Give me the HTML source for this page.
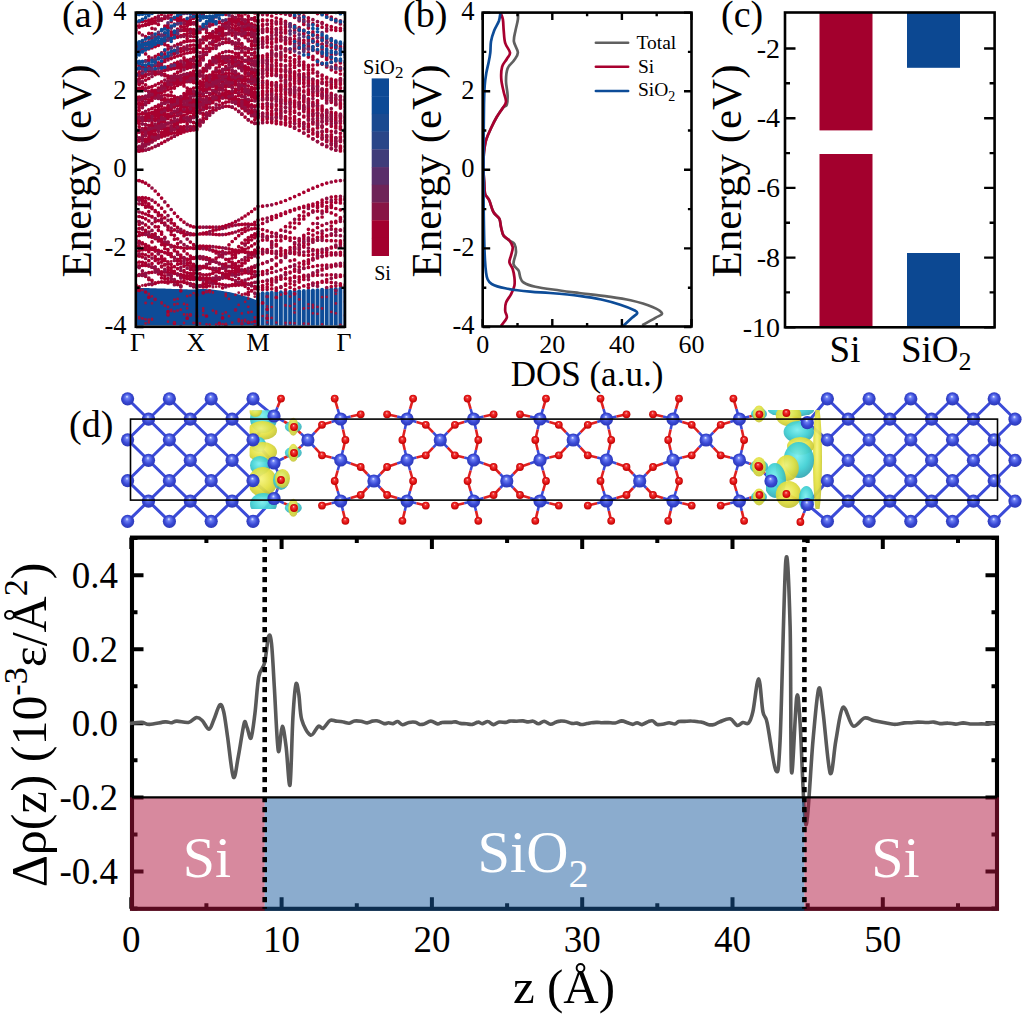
<!DOCTYPE html>
<html><head><meta charset="utf-8"><style>html,body{margin:0;padding:0;background:#fff;overflow:hidden}svg{display:block}text{font-family:"Liberation Serif",serif}</style></head>
<body><svg width="1025" height="1014" viewBox="0 0 1025 1014">
<g id="pa">
<clipPath id="clipa"><rect x="136.0" y="13.9" width="207.7" height="311.6"/></clipPath>
<g clip-path="url(#clipa)">
<polygon points="136.0,330 136.0,287.7 137.0,287.7 138.0,287.8 139.0,287.8 140.0,287.8 141.0,287.9 142.0,287.9 143.0,287.9 144.0,288.0 145.0,288.0 146.0,288.0 147.0,288.1 148.0,288.1 149.0,288.1 150.0,288.2 151.0,288.2 152.0,288.2 153.0,288.2 154.0,288.3 155.0,288.3 156.0,288.3 157.0,288.4 158.0,288.4 159.0,288.4 160.0,288.5 161.0,288.5 162.0,288.5 163.0,288.6 164.0,288.6 165.0,288.6 166.0,288.7 167.0,288.7 168.0,288.7 169.0,288.8 170.0,288.8 171.0,288.8 172.0,288.9 173.0,288.9 174.0,288.9 175.0,289.0 176.0,289.0 177.0,289.0 178.0,289.1 179.0,289.1 180.0,289.1 181.0,289.2 182.0,289.2 183.0,289.2 184.0,289.3 185.0,289.3 186.0,289.3 187.0,289.3 188.0,289.4 189.0,289.4 190.0,289.4 191.0,289.5 192.0,289.5 193.0,289.5 194.0,289.6 195.0,289.6 196.0,289.6 197.0,288.9 198.0,288.9 199.0,288.9 200.0,288.9 201.0,288.9 202.0,289.0 203.0,289.0 204.0,289.0 205.0,289.1 206.0,289.1 207.0,289.2 208.0,289.3 209.0,289.3 210.0,289.4 211.0,289.5 212.0,289.6 213.0,289.7 214.0,289.8 215.0,289.9 216.0,290.0 217.0,290.2 218.0,290.3 219.0,290.4 220.0,290.6 221.0,290.7 222.0,290.9 223.0,291.0 224.0,291.2 225.0,291.4 226.0,291.6 227.0,291.7 228.0,291.9 229.0,292.1 230.0,292.3 231.0,292.6 232.0,292.8 233.0,293.0 234.0,293.2 235.0,293.5 236.0,293.7 237.0,294.0 238.0,294.2 239.0,294.5 240.0,294.8 241.0,295.0 242.0,295.3 243.0,295.6 244.0,295.9 245.0,296.2 246.0,296.5 247.0,296.8 248.0,297.1 249.0,297.5 250.0,297.8 251.0,298.1 252.0,298.5 253.0,298.8 254.0,299.2 255.0,299.5 256.0,299.9 257.0,300.3 258.0,293.6 258.0,330" fill="#0d4c98"/>
<line x1="258.0" y1="293.6" x2="258.0" y2="330" stroke="#0d4c98" stroke-width="3.9" stroke-linecap="round"/>
<line x1="262.6" y1="293.3" x2="262.6" y2="330" stroke="#0d4c98" stroke-width="3.9" stroke-linecap="round"/>
<line x1="267.2" y1="293.1" x2="267.2" y2="330" stroke="#0d4c98" stroke-width="3.9" stroke-linecap="round"/>
<line x1="271.7" y1="292.8" x2="271.7" y2="330" stroke="#0d4c98" stroke-width="3.9" stroke-linecap="round"/>
<line x1="276.3" y1="292.5" x2="276.3" y2="330" stroke="#0d4c98" stroke-width="3.9" stroke-linecap="round"/>
<line x1="280.9" y1="292.3" x2="280.9" y2="330" stroke="#0d4c98" stroke-width="3.9" stroke-linecap="round"/>
<line x1="285.5" y1="292.0" x2="285.5" y2="330" stroke="#0d4c98" stroke-width="3.9" stroke-linecap="round"/>
<line x1="290.1" y1="291.7" x2="290.1" y2="330" stroke="#0d4c98" stroke-width="3.9" stroke-linecap="round"/>
<line x1="294.6" y1="291.4" x2="294.6" y2="330" stroke="#0d4c98" stroke-width="3.9" stroke-linecap="round"/>
<line x1="299.2" y1="291.2" x2="299.2" y2="330" stroke="#0d4c98" stroke-width="3.9" stroke-linecap="round"/>
<line x1="303.8" y1="290.9" x2="303.8" y2="330" stroke="#0d4c98" stroke-width="3.9" stroke-linecap="round"/>
<line x1="308.4" y1="290.6" x2="308.4" y2="330" stroke="#0d4c98" stroke-width="3.9" stroke-linecap="round"/>
<line x1="312.9" y1="290.4" x2="312.9" y2="330" stroke="#0d4c98" stroke-width="3.9" stroke-linecap="round"/>
<line x1="317.5" y1="290.1" x2="317.5" y2="330" stroke="#0d4c98" stroke-width="3.9" stroke-linecap="round"/>
<line x1="322.1" y1="289.8" x2="322.1" y2="330" stroke="#0d4c98" stroke-width="3.9" stroke-linecap="round"/>
<line x1="326.7" y1="289.6" x2="326.7" y2="330" stroke="#0d4c98" stroke-width="3.9" stroke-linecap="round"/>
<line x1="331.3" y1="289.3" x2="331.3" y2="330" stroke="#0d4c98" stroke-width="3.9" stroke-linecap="round"/>
<line x1="335.8" y1="289.0" x2="335.8" y2="330" stroke="#0d4c98" stroke-width="3.9" stroke-linecap="round"/>
<line x1="340.4" y1="288.8" x2="340.4" y2="330" stroke="#0d4c98" stroke-width="3.9" stroke-linecap="round"/>
<line x1="345.0" y1="288.5" x2="345.0" y2="330" stroke="#0d4c98" stroke-width="3.9" stroke-linecap="round"/>
<path d="M136.0 151.3h0M139.2 151.2h0M142.4 150.7h0M145.6 150.0h0M148.8 149.1h0M152.0 147.8h0M158.4 144.9h0M161.6 143.2h0M164.8 141.4h0M168.0 139.6h0M171.2 137.9h0M174.4 136.2h0M177.6 134.6h0M180.8 133.2h0M184.0 132.0h0M187.2 131.0h0M190.4 130.3h0M193.6 129.9h0M196.8 129.7h0M206.5 118.5h0M216.1 110.0h0M219.3 108.1h0M222.6 106.9h0M225.8 106.2h0M229.0 106.3h0M232.2 107.2h0M235.5 109.0h0M245.1 117.1h0M251.6 122.0h0M258.0 123.8h0M267.2 122.3h0M271.7 122.6h0M276.3 123.6h0M280.9 124.0h0M285.5 124.8h0M290.1 126.2h0M299.2 130.4h0M303.8 133.0h0M308.4 135.9h0M312.9 138.8h0M317.5 141.6h0M326.7 146.7h0M331.3 148.6h0M340.4 151.0h0M345.0 151.3h0M136.0 180.4h0M139.2 180.7h0M142.4 181.7h0M145.6 183.2h0M148.8 185.3h0M155.2 191.0h0M158.4 194.4h0M161.6 198.1h0M168.0 205.7h0M174.4 213.2h0M177.6 216.6h0M180.8 219.6h0M184.0 222.2h0M190.4 225.9h0M193.6 226.9h0M196.8 227.2h0M200.0 227.2h0M209.7 227.2h0M212.9 227.2h0M219.3 227.1h0M222.6 226.6h0M225.8 225.7h0M229.0 224.6h0M232.2 223.3h0M235.5 221.7h0M241.9 218.1h0M245.1 216.0h0M248.3 213.8h0M251.6 211.5h0M254.8 209.0h0M262.6 206.2h0M276.3 203.6h0M280.9 202.2h0M285.5 200.5h0M290.1 198.6h0M294.6 196.6h0M299.2 194.5h0M303.8 192.3h0M308.4 190.2h0M312.9 188.2h0M317.5 186.3h0M322.1 184.6h0M326.7 183.1h0M335.8 181.1h0M345.0 180.4h0M136.0 146.6h0M142.4 145.6h0M148.8 143.1h0M152.0 141.4h0M155.2 139.4h0M158.4 137.1h0M161.6 134.7h0M164.8 132.3h0M168.0 129.8h0M171.2 127.3h0M174.4 125.0h0M177.6 122.8h0M180.8 120.9h0M184.0 119.2h0M187.2 117.9h0M190.4 117.0h0M193.6 116.5h0M196.8 116.3h0M200.0 112.9h0M206.5 106.6h0M209.7 103.9h0M212.9 101.6h0M216.1 99.7h0M219.3 98.4h0M222.6 97.5h0M225.8 97.3h0M229.0 97.6h0M232.2 98.8h0M235.5 100.7h0M238.7 103.2h0M251.6 113.0h0M254.8 114.1h0M262.6 113.2h0M267.2 112.8h0M271.7 113.4h0M276.3 114.8h0M280.9 115.5h0M285.5 116.7h0M290.1 118.5h0M294.6 120.8h0M299.2 123.5h0M312.9 133.0h0M317.5 136.2h0M322.1 139.1h0M326.7 141.7h0M335.8 145.4h0M340.4 146.3h0M345.0 146.6h0M139.2 129.8h0M145.6 129.5h0M152.0 129.1h0M155.2 128.9h0M158.4 128.6h0M161.6 128.3h0M164.8 128.1h0M168.0 127.8h0M174.4 127.3h0M180.8 126.9h0M184.0 126.7h0M187.2 126.6h0M193.6 126.6h0M196.8 126.6h0M203.2 113.6h0M206.5 107.5h0M209.7 101.9h0M212.9 96.9h0M216.1 92.6h0M222.6 86.9h0M225.8 85.6h0M232.2 86.5h0M235.5 89.0h0M238.7 92.5h0M245.1 101.4h0M248.3 106.2h0M251.6 110.7h0M254.8 114.6h0M258.0 117.7h0M262.6 115.0h0M267.2 112.7h0M271.7 111.1h0M285.5 107.4h0M294.6 107.1h0M299.2 107.9h0M303.8 109.3h0M308.4 111.1h0M312.9 113.3h0M317.5 115.8h0M326.7 121.1h0M335.8 126.0h0M340.4 128.1h0M345.0 129.9h0M139.2 149.0h0M155.2 140.0h0M158.4 137.9h0M161.6 135.9h0M164.8 134.0h0M168.0 132.2h0M174.4 129.2h0M177.6 128.2h0M180.8 127.4h0M184.0 127.0h0M190.4 127.1h0M193.6 127.6h0M196.8 128.5h0M200.0 124.6h0M203.2 120.7h0M209.7 113.3h0M212.9 110.1h0M219.3 105.0h0M222.6 103.3h0M225.8 102.2h0M229.0 101.7h0M238.7 105.6h0M241.9 108.1h0M245.1 110.7h0M248.3 113.1h0M251.6 115.1h0M254.8 116.4h0M258.0 116.9h0M262.6 116.8h0M267.2 117.3h0M276.3 120.7h0M280.9 122.1h0M285.5 123.8h0M290.1 126.1h0M294.6 128.1h0M299.2 130.4h0M308.4 135.9h0M312.9 138.8h0M317.5 141.6h0M322.1 144.3h0M326.7 146.7h0M331.3 148.6h0M335.8 150.1h0M340.4 150.7h0M345.0 150.2h0M142.4 145.5h0M145.6 142.8h0M148.8 140.0h0M155.2 134.2h0M161.6 128.7h0M168.0 124.1h0M174.4 121.0h0M177.6 120.1h0M180.8 119.7h0M184.0 119.7h0M190.4 121.3h0M193.6 122.7h0M196.8 124.5h0M200.0 122.4h0M203.2 120.4h0M206.5 118.5h0M216.1 110.0h0M225.8 106.2h0M229.0 106.3h0M235.5 109.0h0M238.7 111.4h0M241.9 114.2h0M245.1 117.1h0M248.3 119.8h0M251.6 122.0h0M254.8 123.3h0M258.0 122.6h0M262.6 120.3h0M267.2 118.5h0M285.5 117.0h0M290.1 117.8h0M294.6 119.2h0M299.2 121.3h0M308.4 127.0h0M312.9 130.3h0M317.5 133.8h0M326.7 140.6h0M331.3 143.7h0M340.4 148.5h0M345.0 150.2h0M139.2 147.4h0M145.6 140.8h0M148.8 137.2h0M152.0 133.5h0M155.2 129.7h0M161.6 122.6h0M168.0 116.7h0M171.2 114.4h0M174.4 112.6h0M177.6 111.3h0M180.8 110.7h0M184.0 110.7h0M187.2 111.3h0M190.4 112.5h0M193.6 114.2h0M196.8 116.5h0M200.0 110.3h0M203.2 104.5h0M206.5 99.1h0M209.7 94.3h0M216.1 87.3h0M219.3 85.1h0M225.8 84.0h0M232.2 87.3h0M235.5 90.8h0M238.7 95.3h0M241.9 100.4h0M245.1 105.7h0M248.3 111.0h0M254.8 119.7h0M258.0 122.6h0M262.6 119.1h0M271.7 114.3h0M276.3 113.3h0M280.9 111.9h0M290.1 111.4h0M294.6 112.4h0M303.8 117.0h0M312.9 123.9h0M317.5 128.0h0M322.1 132.1h0M326.7 136.3h0M331.3 140.4h0M335.8 144.1h0M340.4 147.4h0M345.0 150.2h0M136.0 150.2h0M139.2 148.5h0M142.4 146.3h0M145.6 143.6h0M148.8 140.5h0M152.0 137.0h0M155.2 133.4h0M158.4 129.6h0M164.8 122.0h0M168.0 118.4h0M171.2 115.1h0M174.4 112.1h0M177.6 109.6h0M180.8 107.6h0M184.0 106.2h0M187.2 105.4h0M193.6 105.7h0M196.8 106.7h0M200.0 103.0h0M203.2 99.7h0M206.5 96.7h0M209.7 94.2h0M212.9 92.2h0M216.1 90.8h0M219.3 90.1h0M222.6 90.0h0M225.8 90.6h0M229.0 91.8h0M232.2 93.9h0M235.5 96.8h0M238.7 100.3h0M245.1 107.6h0M248.3 110.8h0M251.6 113.4h0M258.0 115.4h0M262.6 116.9h0M267.2 118.9h0M271.7 121.7h0M276.3 123.6h0M280.9 124.0h0M285.5 124.8h0M290.1 126.2h0M299.2 130.4h0M303.8 133.0h0M308.4 135.9h0M317.5 141.6h0M322.1 144.3h0M326.7 146.7h0M335.8 150.1h0M340.4 151.0h0M345.0 150.2h0M136.0 141.2h0M139.2 141.2h0M145.6 140.7h0M148.8 140.2h0M152.0 139.6h0M161.6 136.9h0M164.8 135.9h0M168.0 134.9h0M171.2 133.8h0M174.4 132.8h0M177.6 131.9h0M180.8 131.0h0M184.0 130.2h0M187.2 129.6h0M190.4 129.1h0M193.6 128.7h0M196.8 128.5h0M203.2 114.9h0M206.5 108.3h0M219.3 87.9h0M222.6 84.9h0M235.5 84.9h0M241.9 92.1h0M248.3 101.3h0M251.6 105.8h0M258.0 113.2h0M262.6 107.9h0M267.2 103.3h0M271.7 99.8h0M280.9 94.6h0M285.5 92.8h0M290.1 92.2h0M299.2 94.4h0M303.8 97.1h0M308.4 100.7h0M317.5 109.9h0M322.1 115.2h0M331.3 126.3h0M340.4 136.7h0M345.0 141.2h0M139.2 149.1h0M142.4 147.4h0M145.6 144.8h0M148.8 141.7h0M152.0 137.9h0M155.2 133.7h0M168.0 114.7h0M171.2 110.0h0M174.4 105.6h0M177.6 101.6h0M180.8 98.2h0M184.0 95.4h0M187.2 93.2h0M190.4 91.9h0M196.8 91.5h0M200.0 83.9h0M206.5 70.8h0M209.7 65.6h0M216.1 58.9h0M219.3 57.5h0M222.6 57.5h0M225.8 58.8h0M232.2 65.8h0M238.7 78.0h0M245.1 93.0h0M248.3 100.5h0M254.8 113.2h0M258.0 117.9h0M262.6 113.2h0M267.2 109.3h0M271.7 106.5h0M276.3 104.7h0M280.9 102.7h0M285.5 101.6h0M290.1 101.6h0M294.6 102.7h0M299.2 104.8h0M303.8 107.8h0M308.4 111.6h0M312.9 116.1h0M317.5 121.0h0M326.7 131.5h0M331.3 136.7h0M340.4 146.2h0M345.0 150.2h0M139.2 118.3h0M145.6 119.7h0M148.8 120.1h0M152.0 120.3h0M155.2 120.3h0M158.4 120.0h0M168.0 117.9h0M171.2 116.8h0M174.4 115.6h0M180.8 112.9h0M184.0 111.5h0M187.2 110.1h0M193.6 107.5h0M196.8 106.4h0M200.0 100.2h0M206.5 88.4h0M209.7 83.2h0M212.9 78.6h0M216.1 74.8h0M219.3 71.8h0M222.6 69.8h0M229.0 68.8h0M238.7 76.2h0M241.9 80.5h0M245.1 85.1h0M248.3 89.7h0M251.6 94.0h0M254.8 97.7h0M258.0 100.5h0M262.6 99.9h0M267.2 99.7h0M271.7 100.2h0M280.9 101.4h0M285.5 101.8h0M294.6 103.9h0M299.2 105.4h0M308.4 109.1h0M312.9 111.0h0M317.5 112.8h0M322.1 114.4h0M326.7 115.8h0M331.3 116.8h0M335.8 117.4h0M340.4 117.6h0M136.0 123.0h0M139.2 123.5h0M148.8 125.3h0M152.0 125.9h0M155.2 126.5h0M158.4 127.1h0M164.8 128.2h0M168.0 128.7h0M171.2 129.1h0M177.6 129.5h0M180.8 129.6h0M184.0 129.6h0M190.4 129.3h0M196.8 128.5h0M200.0 123.5h0M203.2 118.2h0M212.9 102.6h0M225.8 87.1h0M229.0 85.0h0M232.2 83.9h0M235.5 84.0h0M241.9 86.7h0M245.1 88.9h0M248.3 91.2h0M251.6 93.4h0M254.8 95.2h0M258.0 96.5h0M262.6 93.8h0M267.2 91.8h0M271.7 90.7h0M276.3 90.4h0M280.9 89.6h0M290.1 90.0h0M294.6 91.3h0M299.2 93.3h0M308.4 98.8h0M312.9 102.2h0M322.1 109.3h0M326.7 112.7h0M335.8 118.8h0M136.0 123.0h0M139.2 126.4h0M142.4 129.5h0M148.8 134.1h0M152.0 135.6h0M155.2 136.5h0M158.4 136.7h0M161.6 136.2h0M164.8 135.2h0M168.0 133.5h0M171.2 131.2h0M174.4 128.4h0M177.6 125.3h0M180.8 121.7h0M184.0 118.0h0M187.2 114.0h0M190.4 110.1h0M193.6 106.2h0M196.8 102.5h0M200.0 96.8h0M203.2 91.1h0M212.9 75.0h0M216.1 70.6h0M219.3 66.8h0M222.6 63.8h0M225.8 61.6h0M229.0 60.4h0M232.2 60.3h0M235.5 61.4h0M238.7 63.6h0M241.9 66.4h0M245.1 69.7h0M248.3 73.1h0M258.0 81.1h0M262.6 80.8h0M267.2 81.2h0M271.7 82.7h0M280.9 86.6h0M285.5 88.7h0M290.1 91.5h0M294.6 94.7h0M299.2 98.3h0M303.8 102.1h0M312.9 109.8h0M322.1 116.6h0M331.3 121.3h0M340.4 123.2h0M345.0 123.0h0M142.4 150.0h0M152.0 147.8h0M161.6 143.2h0M164.8 141.4h0M171.2 137.9h0M177.6 134.6h0M180.8 133.2h0M184.0 128.7h0M187.2 123.9h0M193.6 114.5h0M209.7 100.4h0M219.3 96.5h0M222.6 96.1h0M225.8 96.1h0M232.2 98.0h0M235.5 100.0h0M238.7 102.4h0M241.9 105.0h0M248.3 109.6h0M251.6 111.0h0M254.8 111.5h0M258.0 110.9h0M262.6 108.1h0M267.2 105.9h0M276.3 104.5h0M290.1 104.6h0M294.6 106.2h0M299.2 108.6h0M303.8 111.6h0M317.5 123.0h0M322.1 127.1h0M326.7 131.0h0M331.3 134.7h0M335.8 138.0h0M340.4 140.8h0M345.0 142.9h0M136.0 140.6h0M139.2 139.3h0M148.8 133.1h0M152.0 130.4h0M158.4 124.7h0M161.6 121.8h0M164.8 118.9h0M168.0 116.2h0M171.2 113.7h0M180.8 108.2h0M184.0 107.2h0M187.2 106.6h0M190.4 106.5h0M193.6 106.9h0M200.0 103.8h0M206.5 96.5h0M212.9 90.6h0M216.1 88.5h0M219.3 87.0h0M225.8 85.8h0M229.0 86.3h0M235.5 89.9h0M241.9 96.1h0M245.1 99.4h0M248.3 102.4h0M251.6 104.8h0M254.8 106.5h0M262.6 106.6h0M267.2 106.7h0M271.7 107.8h0M276.3 109.5h0M280.9 110.6h0M285.5 112.1h0M290.1 114.2h0M294.6 116.7h0M299.2 119.6h0M303.8 122.7h0M308.4 126.0h0M312.9 129.2h0M322.1 135.0h0M326.7 137.3h0M331.3 139.1h0M335.8 140.3h0M345.0 140.6h0M139.2 129.8h0M142.4 129.7h0M145.6 129.4h0M148.8 129.0h0M155.2 127.5h0M158.4 126.6h0M168.0 123.4h0M171.2 122.2h0M180.8 119.0h0M190.4 116.7h0M193.6 116.3h0M196.8 116.0h0M203.2 109.4h0M206.5 106.2h0M209.7 103.1h0M212.9 100.2h0M216.1 97.6h0M219.3 95.4h0M222.6 93.7h0M225.8 92.4h0M229.0 91.6h0M232.2 91.7h0M235.5 92.5h0M238.7 93.9h0M241.9 95.7h0M251.6 100.5h0M258.0 100.7h0M262.6 99.4h0M285.5 100.6h0M290.1 101.9h0M294.6 103.8h0M303.8 109.0h0M308.4 112.0h0M312.9 115.1h0M322.1 121.2h0M326.7 123.8h0M331.3 126.1h0M335.8 127.9h0M340.4 129.1h0M345.0 129.7h0M136.0 133.4h0M142.4 130.0h0M145.6 127.9h0M148.8 125.5h0M152.0 123.0h0M155.2 120.5h0M158.4 117.9h0M161.6 115.3h0M164.8 112.9h0M168.0 110.7h0M171.2 108.8h0M174.4 107.1h0M177.6 105.8h0M180.8 104.9h0M187.2 104.4h0M190.4 104.7h0M196.8 106.7h0M203.2 102.2h0M209.7 98.4h0M212.9 96.9h0M216.1 95.7h0M219.3 94.9h0M222.6 94.4h0M225.8 94.4h0M229.0 94.8h0M235.5 97.4h0M238.7 99.4h0M245.1 103.5h0M248.3 105.1h0M251.6 106.0h0M254.8 105.9h0M258.0 104.9h0M262.6 104.1h0M276.3 105.7h0M280.9 106.3h0M290.1 108.9h0M294.6 110.9h0M299.2 113.3h0M303.8 116.0h0M308.4 118.9h0M317.5 124.6h0M322.1 127.2h0M326.7 129.5h0M331.3 131.3h0M340.4 133.3h0M345.0 133.4h0M136.0 140.9h0M139.2 139.0h0M148.8 131.6h0M152.0 128.8h0M155.2 125.9h0M158.4 123.1h0M161.6 120.4h0M164.8 117.8h0M168.0 115.5h0M174.4 111.8h0M177.6 110.6h0M180.8 109.8h0M187.2 109.6h0M190.4 110.2h0M193.6 111.3h0M196.8 112.8h0M200.0 109.9h0M203.2 107.1h0M206.5 104.6h0M209.7 102.4h0M212.9 100.6h0M216.1 99.2h0M219.3 98.2h0M222.6 97.8h0M225.8 97.8h0M229.0 98.4h0M232.2 99.7h0M238.7 104.2h0M241.9 106.9h0M245.1 109.6h0M248.3 111.8h0M251.6 113.3h0M258.0 113.6h0M267.2 114.0h0M271.7 115.2h0M276.3 117.1h0M285.5 119.6h0M290.1 121.4h0M299.2 126.1h0M303.8 128.7h0M308.4 131.4h0M312.9 133.9h0M317.5 136.3h0M322.1 138.3h0M331.3 141.1h0M335.8 141.6h0M340.4 141.6h0M139.2 138.0h0M142.4 138.7h0M145.6 139.0h0M148.8 138.8h0M152.0 138.1h0M155.2 137.0h0M161.6 133.6h0M164.8 131.4h0M168.0 129.0h0M174.4 123.6h0M177.6 120.8h0M180.8 118.1h0M184.0 115.4h0M187.2 113.0h0M190.4 110.8h0M193.6 108.8h0M200.0 103.9h0M206.5 97.2h0M209.7 94.0h0M212.9 91.0h0M216.1 88.3h0M219.3 86.1h0M222.6 84.3h0M225.8 83.0h0M229.0 82.3h0M232.2 82.4h0M235.5 83.2h0M241.9 86.6h0M251.6 91.6h0M254.8 92.3h0M258.0 92.1h0M262.6 95.3h0M276.3 109.1h0M285.5 118.0h0M290.1 122.6h0M294.6 127.1h0M299.2 130.4h0M308.4 135.9h0M312.9 138.8h0M322.1 144.3h0M331.3 145.0h0M340.4 140.6h0M345.0 136.9h0M139.2 102.7h0M142.4 100.8h0M145.6 98.7h0M148.8 96.5h0M152.0 94.2h0M155.2 91.9h0M158.4 89.7h0M161.6 87.5h0M164.8 85.6h0M168.0 83.8h0M171.2 82.3h0M174.4 81.2h0M177.6 80.4h0M184.0 79.8h0M187.2 80.2h0M190.4 80.8h0M193.6 81.9h0M196.8 83.2h0M200.0 82.8h0M203.2 82.3h0M206.5 81.8h0M209.7 81.3h0M212.9 80.8h0M216.1 80.3h0M219.3 79.9h0M225.8 79.1h0M229.0 78.9h0M232.2 79.0h0M235.5 79.3h0M238.7 79.9h0M241.9 80.3h0M245.1 80.5h0M248.3 80.1h0M251.6 78.9h0M254.8 76.9h0M267.2 72.9h0M271.7 73.7h0M276.3 75.1h0M280.9 75.9h0M285.5 77.0h0M294.6 81.0h0M299.2 83.6h0M303.8 86.4h0M308.4 89.5h0M312.9 92.5h0M317.5 95.4h0M322.1 98.1h0M326.7 100.4h0M331.3 102.3h0M340.4 104.3h0M345.0 104.3h0M136.0 130.6h0M139.2 131.6h0M142.4 132.2h0M145.6 132.4h0M148.8 132.2h0M152.0 131.6h0M155.2 130.5h0M158.4 129.1h0M161.6 127.4h0M164.8 125.4h0M171.2 120.7h0M177.6 115.7h0M184.0 110.7h0M187.2 108.5h0M190.4 106.5h0M196.8 103.4h0M203.2 95.8h0M209.7 89.0h0M212.9 86.1h0M219.3 81.7h0M222.6 80.3h0M225.8 79.5h0M229.0 79.4h0M232.2 80.2h0M235.5 81.8h0M241.9 86.8h0M245.1 89.5h0M248.3 92.0h0M251.6 94.0h0M254.8 95.3h0M262.6 91.0h0M267.2 87.2h0M271.7 84.4h0M276.3 82.7h0M280.9 80.8h0M285.5 79.9h0M290.1 80.0h0M294.6 81.3h0M299.2 83.6h0M303.8 86.8h0M308.4 90.9h0M312.9 95.6h0M317.5 100.7h0M322.1 106.1h0M331.3 116.9h0M335.8 122.0h0M340.4 126.6h0M345.0 130.6h0M136.0 150.2h0M139.2 148.7h0M142.4 146.8h0M145.6 144.8h0M148.8 142.5h0M152.0 140.0h0M158.4 134.9h0M161.6 132.4h0M164.8 130.0h0M168.0 127.8h0M171.2 125.9h0M174.4 124.2h0M177.6 122.9h0M180.8 122.0h0M184.0 121.4h0M187.2 121.3h0M193.6 122.4h0M196.8 123.5h0M200.0 120.9h0M203.2 117.9h0M206.5 114.7h0M209.7 111.3h0M212.9 107.8h0M219.3 101.1h0M225.8 95.1h0M229.0 92.7h0M235.5 89.9h0M238.7 89.5h0M241.9 89.5h0M245.1 89.6h0M248.3 89.7h0M251.6 89.6h0M254.8 88.9h0M262.6 85.5h0M267.2 84.3h0M271.7 84.5h0M276.3 85.9h0M280.9 87.3h0M285.5 89.5h0M294.6 96.9h0M299.2 101.8h0M303.8 107.3h0M308.4 113.2h0M326.7 136.6h0M331.3 141.3h0M335.8 145.2h0M340.4 148.2h0M345.0 150.2h0M136.0 120.6h0M139.2 120.0h0M145.6 118.1h0M148.8 116.8h0M152.0 115.4h0M155.2 113.9h0M158.4 112.3h0M161.6 110.6h0M164.8 109.0h0M168.0 107.4h0M171.2 105.9h0M177.6 103.4h0M180.8 102.4h0M190.4 101.0h0M193.6 101.1h0M196.8 101.4h0M200.0 98.0h0M203.2 94.7h0M206.5 91.5h0M209.7 88.6h0M212.9 86.1h0M216.1 84.0h0M219.3 82.3h0M222.6 81.2h0M229.0 80.7h0M232.2 81.6h0M235.5 83.2h0M238.7 85.5h0M241.9 88.0h0M251.6 94.6h0M254.8 95.6h0M258.0 95.6h0M262.6 94.8h0M267.2 94.6h0M276.3 96.3h0M280.9 96.8h0M285.5 97.6h0M290.1 99.0h0M294.6 100.8h0M299.2 102.9h0M303.8 105.4h0M308.4 107.9h0M312.9 110.6h0M331.3 119.0h0M335.8 120.1h0M340.4 120.7h0M136.0 132.0h0M139.2 132.1h0M142.4 131.6h0M145.6 130.6h0M152.0 126.8h0M164.8 114.2h0M168.0 110.5h0M171.2 106.8h0M174.4 103.2h0M184.0 93.7h0M187.2 91.3h0M190.4 89.4h0M193.6 88.1h0M196.8 87.3h0M200.0 86.4h0M203.2 85.7h0M206.5 85.5h0M209.7 85.5h0M216.1 86.7h0M219.3 87.8h0M222.6 89.2h0M225.8 90.8h0M229.0 92.7h0M232.2 95.1h0M235.5 97.7h0M238.7 100.5h0M241.9 103.0h0M245.1 105.2h0M248.3 106.5h0M251.6 106.9h0M254.8 106.0h0M258.0 103.9h0M271.7 92.0h0M276.3 89.9h0M280.9 87.6h0M285.5 86.1h0M290.1 85.7h0M294.6 86.5h0M299.2 88.2h0M303.8 90.9h0M308.4 94.4h0M317.5 103.2h0M322.1 108.2h0M331.3 118.5h0M335.8 123.4h0M340.4 127.9h0M142.4 134.9h0M145.6 131.6h0M152.0 124.3h0M155.2 120.5h0M158.4 116.7h0M161.6 113.0h0M164.8 109.5h0M168.0 106.4h0M171.2 103.6h0M174.4 101.4h0M180.8 98.5h0M184.0 98.0h0M187.2 98.1h0M190.4 98.9h0M193.6 100.2h0M196.8 102.2h0M200.0 98.1h0M203.2 93.8h0M206.5 89.4h0M212.9 80.6h0M216.1 76.5h0M219.3 72.7h0M225.8 66.7h0M232.2 63.3h0M235.5 63.1h0M238.7 63.6h0M245.1 66.2h0M248.3 67.7h0M258.0 70.1h0M262.6 69.2h0M271.7 71.1h0M276.3 74.0h0M280.9 76.7h0M285.5 80.2h0M290.1 84.6h0M294.6 89.8h0M299.2 95.6h0M303.8 101.7h0M308.4 108.0h0M317.5 120.3h0M322.1 125.9h0M326.7 130.7h0M331.3 134.7h0M335.8 137.7h0M340.4 139.6h0M345.0 140.3h0M136.0 119.5h0M139.2 120.1h0M145.6 120.6h0M148.8 120.4h0M155.2 119.4h0M158.4 118.5h0M164.8 116.1h0M168.0 114.7h0M171.2 113.2h0M174.4 111.7h0M180.8 108.5h0M184.0 107.0h0M187.2 105.7h0M190.4 104.4h0M193.6 103.4h0M196.8 102.5h0M203.2 94.4h0M206.5 90.5h0M209.7 87.0h0M212.9 83.8h0M219.3 78.9h0M222.6 77.4h0M229.0 76.3h0M235.5 78.7h0M241.9 83.8h0M248.3 89.4h0M251.6 91.7h0M254.8 93.2h0M262.6 92.1h0M267.2 90.9h0M271.7 90.6h0M276.3 90.9h0M280.9 90.7h0M285.5 91.0h0M290.1 91.9h0M294.6 93.4h0M299.2 95.4h0M308.4 100.7h0M312.9 103.7h0M317.5 106.7h0M322.1 109.7h0M335.8 117.0h0M340.4 118.5h0M345.0 119.5h0M136.0 116.8h0M145.6 117.3h0M148.8 116.8h0M152.0 116.1h0M155.2 115.0h0M158.4 113.8h0M161.6 112.3h0M168.0 108.9h0M174.4 105.1h0M177.6 103.3h0M180.8 101.5h0M184.0 99.8h0M187.2 98.4h0M190.4 97.1h0M196.8 95.3h0M203.2 89.2h0M209.7 84.2h0M219.3 79.9h0M225.8 79.5h0M229.0 80.1h0M232.2 81.6h0M235.5 83.7h0M238.7 86.3h0M241.9 89.2h0M245.1 92.0h0M248.3 94.4h0M251.6 96.1h0M254.8 96.9h0M258.0 96.7h0M262.6 95.3h0M267.2 94.3h0M276.3 94.4h0M280.9 94.2h0M285.5 94.3h0M290.1 94.9h0M294.6 96.1h0M299.2 97.8h0M303.8 99.8h0M317.5 107.0h0M322.1 109.4h0M331.3 113.5h0M335.8 115.1h0M345.0 116.8h0M136.0 115.2h0M139.2 114.1h0M142.4 112.8h0M148.8 109.8h0M152.0 108.3h0M155.2 106.7h0M158.4 105.2h0M161.6 103.8h0M164.8 102.6h0M168.0 101.4h0M171.2 100.5h0M174.4 99.8h0M177.6 99.3h0M180.8 99.1h0M184.0 99.1h0M187.2 99.4h0M193.6 100.7h0M196.8 101.7h0M200.0 98.1h0M203.2 94.6h0M206.5 91.1h0M209.7 87.8h0M212.9 84.8h0M216.1 82.2h0M225.8 77.0h0M229.0 76.5h0M232.2 76.7h0M238.7 79.5h0M241.9 81.6h0M245.1 83.8h0M248.3 85.8h0M251.6 87.4h0M254.8 88.2h0M258.0 88.3h0M262.6 87.8h0M267.2 87.9h0M271.7 88.8h0M276.3 90.3h0M280.9 91.1h0M285.5 92.2h0M290.1 93.8h0M294.6 95.9h0M299.2 98.2h0M303.8 100.8h0M308.4 103.5h0M312.9 106.2h0M317.5 108.7h0M322.1 111.0h0M331.3 114.3h0M335.8 115.2h0M345.0 115.2h0M136.0 121.1h0M139.2 121.3h0M142.4 121.0h0M145.6 120.4h0M148.8 119.3h0M152.0 118.0h0M155.2 116.3h0M158.4 114.4h0M164.8 109.9h0M168.0 107.5h0M174.4 102.8h0M177.6 100.5h0M180.8 98.4h0M184.0 96.5h0M187.2 95.0h0M190.4 93.7h0M193.6 92.8h0M196.8 92.2h0M200.0 88.8h0M203.2 85.5h0M206.5 82.7h0M209.7 80.2h0M212.9 78.3h0M216.1 76.9h0M222.6 75.9h0M225.8 76.3h0M229.0 77.3h0M232.2 79.2h0M235.5 81.9h0M238.7 85.1h0M241.9 88.5h0M248.3 94.8h0M251.6 97.1h0M254.8 98.4h0M258.0 98.7h0M262.6 97.8h0M267.2 97.4h0M271.7 97.7h0M276.3 98.7h0M280.9 99.0h0M285.5 99.6h0M290.1 100.7h0M294.6 102.3h0M303.8 106.4h0M308.4 108.8h0M312.9 111.3h0M317.5 113.7h0M322.1 115.9h0M326.7 117.8h0M335.8 120.5h0M340.4 121.1h0M345.0 121.1h0M136.0 87.8h0M139.2 88.4h0M142.4 89.3h0M145.6 90.3h0M148.8 91.5h0M152.0 92.8h0M155.2 94.2h0M164.8 98.6h0M168.0 99.9h0M171.2 101.1h0M174.4 102.2h0M180.8 103.9h0M184.0 104.4h0M190.4 104.7h0M193.6 104.5h0M196.8 104.1h0M200.0 100.2h0M203.2 96.0h0M206.5 91.7h0M209.7 87.4h0M216.1 79.1h0M219.3 75.4h0M225.8 69.4h0M232.2 66.1h0M235.5 65.8h0M238.7 66.3h0M241.9 67.3h0M245.1 68.6h0M248.3 70.0h0M251.6 71.1h0M254.8 71.8h0M258.0 72.0h0M262.6 71.0h0M267.2 70.5h0M271.7 70.6h0M276.3 71.3h0M280.9 71.2h0M285.5 71.3h0M290.1 71.9h0M294.6 73.0h0M303.8 76.0h0M312.9 79.8h0M317.5 81.7h0M326.7 85.1h0M331.3 86.3h0M335.8 87.2h0M340.4 87.7h0M345.0 87.8h0M136.0 135.5h0M139.2 132.1h0M142.4 128.5h0M145.6 124.6h0M155.2 112.9h0M158.4 109.4h0M161.6 106.2h0M168.0 101.1h0M171.2 99.4h0M174.4 98.2h0M177.6 97.8h0M180.8 97.9h0M184.0 98.8h0M187.2 100.2h0M190.4 102.2h0M196.8 107.8h0M200.0 105.3h0M209.7 94.7h0M212.9 90.6h0M216.1 86.2h0M225.8 73.5h0M229.0 69.7h0M232.2 66.7h0M241.9 61.5h0M245.1 60.6h0M251.6 58.8h0M254.8 57.7h0M258.0 56.2h0M262.6 58.1h0M267.2 61.3h0M276.3 71.4h0M280.9 76.7h0M290.1 88.9h0M294.6 95.7h0M308.4 116.3h0M312.9 122.3h0M317.5 127.7h0M322.1 132.1h0M331.3 137.5h0M340.4 137.6h0M136.0 112.6h0M139.2 110.3h0M148.8 101.5h0M152.0 98.3h0M155.2 95.0h0M158.4 91.8h0M164.8 86.0h0M168.0 83.6h0M171.2 81.5h0M177.6 78.7h0M180.8 78.0h0M184.0 77.9h0M187.2 78.4h0M190.4 79.3h0M193.6 80.8h0M196.8 82.7h0M200.0 76.1h0M203.2 70.2h0M209.7 61.1h0M216.1 56.5h0M219.3 56.0h0M225.8 58.7h0M229.0 61.9h0M235.5 72.2h0M238.7 78.9h0M241.9 86.0h0M245.1 93.3h0M248.3 100.2h0M251.6 106.4h0M254.8 111.5h0M267.2 117.9h0M271.7 119.7h0M276.3 121.5h0M280.9 122.2h0M285.5 122.6h0M290.1 123.1h0M294.6 123.4h0M299.2 123.7h0M303.8 123.9h0M308.4 123.8h0M312.9 123.5h0M335.8 117.4h0M340.4 115.1h0M345.0 112.6h0M136.0 114.2h0M139.2 114.2h0M142.4 114.0h0M145.6 113.6h0M148.8 113.1h0M152.0 112.3h0M155.2 111.4h0M158.4 110.4h0M161.6 109.3h0M164.8 108.1h0M168.0 106.9h0M171.2 105.7h0M174.4 104.5h0M177.6 103.4h0M180.8 102.4h0M184.0 101.5h0M187.2 100.8h0M190.4 100.2h0M193.6 99.8h0M196.8 99.6h0M200.0 94.1h0M203.2 88.7h0M209.7 78.5h0M212.9 74.0h0M219.3 66.8h0M222.6 64.2h0M225.8 62.5h0M232.2 62.2h0M235.5 63.7h0M238.7 66.1h0M241.9 69.2h0M245.1 72.7h0M248.3 76.1h0M258.0 83.8h0M262.6 83.1h0M267.2 82.9h0M271.7 83.6h0M276.3 84.9h0M280.9 85.7h0M285.5 86.8h0M290.1 88.5h0M299.2 93.3h0M303.8 96.2h0M308.4 99.2h0M312.9 102.3h0M317.5 105.2h0M322.1 107.9h0M326.7 110.2h0M331.3 112.1h0M335.8 113.4h0M345.0 114.2h0M139.2 105.6h0M142.4 103.8h0M148.8 99.5h0M152.0 97.2h0M155.2 94.8h0M158.4 92.5h0M164.8 88.0h0M168.0 86.1h0M174.4 83.1h0M177.6 82.0h0M180.8 81.4h0M184.0 81.1h0M190.4 81.7h0M193.6 82.6h0M196.8 83.8h0M200.0 81.4h0M203.2 79.1h0M206.5 77.0h0M209.7 75.0h0M212.9 73.3h0M216.1 71.9h0M219.3 70.9h0M225.8 69.9h0M229.0 70.0h0M235.5 72.3h0M238.7 74.1h0M241.9 76.1h0M245.1 78.0h0M248.3 79.5h0M251.6 80.3h0M254.8 80.3h0M258.0 79.3h0M262.6 77.3h0M267.2 75.8h0M271.7 75.2h0M276.3 75.4h0M280.9 75.1h0M285.5 75.3h0M290.1 76.3h0M294.6 77.9h0M299.2 80.0h0M303.8 82.7h0M308.4 85.7h0M317.5 92.3h0M331.3 101.6h0M340.4 105.9h0M136.0 100.1h0M139.2 99.1h0M142.4 97.8h0M152.0 92.5h0M155.2 90.3h0M158.4 88.1h0M164.8 83.7h0M171.2 79.6h0M174.4 77.9h0M177.6 76.4h0M184.0 74.4h0M190.4 73.8h0M193.6 74.1h0M196.8 74.7h0M200.0 71.9h0M203.2 69.3h0M206.5 67.0h0M209.7 64.9h0M212.9 63.2h0M216.1 61.9h0M219.3 61.0h0M222.6 60.6h0M229.0 61.1h0M232.2 62.4h0M235.5 64.3h0M238.7 66.7h0M245.1 71.7h0M251.6 75.0h0M254.8 75.5h0M258.0 74.9h0M262.6 73.9h0M267.2 73.5h0M271.7 73.8h0M276.3 74.8h0M280.9 75.1h0M285.5 75.8h0M290.1 77.1h0M294.6 78.8h0M303.8 83.4h0M317.5 91.4h0M322.1 93.8h0M326.7 96.0h0M335.8 99.1h0M340.4 99.9h0M142.4 82.8h0M145.6 84.9h0M148.8 87.4h0M152.0 90.1h0M155.2 93.1h0M158.4 96.2h0M161.6 99.4h0M164.8 102.6h0M168.0 105.6h0M171.2 108.5h0M177.6 113.3h0M180.8 115.1h0M184.0 116.5h0M190.4 117.7h0M200.0 112.4h0M203.2 107.8h0M206.5 103.0h0M209.7 98.3h0M212.9 93.7h0M216.1 89.4h0M222.6 82.1h0M225.8 79.3h0M229.0 77.3h0M235.5 76.1h0M238.7 76.9h0M241.9 78.3h0M245.1 80.0h0M254.8 84.8h0M258.0 85.5h0M262.6 85.2h0M267.2 85.0h0M271.7 85.2h0M280.9 84.9h0M285.5 84.2h0M290.1 83.7h0M294.6 83.3h0M299.2 83.1h0M303.8 83.0h0M308.4 83.0h0M312.9 83.0h0M317.5 82.9h0M322.1 82.8h0M326.7 82.6h0M331.3 82.2h0M335.8 81.7h0M345.0 80.0h0M136.0 110.5h0M139.2 107.9h0M142.4 105.4h0M145.6 103.0h0M148.8 100.9h0M152.0 99.0h0M155.2 97.4h0M158.4 96.2h0M161.6 95.4h0M164.8 95.0h0M168.0 95.0h0M171.2 95.5h0M174.4 96.4h0M177.6 97.7h0M180.8 99.3h0M184.0 101.3h0M187.2 103.5h0M190.4 105.9h0M193.6 108.5h0M196.8 111.1h0M200.0 100.5h0M203.2 89.5h0M206.5 78.6h0M212.9 57.6h0M219.3 40.0h0M222.6 33.1h0M229.0 23.8h0M232.2 22.0h0M235.5 22.3h0M238.7 24.4h0M241.9 28.2h0M248.3 39.2h0M251.6 45.7h0M254.8 52.4h0M262.6 56.0h0M267.2 54.1h0M271.7 53.4h0M276.3 53.8h0M285.5 55.3h0M290.1 57.5h0M294.6 60.6h0M299.2 64.5h0M303.8 69.1h0M308.4 74.3h0M312.9 79.7h0M317.5 85.3h0M322.1 90.7h0M326.7 95.9h0M335.8 104.7h0M340.4 108.1h0M136.0 117.5h0M142.4 117.6h0M145.6 116.6h0M148.8 115.1h0M152.0 112.9h0M155.2 110.3h0M158.4 107.1h0M164.8 99.9h0M168.0 96.0h0M171.2 92.0h0M174.4 88.1h0M177.6 84.3h0M180.8 80.8h0M184.0 77.7h0M187.2 75.0h0M190.4 72.8h0M193.6 71.1h0M196.8 70.1h0M200.0 65.2h0M206.5 54.4h0M209.7 48.8h0M212.9 43.2h0M216.1 37.9h0M219.3 32.9h0M222.6 28.4h0M225.8 24.5h0M229.0 21.4h0M232.2 19.4h0M235.5 18.4h0M238.7 18.5h0M248.3 22.2h0M251.6 23.8h0M254.8 25.1h0M258.0 26.1h0M262.6 24.6h0M267.2 24.6h0M271.7 26.3h0M276.3 29.5h0M280.9 32.8h0M290.1 42.9h0M294.6 49.5h0M299.2 56.8h0M303.8 64.7h0M308.4 72.9h0M312.9 81.1h0M317.5 89.0h0M322.1 96.4h0M335.8 112.9h0M340.4 115.9h0M345.0 117.5h0M136.0 100.7h0M145.6 97.8h0M155.2 93.0h0M158.4 91.1h0M161.6 89.2h0M164.8 87.3h0M168.0 85.5h0M171.2 83.8h0M174.4 82.3h0M177.6 81.0h0M184.0 79.0h0M187.2 78.5h0M190.4 78.3h0M193.6 78.4h0M196.8 78.8h0M203.2 71.8h0M209.7 65.7h0M212.9 63.1h0M216.1 60.9h0M219.3 59.2h0M225.8 57.5h0M229.0 57.5h0M232.2 58.4h0M235.5 60.1h0M238.7 62.4h0M245.1 67.6h0M248.3 69.9h0M251.6 71.8h0M254.8 72.8h0M258.0 72.9h0M262.6 71.0h0M267.2 69.6h0M271.7 69.2h0M276.3 69.5h0M280.9 69.3h0M285.5 69.6h0M290.1 70.5h0M294.6 72.2h0M299.2 74.4h0M308.4 80.0h0M312.9 83.2h0M317.5 86.5h0M322.1 89.8h0M326.7 92.8h0M345.0 100.7h0M136.0 97.6h0M139.2 97.4h0M142.4 96.9h0M152.0 94.1h0M155.2 92.8h0M158.4 91.3h0M161.6 89.7h0M168.0 86.5h0M171.2 84.9h0M174.4 83.4h0M177.6 82.1h0M180.8 80.8h0M184.0 79.8h0M187.2 79.0h0M200.0 74.9h0M203.2 71.8h0M206.5 69.0h0M209.7 66.5h0M212.9 64.4h0M219.3 61.7h0M222.6 61.2h0M225.8 61.1h0M229.0 61.7h0M232.2 63.1h0M235.5 65.2h0M245.1 73.5h0M248.3 75.9h0M251.6 77.7h0M254.8 78.7h0M258.0 78.6h0M267.2 75.7h0M271.7 75.3h0M280.9 75.0h0M285.5 74.9h0M290.1 75.4h0M294.6 76.4h0M299.2 78.0h0M303.8 79.9h0M308.4 82.1h0M312.9 84.6h0M326.7 91.8h0M331.3 93.9h0M340.4 96.8h0M345.0 97.6h0M136.0 100.5h0M139.2 99.7h0M142.4 98.5h0M148.8 95.3h0M152.0 93.3h0M155.2 91.2h0M158.4 89.0h0M161.6 86.7h0M164.8 84.5h0M168.0 82.3h0M174.4 78.4h0M187.2 73.8h0M190.4 73.5h0M193.6 73.6h0M203.2 68.4h0M206.5 65.8h0M209.7 63.4h0M212.9 61.3h0M216.1 59.6h0M219.3 58.3h0M222.6 57.5h0M232.2 58.2h0M238.7 61.8h0M241.9 64.2h0M245.1 66.4h0M248.3 68.3h0M251.6 69.6h0M254.8 70.1h0M258.0 69.6h0M262.6 68.5h0M267.2 68.0h0M271.7 68.3h0M276.3 69.4h0M280.9 70.0h0M285.5 70.9h0M290.1 72.5h0M294.6 74.6h0M299.2 77.2h0M303.8 80.1h0M308.4 83.2h0M317.5 89.6h0M322.1 92.5h0M331.3 97.4h0M335.8 99.0h0M340.4 100.1h0M345.0 100.5h0M139.2 84.4h0M142.4 87.0h0M155.2 96.5h0M161.6 100.0h0M164.8 101.2h0M171.2 102.5h0M174.4 102.5h0M180.8 101.3h0M184.0 100.1h0M187.2 98.5h0M193.6 94.5h0M196.8 92.2h0M200.0 89.4h0M203.2 86.7h0M206.5 84.1h0M209.7 81.6h0M212.9 79.4h0M216.1 77.4h0M219.3 75.8h0M222.6 74.5h0M225.8 73.7h0M229.0 73.3h0M232.2 73.6h0M235.5 74.7h0M241.9 77.9h0M245.1 79.6h0M248.3 81.1h0M251.6 81.9h0M254.8 82.1h0M258.0 81.3h0M267.2 83.9h0M271.7 85.6h0M276.3 87.5h0M280.9 88.2h0M285.5 88.8h0M299.2 90.5h0M303.8 90.9h0M308.4 91.2h0M322.1 90.3h0M326.7 89.4h0M331.3 88.0h0M335.8 86.3h0M340.4 84.3h0M345.0 82.0h0M136.0 96.8h0M139.2 97.0h0M142.4 97.0h0M148.8 96.4h0M152.0 95.7h0M155.2 94.8h0M158.4 93.7h0M161.6 92.5h0M164.8 91.2h0M168.0 89.7h0M171.2 88.3h0M174.4 86.8h0M177.6 85.4h0M180.8 84.1h0M184.0 82.8h0M187.2 81.7h0M193.6 80.1h0M200.0 75.9h0M203.2 72.2h0M206.5 68.8h0M209.7 65.6h0M212.9 62.7h0M219.3 58.4h0M222.6 57.1h0M225.8 56.3h0M229.0 56.2h0M232.2 57.0h0M235.5 58.6h0M238.7 60.8h0M241.9 63.4h0M245.1 66.1h0M248.3 68.5h0M251.6 70.4h0M254.8 71.6h0M258.0 71.9h0M267.2 69.7h0M271.7 69.7h0M276.3 70.4h0M280.9 70.5h0M294.6 73.6h0M303.8 78.0h0M308.4 80.7h0M312.9 83.5h0M317.5 86.3h0M322.1 88.9h0M326.7 91.4h0M331.3 93.4h0M345.0 96.8h0M136.0 100.0h0M139.2 99.4h0M145.6 97.2h0M152.0 94.1h0M155.2 92.2h0M161.6 88.3h0M164.8 86.3h0M171.2 82.5h0M174.4 80.8h0M177.6 79.3h0M184.0 77.1h0M187.2 76.4h0M190.4 76.0h0M193.6 76.0h0M196.8 76.3h0M203.2 68.8h0M206.5 65.2h0M209.7 61.8h0M212.9 58.8h0M216.1 56.2h0M219.3 54.1h0M222.6 52.6h0M229.0 51.3h0M232.2 51.9h0M235.5 53.4h0M238.7 55.4h0M241.9 57.9h0M248.3 62.9h0M258.0 66.3h0M262.6 65.8h0M271.7 67.0h0M276.3 68.8h0M280.9 70.0h0M285.5 71.5h0M290.1 73.6h0M294.6 76.1h0M299.2 79.0h0M303.8 82.2h0M308.4 85.4h0M312.9 88.6h0M317.5 91.7h0M326.7 96.7h0M331.3 98.5h0M335.8 99.7h0M345.0 100.0h0M136.0 103.5h0M139.2 104.2h0M142.4 104.3h0M148.8 102.4h0M152.0 100.5h0M158.4 95.1h0M161.6 91.8h0M164.8 88.1h0M168.0 84.2h0M171.2 80.1h0M177.6 72.1h0M180.8 68.4h0M187.2 62.0h0M190.4 59.4h0M193.6 57.4h0M196.8 56.1h0M203.2 49.1h0M206.5 46.1h0M209.7 43.6h0M216.1 39.9h0M219.3 39.0h0M225.8 38.9h0M232.2 41.7h0M238.7 47.4h0M245.1 54.2h0M248.3 57.1h0M251.6 59.5h0M258.0 61.2h0M267.2 60.3h0M271.7 61.3h0M276.3 63.1h0M280.9 64.4h0M290.1 68.8h0M294.6 71.9h0M299.2 75.4h0M303.8 79.2h0M308.4 83.3h0M317.5 91.1h0M322.1 94.7h0M326.7 97.8h0M331.3 100.3h0M340.4 103.2h0M345.0 103.5h0M139.2 66.2h0M142.4 67.4h0M145.6 68.7h0M148.8 70.0h0M152.0 71.3h0M155.2 72.5h0M158.4 73.7h0M164.8 75.7h0M168.0 76.5h0M174.4 77.4h0M177.6 77.6h0M180.8 77.6h0M184.0 77.3h0M187.2 76.9h0M190.4 76.2h0M193.6 75.4h0M196.8 74.4h0M200.0 75.0h0M206.5 75.9h0M212.9 76.6h0M216.1 76.8h0M219.3 76.9h0M225.8 76.8h0M229.0 76.7h0M232.2 76.7h0M235.5 76.9h0M238.7 77.1h0M245.1 76.5h0M248.3 75.4h0M251.6 73.3h0M254.8 70.4h0M258.0 66.4h0M262.6 63.2h0M267.2 60.2h0M271.7 57.8h0M276.3 55.8h0M285.5 50.9h0M290.1 49.3h0M294.6 48.3h0M299.2 47.9h0M303.8 48.2h0M308.4 49.0h0M312.9 50.3h0M317.5 52.0h0M322.1 54.0h0M326.7 56.2h0M335.8 60.8h0M340.4 63.0h0M345.0 65.1h0M139.2 75.5h0M142.4 75.1h0M145.6 74.7h0M148.8 74.1h0M152.0 73.5h0M155.2 72.8h0M158.4 72.0h0M161.6 71.3h0M164.8 70.5h0M168.0 69.8h0M171.2 69.1h0M174.4 68.4h0M177.6 67.9h0M180.8 67.4h0M184.0 67.1h0M187.2 66.8h0M190.4 66.7h0M200.0 60.8h0M212.9 37.4h0M216.1 32.5h0M219.3 28.3h0M222.6 24.9h0M225.8 22.4h0M229.0 20.9h0M232.2 20.7h0M235.5 21.6h0M238.7 23.7h0M245.1 29.9h0M248.3 33.4h0M251.6 36.8h0M254.8 39.8h0M258.0 42.1h0M267.2 47.0h0M271.7 50.5h0M280.9 57.5h0M285.5 60.7h0M290.1 64.0h0M294.6 67.4h0M299.2 70.7h0M303.8 73.9h0M308.4 76.7h0M317.5 80.8h0M322.1 81.9h0M326.7 82.3h0M335.8 80.6h0M340.4 78.6h0M345.0 75.7h0M136.0 89.3h0M139.2 89.3h0M142.4 89.1h0M145.6 88.5h0M148.8 87.6h0M152.0 86.5h0M155.2 85.2h0M158.4 83.6h0M161.6 81.9h0M168.0 78.2h0M171.2 76.3h0M174.4 74.4h0M177.6 72.7h0M180.8 71.1h0M187.2 68.5h0M190.4 67.5h0M193.6 66.9h0M196.8 66.5h0M200.0 62.3h0M203.2 58.3h0M206.5 54.5h0M209.7 51.1h0M212.9 48.1h0M216.1 45.7h0M222.6 42.7h0M225.8 42.3h0M229.0 42.5h0M235.5 45.9h0M241.9 51.9h0M245.1 55.2h0M248.3 58.2h0M262.6 61.5h0M271.7 59.8h0M276.3 60.1h0M285.5 60.1h0M290.1 61.0h0M294.6 62.5h0M299.2 64.5h0M303.8 67.0h0M308.4 69.9h0M312.9 72.9h0M317.5 76.0h0M322.1 79.0h0M326.7 81.9h0M331.3 84.4h0M335.8 86.6h0M340.4 88.2h0M345.0 89.3h0M139.2 82.7h0M145.6 80.1h0M148.8 78.4h0M155.2 74.6h0M158.4 72.5h0M164.8 68.5h0M168.0 66.6h0M171.2 64.9h0M174.4 63.4h0M177.6 62.1h0M184.0 60.4h0M187.2 60.0h0M196.8 60.9h0M203.2 51.8h0M206.5 47.6h0M209.7 43.8h0M212.9 40.5h0M216.1 37.7h0M219.3 35.7h0M222.6 34.3h0M225.8 33.7h0M232.2 35.2h0M241.9 43.7h0M245.1 47.3h0M248.3 50.7h0M251.6 53.7h0M254.8 55.8h0M258.0 57.1h0M262.6 55.8h0M267.2 55.0h0M280.9 56.0h0M285.5 56.6h0M290.1 57.8h0M294.6 59.5h0M303.8 64.3h0M308.4 67.1h0M312.9 70.0h0M322.1 75.7h0M326.7 78.2h0M331.3 80.3h0M335.8 82.0h0M340.4 83.1h0M345.0 83.7h0M136.0 69.0h0M139.2 68.9h0M142.4 68.6h0M145.6 68.1h0M148.8 67.4h0M152.0 66.4h0M155.2 65.3h0M161.6 62.8h0M164.8 61.4h0M171.2 58.6h0M174.4 57.2h0M177.6 55.9h0M180.8 54.8h0M184.0 53.8h0M187.2 53.0h0M190.4 52.4h0M193.6 52.0h0M196.8 51.8h0M200.0 44.3h0M203.2 37.0h0M209.7 23.7h0M212.9 18.1h0M216.1 13.4h0M219.3 9.7h0M222.6 7.1h0M225.8 5.8h0M229.0 5.7h0M232.2 7.1h0M238.7 14.0h0M245.1 24.4h0M248.3 30.0h0M258.0 44.3h0M267.2 39.9h0M271.7 38.9h0M276.3 38.6h0M285.5 37.6h0M294.6 39.3h0M303.8 43.5h0M308.4 46.4h0M312.9 49.5h0M317.5 52.8h0M326.7 59.4h0M331.3 62.4h0M335.8 65.1h0M340.4 67.3h0M345.0 69.0h0M136.0 73.9h0M139.2 72.7h0M142.4 71.7h0M145.6 71.1h0M148.8 70.8h0M155.2 71.2h0M161.6 73.0h0M164.8 74.3h0M168.0 75.9h0M171.2 77.7h0M174.4 79.7h0M177.6 81.7h0M180.8 83.8h0M184.0 85.9h0M187.2 88.0h0M190.4 89.9h0M200.0 89.1h0M203.2 84.8h0M206.5 80.5h0M209.7 76.2h0M212.9 72.0h0M216.1 68.1h0M219.3 64.6h0M222.6 61.6h0M225.8 59.1h0M229.0 57.3h0M232.2 56.5h0M235.5 56.5h0M238.7 57.3h0M241.9 58.7h0M245.1 60.4h0M248.3 62.1h0M251.6 63.5h0M254.8 64.5h0M258.0 64.9h0M262.6 60.1h0M267.2 55.8h0M280.9 46.4h0M285.5 43.8h0M290.1 42.1h0M294.6 41.4h0M299.2 41.7h0M303.8 42.8h0M317.5 50.5h0M322.1 54.1h0M326.7 58.1h0M335.8 66.3h0M340.4 70.2h0M345.0 73.9h0M142.4 74.9h0M145.6 74.5h0M155.2 72.6h0M158.4 71.8h0M161.6 71.0h0M164.8 70.1h0M171.2 68.3h0M174.4 67.5h0M177.6 66.7h0M180.8 66.0h0M184.0 65.4h0M187.2 65.0h0M190.4 64.6h0M193.6 64.4h0M196.8 64.4h0M200.0 60.5h0M203.2 56.4h0M206.5 52.4h0M209.7 48.5h0M212.9 44.8h0M216.1 41.4h0M219.3 38.4h0M222.6 35.9h0M225.8 33.9h0M229.0 32.6h0M232.2 32.2h0M241.9 35.6h0M245.1 37.6h0M248.3 39.4h0M251.6 41.0h0M258.0 42.2h0M262.6 40.4h0M267.2 39.2h0M271.7 38.9h0M276.3 39.5h0M285.5 40.3h0M290.1 41.6h0M299.2 46.3h0M303.8 49.4h0M308.4 52.8h0M312.9 56.4h0M326.7 66.9h0M331.3 69.8h0M335.8 72.2h0M340.4 74.0h0M345.0 75.2h0M168.0 66.6h0M177.6 64.4h0M180.8 63.7h0M187.2 62.2h0M190.4 61.6h0M193.6 61.0h0M196.8 60.5h0M200.0 58.0h0M203.2 55.5h0M206.5 53.0h0M209.7 50.6h0M212.9 48.4h0M219.3 44.7h0M225.8 42.5h0M229.0 42.0h0M238.7 44.2h0M245.1 47.3h0M251.6 49.1h0M258.0 48.0h0M267.2 46.8h0M271.7 47.1h0M276.3 48.0h0M280.9 48.2h0M285.5 48.7h0M290.1 49.7h0M308.4 57.1h0M312.9 59.4h0M326.7 65.4h0M142.4 66.8h0M161.6 56.1h0M164.8 54.3h0M174.4 50.3h0M180.8 48.8h0M187.2 48.6h0M190.4 48.9h0M193.6 49.5h0M196.8 50.5h0M200.0 46.6h0M203.2 42.7h0M206.5 39.0h0M209.7 35.4h0M212.9 32.3h0M216.1 29.5h0M219.3 27.2h0M225.8 24.4h0M232.2 24.3h0M235.5 25.6h0M238.7 27.6h0M248.3 34.9h0M251.6 36.8h0M262.6 37.8h0M267.2 37.6h0M276.3 39.8h0M280.9 40.7h0M285.5 41.9h0M290.1 43.7h0M299.2 48.5h0M312.9 57.6h0M317.5 60.5h0M322.1 63.2h0M340.4 69.3h0M345.0 69.3h0M136.0 79.7h0M139.2 78.9h0M142.4 77.7h0M145.6 76.1h0M152.0 71.7h0M155.2 69.2h0M158.4 66.4h0M161.6 63.6h0M164.8 60.7h0M168.0 57.8h0M171.2 55.1h0M174.4 52.6h0M177.6 50.4h0M180.8 48.5h0M184.0 47.0h0M190.4 45.3h0M193.6 45.1h0M196.8 45.4h0M206.5 36.3h0M209.7 33.7h0M216.1 29.6h0M219.3 28.3h0M222.6 27.4h0M225.8 27.1h0M232.2 28.3h0M235.5 30.0h0M238.7 32.3h0M245.1 37.3h0M251.6 41.1h0M254.8 41.9h0M258.0 41.7h0M262.6 41.6h0M267.2 42.2h0M271.7 43.7h0M280.9 47.7h0M290.1 52.3h0M294.6 55.3h0M299.2 58.6h0M303.8 62.1h0M308.4 65.6h0M312.9 69.0h0M317.5 72.2h0M322.1 75.0h0M326.7 77.3h0M331.3 79.0h0M335.8 80.0h0M340.4 80.2h0M345.0 79.7h0M136.0 63.1h0M139.2 62.6h0M142.4 61.8h0M145.6 60.8h0M148.8 59.5h0M155.2 56.4h0M158.4 54.7h0M164.8 51.0h0M168.0 49.1h0M171.2 47.4h0M177.6 44.3h0M180.8 43.0h0M184.0 42.0h0M187.2 41.3h0M190.4 40.9h0M193.6 40.7h0M196.8 40.9h0M206.5 38.6h0M209.7 37.8h0M212.9 36.9h0M216.1 36.0h0M219.3 35.2h0M222.6 34.4h0M232.2 33.0h0M238.7 33.6h0M245.1 34.0h0M248.3 33.7h0M251.6 32.6h0M254.8 30.7h0M258.0 27.9h0M262.6 25.6h0M271.7 23.6h0M276.3 24.0h0M280.9 23.9h0M299.2 30.7h0M303.8 34.0h0M308.4 37.6h0M312.9 41.5h0M322.1 49.4h0M326.7 53.1h0M331.3 56.4h0M335.8 59.3h0M345.0 63.1h0M148.8 60.8h0M155.2 59.7h0M174.4 53.7h0M180.8 51.6h0M184.0 50.6h0M190.4 49.1h0M193.6 48.6h0M196.8 48.2h0M200.0 45.5h0M203.2 42.7h0M206.5 40.0h0M209.7 37.4h0M212.9 35.0h0M216.1 32.8h0M219.3 30.9h0M222.6 29.4h0M225.8 28.3h0M232.2 27.7h0M235.5 28.4h0M238.7 29.7h0M241.9 31.2h0M245.1 32.7h0M248.3 34.0h0M251.6 34.7h0M267.2 31.6h0M271.7 31.6h0M285.5 32.9h0M294.6 35.8h0M303.8 40.6h0M139.2 74.2h0M168.0 45.5h0M180.8 30.2h0M184.0 27.4h0M187.2 25.1h0M190.4 23.5h0M193.6 22.6h0M196.8 22.4h0M225.8 23.4h0M229.0 26.6h0M238.7 39.8h0M241.9 44.5h0M248.3 52.3h0M254.8 55.9h0M262.6 59.6h0M267.2 64.0h0M271.7 68.9h0M276.3 73.9h0M290.1 84.5h0M303.8 91.9h0M308.4 93.2h0M312.9 93.8h0M317.5 93.5h0M322.1 92.4h0M326.7 90.5h0M331.3 87.7h0M335.8 84.1h0M345.0 74.7h0M136.0 44.8h0M139.2 47.8h0M142.4 50.9h0M145.6 53.9h0M148.8 56.8h0M155.2 62.0h0M168.0 68.1h0M171.2 68.4h0M174.4 68.3h0M177.6 67.6h0M180.8 66.5h0M184.0 64.9h0M187.2 62.9h0M190.4 60.5h0M193.6 57.9h0M196.8 55.1h0M200.0 47.3h0M203.2 39.7h0M206.5 32.4h0M216.1 14.2h0M219.3 9.9h0M232.2 5.2h0M238.7 11.2h0M241.9 15.9h0M248.3 26.6h0M251.6 32.0h0M254.8 36.9h0M258.0 41.1h0M262.6 38.9h0M267.2 36.9h0M276.3 34.7h0M280.9 33.0h0M285.5 31.7h0M294.6 30.5h0M299.2 30.7h0M303.8 31.4h0M312.9 33.8h0M317.5 35.4h0M331.3 40.7h0M335.8 42.3h0M345.0 44.8h0M148.8 65.4h0M158.4 62.8h0M164.8 58.8h0M168.0 56.3h0M171.2 53.6h0M184.0 41.5h0M187.2 38.7h0M193.6 33.7h0M200.0 28.3h0M206.5 23.4h0M219.3 22.4h0M222.6 24.1h0M225.8 26.5h0M232.2 33.5h0M235.5 38.0h0M241.9 48.1h0M245.1 52.9h0M248.3 57.0h0M251.6 60.1h0M254.8 62.0h0M262.6 59.9h0M267.2 57.4h0M276.3 54.2h0M285.5 50.1h0M294.6 48.0h0M317.5 51.6h0M158.4 33.6h0M164.8 26.1h0M193.6 15.1h0M196.8 16.9h0M209.7 19.0h0M219.3 27.2h0M222.6 30.9h0M225.8 34.9h0M238.7 53.3h0M245.1 61.2h0M248.3 63.6h0M251.6 64.7h0M254.8 64.2h0M271.7 64.5h0M276.3 65.7h0M280.9 65.7h0M285.5 65.6h0M290.1 65.6h0M294.6 65.5h0M303.8 65.5h0M308.4 65.4h0M312.9 65.1h0M317.5 64.7h0M322.1 64.1h0M171.2 34.3h0M177.6 31.4h0M180.8 30.4h0M184.0 29.7h0M187.2 29.3h0M190.4 29.3h0M193.6 29.6h0M200.0 27.2h0M225.8 14.5h0M232.2 16.4h0M235.5 18.4h0M238.7 20.9h0M241.9 23.7h0M248.3 28.6h0M251.6 30.2h0M254.8 31.0h0M258.0 30.7h0M267.2 28.7h0M271.7 28.8h0M280.9 29.6h0M285.5 30.0h0M308.4 39.1h0M317.5 44.3h0M174.4 37.7h0M177.6 36.6h0M180.8 35.6h0M184.0 34.7h0M187.2 33.8h0M190.4 33.1h0M193.6 32.5h0M196.8 32.1h0M232.2 4.8h0M235.5 5.0h0M238.7 5.8h0M245.1 8.2h0M248.3 9.3h0M251.6 10.0h0M254.8 10.1h0M258.0 9.5h0M271.7 8.1h0M276.3 9.2h0M280.9 9.9h0M285.5 11.0h0M290.1 12.8h0M164.8 34.4h0M171.2 31.9h0M177.6 30.6h0M180.8 30.3h0M184.0 30.4h0M187.2 30.9h0M193.6 32.6h0M196.8 33.8h0M200.0 30.1h0M219.3 14.8h0M225.8 14.0h0M235.5 18.2h0M238.7 21.0h0M241.9 24.2h0M245.1 27.3h0M248.3 30.1h0M258.0 34.1h0M267.2 30.1h0M271.7 29.1h0M276.3 28.7h0M280.9 27.7h0M285.5 27.1h0M136.0 47.8h0M139.2 45.4h0M145.6 38.1h0M148.8 33.4h0M152.0 28.3h0M155.2 22.9h0M161.6 11.6h0M164.8 6.0h0M232.2 10.8h0M241.9 30.6h0M245.1 36.3h0M248.3 40.9h0M251.6 44.1h0M254.8 45.6h0M258.0 45.3h0M262.6 43.9h0M267.2 42.8h0M271.7 42.2h0M276.3 42.0h0M280.9 41.0h0M290.1 39.6h0M294.6 39.5h0M299.2 39.7h0M303.8 40.3h0M312.9 42.1h0M317.5 43.2h0M326.7 45.4h0M331.3 46.3h0M335.8 47.1h0M340.4 47.6h0M345.0 47.8h0M136.0 52.0h0M142.4 50.4h0M145.6 49.3h0M148.8 48.1h0M152.0 46.8h0M155.2 45.5h0M158.4 44.1h0M164.8 41.4h0M168.0 40.1h0M171.2 39.0h0M174.4 38.0h0M177.6 37.2h0M187.2 36.1h0M193.6 36.5h0M196.8 37.0h0M200.0 32.5h0M203.2 28.2h0M212.9 17.1h0M222.6 10.6h0M225.8 9.8h0M229.0 9.8h0M232.2 10.8h0M235.5 12.7h0M238.7 15.4h0M241.9 18.5h0M251.6 27.5h0M254.8 29.4h0M262.6 30.8h0M267.2 31.6h0M271.7 33.1h0M280.9 36.3h0M285.5 37.7h0M290.1 39.3h0M294.6 41.2h0M299.2 43.3h0M303.8 45.4h0M308.4 47.5h0M312.9 49.5h0M322.1 52.6h0M331.3 54.0h0M345.0 52.0h0M180.8 21.6h0M184.0 19.8h0M248.3 4.0h0M251.6 5.3h0M254.8 5.9h0M258.0 5.6h0M262.6 3.9h0M271.7 3.2h0M276.3 4.1h0M280.9 4.7h0M285.5 5.9h0M294.6 10.3h0M308.4 20.8h0M168.0 27.4h0M187.2 22.8h0M190.4 23.0h0M196.8 24.2h0M238.7 1.2h0M241.9 3.8h0M245.1 6.6h0M248.3 9.3h0M251.6 11.5h0M254.8 13.0h0M271.7 11.9h0M280.9 13.2h0M285.5 13.9h0M290.1 15.3h0M294.6 17.3h0M303.8 22.4h0M136.0 46.5h0M139.2 47.4h0M142.4 48.0h0M145.6 48.2h0M148.8 48.1h0M152.0 47.5h0M155.2 46.6h0M158.4 45.3h0M161.6 43.7h0M164.8 41.8h0M168.0 39.7h0M171.2 37.5h0M174.4 35.1h0M177.6 32.8h0M184.0 28.2h0M187.2 26.1h0M190.4 24.2h0M193.6 22.6h0M196.8 21.3h0M200.0 17.0h0M203.2 13.0h0M206.5 9.3h0M235.5 2.9h0M238.7 5.9h0M241.9 9.4h0M245.1 13.0h0M248.3 16.2h0M251.6 18.9h0M254.8 20.8h0M258.0 21.7h0M262.6 20.7h0M267.2 20.3h0M271.7 20.6h0M276.3 21.6h0M280.9 21.9h0M290.1 23.8h0M294.6 25.5h0M299.2 27.6h0M303.8 30.0h0M308.4 32.6h0M312.9 35.2h0M317.5 37.8h0M322.1 40.3h0M326.7 42.4h0M331.3 44.2h0M335.8 45.5h0M340.4 46.3h0M345.0 46.5h0M136.0 48.5h0M145.6 49.4h0M148.8 48.8h0M152.0 47.8h0M155.2 46.3h0M158.4 44.5h0M161.6 42.3h0M164.8 39.9h0M168.0 37.3h0M171.2 34.6h0M174.4 31.8h0M177.6 29.1h0M180.8 26.4h0M184.0 23.9h0M187.2 21.7h0M190.4 19.8h0M193.6 18.2h0M196.8 17.0h0M200.0 13.5h0M203.2 10.2h0M209.7 4.6h0M212.9 2.4h0M232.2 1.9h0M238.7 7.3h0M241.9 10.6h0M245.1 13.8h0M248.3 16.6h0M254.8 20.1h0M258.0 20.4h0M262.6 19.9h0M267.2 20.0h0M271.7 20.9h0M280.9 23.4h0M290.1 26.3h0M294.6 28.4h0M299.2 30.9h0M303.8 33.5h0M308.4 36.3h0M312.9 39.1h0M317.5 41.7h0M322.1 44.1h0M326.7 46.0h0M331.3 47.5h0M335.8 48.5h0M340.4 48.8h0M345.0 48.5h0M164.8 44.6h0M168.0 46.2h0M180.8 55.3h0M184.0 57.9h0M187.2 60.6h0M190.4 63.2h0M193.6 65.7h0M196.8 68.0h0M203.2 58.5h0M209.7 48.1h0M212.9 43.0h0M216.1 38.1h0M222.6 29.5h0M232.2 21.5h0M235.5 20.8h0M238.7 21.0h0M241.9 21.9h0M245.1 23.2h0M248.3 24.7h0M258.0 28.1h0M262.6 28.9h0M267.2 30.2h0M271.7 32.2h0M276.3 34.5h0M280.9 36.0h0M285.5 37.6h0M290.1 39.5h0M308.4 47.6h0M317.5 50.8h0M136.0 46.8h0M139.2 46.2h0M142.4 45.0h0M145.6 43.5h0M155.2 36.5h0M158.4 33.6h0M161.6 30.6h0M164.8 27.6h0M168.0 24.6h0M171.2 21.6h0M174.4 18.9h0M177.6 16.4h0M180.8 14.2h0M193.6 9.9h0M196.8 10.1h0M248.3 0.9h0M258.0 7.8h0M271.7 7.8h0M276.3 9.5h0M285.5 12.4h0M294.6 17.5h0M299.2 20.8h0M303.8 24.4h0M308.4 28.1h0M312.9 31.9h0M317.5 35.5h0M322.1 38.8h0M331.3 44.0h0M340.4 46.6h0M177.6 1.9h0M180.8 3.4h0M184.0 4.1h0M187.2 4.2h0M190.4 3.5h0M193.6 2.0h0M254.8 3.3h0M258.0 6.2h0M262.6 8.4h0M267.2 10.1h0M276.3 12.0h0M280.9 10.9h0M290.1 6.4h0M294.6 3.4h0M136.0 25.6h0M139.2 25.8h0M142.4 25.6h0M145.6 25.2h0M148.8 24.5h0M152.0 23.5h0M155.2 22.4h0M161.6 19.5h0M164.8 17.8h0M168.0 16.1h0M171.2 14.3h0M174.4 12.6h0M177.6 10.9h0M180.8 9.4h0M184.0 8.0h0M187.2 6.8h0M190.4 5.8h0M193.6 5.1h0M196.8 4.7h0M251.6 3.1h0M258.0 7.3h0M262.6 4.8h0M267.2 2.8h0M271.7 1.6h0M276.3 1.0h0M299.2 1.4h0M303.8 3.3h0M308.4 5.6h0M312.9 8.2h0M317.5 11.1h0M322.1 14.0h0M326.7 16.8h0M345.0 25.6h0M155.2 43.4h0M171.2 33.3h0M174.4 31.8h0M184.0 29.4h0M187.2 29.3h0M190.4 29.6h0M193.6 30.3h0M196.8 31.3h0M200.0 30.1h0M203.2 28.8h0M209.7 26.0h0M212.9 24.6h0M219.3 21.9h0M229.0 19.0h0M232.2 18.6h0M235.5 18.7h0M238.7 19.1h0M245.1 19.8h0M248.3 19.7h0M251.6 19.0h0M254.8 17.5h0M267.2 14.8h0M271.7 16.0h0M276.3 18.0h0M280.9 19.4h0M285.5 21.3h0M303.8 33.7h0M142.4 47.1h0M145.6 42.8h0M152.0 33.7h0M158.4 24.5h0M168.0 12.8h0M171.2 9.9h0M174.4 7.7h0M180.8 5.3h0M184.0 5.3h0M187.2 6.1h0M190.4 7.6h0M196.8 12.6h0M200.0 10.5h0M203.2 7.8h0M206.5 4.6h0M209.7 1.0h0M312.9 4.4h0M317.5 13.6h0M322.1 22.6h0M326.7 31.0h0M340.4 50.5h0M345.0 54.4h0M139.2 27.1h0M142.4 25.7h0M145.6 24.3h0M148.8 22.9h0M152.0 21.7h0M155.2 20.6h0M158.4 19.7h0M161.6 18.9h0M164.8 18.4h0M174.4 18.3h0M177.6 18.7h0M180.8 19.4h0M184.0 20.2h0M187.2 21.3h0M190.4 22.4h0M193.6 23.8h0M196.8 25.2h0M203.2 14.9h0M206.5 10.0h0M212.9 1.3h0M248.3 5.5h0M251.6 8.6h0M254.8 11.0h0M262.6 11.6h0M267.2 10.9h0M271.7 10.9h0M276.3 11.4h0M280.9 11.2h0M285.5 11.3h0M290.1 11.8h0M294.6 12.8h0M299.2 14.2h0M303.8 15.9h0M308.4 17.8h0M326.7 25.3h0M331.3 26.7h0M335.8 27.8h0M340.4 28.4h0M139.2 21.9h0M142.4 21.6h0M145.6 21.1h0M148.8 20.2h0M152.0 19.1h0M155.2 17.7h0M161.6 14.3h0M164.8 12.4h0M168.0 10.5h0M171.2 8.5h0M177.6 4.8h0M180.8 3.1h0M184.0 1.6h0M308.4 1.9h0M312.9 5.1h0M317.5 8.4h0M322.1 11.6h0M326.7 14.5h0M331.3 17.1h0M139.2 32.8h0M145.6 36.6h0M148.8 37.5h0M155.2 37.6h0M158.4 36.7h0M161.6 35.2h0M164.8 33.2h0M171.2 27.6h0M174.4 24.2h0M177.6 20.6h0M180.8 16.8h0M184.0 13.0h0M190.4 5.5h0M193.6 2.1h0M251.6 4.2h0M254.8 8.9h0M258.0 12.4h0M262.6 11.8h0M267.2 11.7h0M271.7 12.2h0M276.3 13.2h0M280.9 13.5h0M290.1 14.9h0M299.2 17.8h0M303.8 19.6h0M312.9 23.6h0M317.5 25.5h0M322.1 27.2h0M331.3 29.7h0M335.8 30.3h0M340.4 30.5h0M184.0 3.4h0M187.2 5.6h0M193.6 9.7h0M196.8 11.4h0M139.2 7.5h0M142.4 5.7h0M322.1 4.6h0M326.7 6.5h0M331.3 8.0h0M335.8 8.9h0M340.4 9.3h0M345.0 9.1h0M136.0 7.8h0M139.2 6.5h0M148.8 1.3h0M322.1 3.8h0M335.8 7.7h0M345.0 7.8h0M251.6 3.1h0M254.8 5.4h0M258.0 6.4h0M262.6 4.2h0M267.2 2.2h0M136.0 203.6h0M142.4 204.5h0M145.6 205.5h0M148.8 206.9h0M152.0 208.6h0M155.2 210.7h0M158.4 212.9h0M161.6 215.3h0M164.8 217.8h0M171.2 222.8h0M174.4 225.2h0M177.6 227.4h0M184.0 231.1h0M190.4 233.5h0M193.6 234.1h0M196.8 234.3h0M200.0 234.0h0M203.2 233.9h0M206.5 233.9h0M212.9 234.2h0M216.1 234.5h0M219.3 234.7h0M225.8 234.3h0M229.0 233.7h0M232.2 232.9h0M238.7 230.8h0M241.9 229.5h0M245.1 228.0h0M251.6 224.4h0M254.8 222.3h0M258.0 220.0h0M262.6 219.1h0M271.7 216.7h0M276.3 215.3h0M280.9 213.8h0M285.5 212.2h0M290.1 210.6h0M294.6 209.1h0M299.2 207.6h0M303.8 206.3h0M308.4 205.1h0M312.9 204.0h0M317.5 203.2h0M322.1 202.6h0M326.7 202.3h0M331.3 202.3h0M335.8 202.4h0M340.4 202.9h0M345.0 203.6h0M136.0 197.0h0M139.2 197.8h0M142.4 199.2h0M145.6 201.3h0M148.8 203.9h0M152.0 207.1h0M155.2 210.7h0M158.4 214.6h0M161.6 218.7h0M164.8 223.0h0M168.0 227.2h0M171.2 231.4h0M174.4 235.3h0M177.6 238.8h0M190.4 247.9h0M193.6 248.5h0M196.8 248.5h0M200.0 248.5h0M206.5 249.1h0M209.7 249.7h0M212.9 250.4h0M216.1 251.2h0M219.3 252.1h0M225.8 252.9h0M229.0 252.9h0M232.2 252.7h0M235.5 252.2h0M238.7 251.5h0M241.9 250.6h0M245.1 249.3h0M248.3 247.8h0M251.6 245.9h0M254.8 243.8h0M258.0 241.3h0M262.6 240.1h0M267.2 238.3h0M271.7 236.0h0M276.3 233.3h0M280.9 230.2h0M285.5 226.7h0M290.1 223.1h0M299.2 215.6h0M303.8 211.9h0M312.9 205.3h0M317.5 202.5h0M322.1 200.2h0M331.3 197.1h0M335.8 196.5h0M345.0 197.0h0M139.2 216.5h0M142.4 217.3h0M145.6 218.8h0M148.8 220.9h0M155.2 226.7h0M158.4 230.3h0M161.6 234.2h0M171.2 246.6h0M174.4 250.7h0M180.8 257.9h0M187.2 263.4h0M190.4 265.3h0M193.6 266.5h0M196.8 267.1h0M200.0 267.3h0M203.2 267.6h0M206.5 267.8h0M209.7 268.0h0M219.3 268.5h0M222.6 268.1h0M225.8 267.4h0M232.2 265.0h0M235.5 263.5h0M238.7 261.7h0M251.6 252.7h0M254.8 250.0h0M262.6 249.7h0M271.7 253.2h0M280.9 254.4h0M285.5 254.1h0M294.6 251.7h0M299.2 249.6h0M303.8 247.1h0M308.4 244.1h0M312.9 240.8h0M317.5 237.3h0M322.1 233.6h0M326.7 229.8h0M331.3 226.1h0M335.8 222.6h0M340.4 219.3h0M139.2 228.5h0M145.6 230.4h0M152.0 234.7h0M158.4 241.0h0M161.6 244.6h0M164.8 248.5h0M168.0 252.5h0M171.2 256.6h0M177.6 264.2h0M184.0 270.6h0M187.2 273.1h0M190.4 275.1h0M193.6 276.5h0M200.0 277.6h0M203.2 278.0h0M206.5 278.1h0M209.7 278.2h0M219.3 277.5h0M225.8 275.0h0M229.0 273.2h0M232.2 271.1h0M235.5 268.8h0M238.7 266.2h0M241.9 263.5h0M245.1 260.6h0M248.3 257.6h0M251.6 254.5h0M254.8 251.3h0M258.0 248.1h0M262.6 249.4h0M267.2 250.3h0M271.7 251.0h0M280.9 251.2h0M285.5 250.8h0M290.1 250.1h0M303.8 246.0h0M308.4 244.2h0M322.1 238.0h0M326.7 235.9h0M136.0 221.8h0M139.2 224.4h0M142.4 227.8h0M145.6 231.9h0M148.8 236.6h0M152.0 241.9h0M155.2 247.4h0M161.6 259.0h0M164.8 264.7h0M168.0 270.1h0M177.6 283.3h0M203.2 284.6h0M206.5 283.3h0M209.7 282.1h0M212.9 281.0h0M216.1 280.1h0M219.3 279.2h0M225.8 276.9h0M229.0 275.6h0M232.2 274.3h0M235.5 273.1h0M238.7 271.9h0M241.9 270.7h0M245.1 269.5h0M251.6 267.2h0M258.0 264.6h0M262.6 263.6h0M271.7 259.8h0M276.3 257.3h0M280.9 254.3h0M285.5 251.0h0M290.1 247.6h0M294.6 244.0h0M299.2 240.4h0M303.8 236.8h0M308.4 233.5h0M312.9 230.4h0M317.5 227.6h0M322.1 225.3h0M331.3 222.2h0M335.8 221.4h0M345.0 221.8h0M136.0 236.6h0M139.2 235.4h0M142.4 234.6h0M152.0 235.0h0M155.2 236.1h0M161.6 239.4h0M168.0 244.0h0M174.4 249.4h0M177.6 252.2h0M180.8 255.0h0M187.2 260.2h0M190.4 262.5h0M193.6 264.4h0M196.8 266.1h0M200.0 266.3h0M203.2 266.8h0M206.5 267.5h0M209.7 268.5h0M212.9 269.7h0M216.1 271.0h0M219.3 272.4h0M222.6 273.4h0M225.8 274.2h0M229.0 274.7h0M235.5 274.8h0M241.9 273.8h0M245.1 272.7h0M248.3 271.3h0M251.6 269.5h0M254.8 267.3h0M258.0 264.7h0M262.6 263.4h0M267.2 261.8h0M276.3 257.7h0M280.9 255.4h0M285.5 252.9h0M290.1 250.3h0M294.6 247.8h0M303.8 243.0h0M312.9 239.1h0M317.5 237.5h0M322.1 236.4h0M326.7 235.6h0M331.3 235.2h0M345.0 236.6h0M136.0 245.8h0M139.2 246.7h0M142.4 248.0h0M145.6 249.6h0M148.8 251.7h0M152.0 254.0h0M155.2 256.6h0M158.4 259.3h0M161.6 262.1h0M164.8 264.9h0M168.0 267.6h0M171.2 270.2h0M174.4 272.6h0M180.8 276.5h0M184.0 277.9h0M187.2 278.8h0M190.4 279.3h0M193.6 279.4h0M196.8 279.0h0M200.0 279.2h0M203.2 279.3h0M206.5 279.4h0M209.7 279.3h0M212.9 279.2h0M216.1 278.9h0M222.6 277.5h0M225.8 276.2h0M229.0 274.5h0M232.2 272.6h0M235.5 270.4h0M238.7 268.1h0M241.9 265.6h0M245.1 262.9h0M248.3 260.2h0M251.6 257.3h0M254.8 254.4h0M258.0 251.4h0M262.6 252.0h0M267.2 252.5h0M271.7 252.8h0M276.3 253.1h0M280.9 253.2h0M285.5 253.2h0M290.1 253.1h0M294.6 252.8h0M308.4 251.4h0M317.5 250.1h0M326.7 248.6h0M331.3 247.9h0M335.8 247.1h0M345.0 245.8h0M136.0 254.2h0M142.4 254.2h0M145.6 254.9h0M148.8 256.3h0M155.2 260.4h0M158.4 263.1h0M161.6 266.1h0M168.0 272.7h0M171.2 276.1h0M177.6 282.7h0M180.8 285.8h0M203.2 292.8h0M209.7 290.8h0M222.6 287.8h0M229.0 285.8h0M232.2 284.7h0M235.5 283.6h0M238.7 282.5h0M241.9 281.3h0M248.3 279.0h0M251.6 277.7h0M254.8 276.4h0M262.6 274.4h0M271.7 272.5h0M280.9 269.8h0M285.5 268.3h0M290.1 266.6h0M299.2 263.1h0M303.8 261.4h0M308.4 259.8h0M312.9 258.3h0M317.5 257.0h0M326.7 255.0h0M331.3 254.4h0M340.4 254.0h0M139.2 265.8h0M142.4 265.4h0M145.6 265.5h0M148.8 266.1h0M155.2 268.8h0M158.4 270.8h0M161.6 273.1h0M164.8 275.8h0M168.0 278.6h0M171.2 281.7h0M180.8 290.8h0M248.3 294.6h0M251.6 290.8h0M254.8 286.7h0M258.0 282.4h0M262.6 281.4h0M271.7 278.9h0M276.3 277.4h0M290.1 272.8h0M294.6 271.2h0M308.4 267.4h0M312.9 266.5h0M317.5 265.7h0M322.1 265.3h0M326.7 265.0h0M331.3 265.1h0M340.4 265.9h0M345.0 266.7h0M136.0 262.8h0M139.2 262.1h0M142.4 262.3h0M145.6 263.2h0M152.0 267.2h0M158.4 273.8h0M161.6 277.8h0M164.8 282.2h0M219.3 323.4h0M258.0 289.3h0M262.6 289.5h0M267.2 289.3h0M271.7 288.8h0M276.3 287.9h0M285.5 285.2h0M290.1 283.5h0M299.2 279.4h0M303.8 277.2h0M308.4 275.0h0M322.1 268.8h0M331.3 265.5h0M335.8 264.2h0M345.0 262.8h0M148.8 279.6h0M152.0 284.6h0M168.0 311.7h0M180.8 326.8h0M203.2 328.1h0M225.8 325.2h0M285.5 289.8h0M290.1 287.4h0M294.6 284.8h0M299.2 282.1h0M303.8 279.4h0M308.4 276.8h0M312.9 274.3h0M317.5 272.0h0M322.1 269.9h0M326.7 268.2h0M331.3 266.8h0M335.8 265.8h0M340.4 265.2h0M345.0 265.0h0M136.0 255.9h0M139.2 256.1h0M142.4 257.0h0M148.8 260.7h0M152.0 263.5h0M158.4 270.5h0M161.6 274.5h0M164.8 278.7h0M168.0 283.0h0M245.1 294.0h0M248.3 292.3h0M251.6 290.5h0M254.8 288.7h0M258.0 286.7h0M262.6 285.5h0M267.2 284.0h0M271.7 282.1h0M276.3 279.9h0M280.9 277.4h0M285.5 274.8h0M290.1 272.1h0M294.6 269.4h0M299.2 266.8h0M303.8 264.2h0M308.4 261.9h0M312.9 259.8h0M317.5 258.0h0M322.1 256.6h0M326.7 255.6h0M331.3 255.0h0M335.8 254.8h0M340.4 255.1h0M345.0 255.9h0M136.0 276.0h0M139.2 275.3h0M145.6 276.3h0M152.0 280.4h0M155.2 283.4h0M206.5 335.4h0M294.6 293.8h0M308.4 287.4h0M317.5 283.3h0M322.1 281.4h0M326.7 279.7h0M335.8 277.2h0M340.4 276.4h0M345.0 276.0h0M136.0 285.0h0M187.2 318.2h0M206.5 316.0h0M222.6 317.9h0M262.6 302.9h0M276.3 297.4h0M285.5 293.3h0M294.6 289.3h0M299.2 287.5h0M303.8 285.9h0M308.4 284.5h0M317.5 282.7h0M322.1 282.2h0M326.7 282.1h0M331.3 282.4h0M340.4 283.8h0M345.0 285.0h0M136.0 285.4h0M148.8 297.2h0M177.6 330.3h0M267.2 309.3h0M331.3 286.5h0M335.8 285.8h0M340.4 285.4h0M345.0 285.4h0M136.0 290.6h0M139.2 290.4h0M145.6 292.0h0M168.0 314.8h0M174.4 323.2h0M248.3 322.5h0M254.8 321.4h0M267.2 318.2h0M139.2 241.7h0M142.4 242.9h0M145.6 244.5h0M148.8 246.4h0M152.0 248.6h0M155.2 251.1h0M161.6 256.4h0M164.8 259.1h0M168.0 261.8h0M171.2 264.3h0M174.4 266.7h0M177.6 268.7h0M184.0 271.8h0M187.2 272.8h0M190.4 273.3h0M193.6 273.4h0M196.8 273.1h0M200.0 274.2h0M203.2 274.8h0M206.5 274.8h0M209.7 274.3h0M212.9 273.2h0M216.1 271.7h0M219.3 269.6h0M222.6 267.2h0M225.8 264.4h0M229.0 261.4h0M232.2 258.1h0M235.5 254.8h0M238.7 251.4h0M241.9 248.2h0M248.3 242.3h0M251.6 239.8h0M254.8 237.7h0M258.0 236.1h0M267.2 236.3h0M276.3 236.8h0M280.9 237.1h0M285.5 237.4h0M290.1 237.8h0M294.6 238.2h0M303.8 239.0h0M312.9 239.7h0M317.5 240.1h0M326.7 240.6h0M331.3 240.7h0M335.8 240.8h0M340.4 240.9h0M345.0 240.9h0M139.2 198.3h0M142.4 197.7h0M145.6 197.9h0M148.8 198.7h0M155.2 202.3h0M158.4 205.0h0M161.6 208.2h0M164.8 211.8h0M171.2 219.7h0M174.4 223.9h0M177.6 228.0h0M180.8 232.0h0M184.0 235.7h0M190.4 242.1h0M193.6 244.5h0M196.8 246.4h0M200.0 246.2h0M203.2 246.2h0M206.5 246.3h0M209.7 246.4h0M216.1 247.0h0M219.3 247.4h0M229.0 248.9h0M232.2 249.5h0M235.5 250.1h0M238.7 250.6h0M241.9 251.2h0M245.1 251.7h0M248.3 252.1h0M251.6 252.5h0M254.8 252.8h0M258.0 253.0h0M267.2 249.9h0M276.3 244.3h0M280.9 240.7h0M285.5 236.7h0M290.1 232.4h0M294.6 227.9h0M299.2 223.4h0M303.8 219.0h0M308.4 214.8h0M312.9 210.9h0M317.5 207.4h0M322.1 204.4h0M326.7 202.0h0M335.8 199.3h0M340.4 199.0h0M136.0 221.0h0M145.6 224.9h0M148.8 227.4h0M155.2 233.8h0M158.4 237.5h0M161.6 241.4h0M164.8 245.5h0M168.0 249.6h0M171.2 253.5h0M174.4 257.3h0M177.6 260.7h0M180.8 263.7h0M184.0 266.2h0M190.4 269.5h0M193.6 270.2h0M196.8 270.2h0M203.2 266.4h0M212.9 260.2h0M216.1 258.3h0M219.3 256.6h0M222.6 255.0h0M229.0 252.6h0M232.2 251.9h0M235.5 251.5h0M238.7 251.4h0M241.9 251.7h0M245.1 252.3h0M248.3 253.2h0M251.6 254.5h0M258.0 257.6h0M262.6 253.8h0M267.2 249.6h0M271.7 245.1h0M276.3 240.5h0M280.9 235.8h0M290.1 226.8h0M294.6 222.8h0M299.2 219.2h0M303.8 216.2h0M308.4 213.8h0M317.5 211.1h0M322.1 211.0h0M326.7 211.5h0M331.3 212.9h0M335.8 214.9h0M340.4 217.7h0M136.0 211.4h0M142.4 212.9h0M145.6 214.0h0M148.8 215.4h0M152.0 217.0h0M158.4 220.6h0M161.6 222.5h0M164.8 224.5h0M168.0 226.4h0M174.4 229.9h0M180.8 232.6h0M184.0 233.6h0M187.2 234.3h0M193.6 234.7h0M196.8 234.5h0M200.0 233.9h0M203.2 233.2h0M206.5 232.5h0M212.9 230.7h0M216.1 229.8h0M219.3 229.1h0M225.8 227.7h0M232.2 225.7h0M238.7 224.7h0M241.9 224.4h0M245.1 224.2h0M248.3 224.2h0M251.6 224.4h0M254.8 224.7h0M262.6 223.4h0M271.7 219.4h0M276.3 217.4h0M280.9 215.4h0M285.5 213.4h0M290.1 211.6h0M294.6 210.0h0M299.2 208.6h0M303.8 207.5h0M308.4 206.7h0M312.9 206.1h0M317.5 205.9h0M322.1 206.1h0M326.7 206.6h0M331.3 207.4h0M335.8 208.5h0M340.4 209.8h0M345.0 211.4h0M136.0 199.6h0M139.2 199.7h0M142.4 200.6h0M145.6 202.3h0M148.8 204.8h0M152.0 207.8h0M155.2 211.5h0M158.4 215.6h0M168.0 229.7h0M171.2 234.5h0M174.4 239.2h0M177.6 243.6h0M180.8 247.5h0M184.0 251.0h0M187.2 253.9h0M190.4 256.1h0M193.6 257.5h0M196.8 258.2h0M203.2 258.9h0M209.7 260.3h0M216.1 262.1h0M222.6 264.3h0M225.8 265.4h0M229.0 266.5h0M232.2 267.6h0M235.5 268.6h0M238.7 269.5h0M245.1 270.8h0M251.6 271.6h0M254.8 271.7h0M262.6 271.5h0M267.2 270.5h0M271.7 268.5h0M276.3 265.6h0M280.9 261.9h0M290.1 252.5h0M294.6 247.0h0M299.2 241.2h0M303.8 235.3h0M308.4 229.3h0M312.9 223.6h0M317.5 218.1h0M326.7 208.8h0M331.3 205.2h0M335.8 202.4h0M340.4 200.5h0M345.0 199.6h0M136.0 251.7h0M139.2 250.6h0M142.4 249.8h0M145.6 249.3h0M148.8 249.1h0M152.0 249.3h0M155.2 249.7h0M158.4 250.4h0M161.6 251.4h0M164.8 252.7h0M168.0 254.2h0M171.2 255.8h0M177.6 259.4h0M180.8 261.3h0M187.2 265.0h0M190.4 266.6h0M193.6 268.1h0M200.0 268.7h0M203.2 267.5h0M206.5 265.7h0M209.7 263.5h0M212.9 261.0h0M216.1 258.0h0M219.3 254.9h0M222.6 251.5h0M229.0 244.8h0M232.2 241.5h0M235.5 238.5h0M238.7 235.7h0M241.9 233.3h0M245.1 231.3h0M248.3 229.8h0M251.6 228.9h0M254.8 228.4h0M258.0 228.6h0M262.6 229.6h0M267.2 230.9h0M271.7 232.5h0M285.5 238.3h0M290.1 240.4h0M303.8 246.4h0M312.9 249.6h0M317.5 250.9h0M322.1 251.9h0M326.7 252.5h0M331.3 252.8h0M335.8 252.8h0M340.4 252.4h0M345.0 251.7h0M136.0 243.7h0M142.4 243.7h0M145.6 244.7h0M148.8 246.2h0M152.0 248.2h0M155.2 250.7h0M158.4 253.7h0M161.6 256.9h0M164.8 260.4h0M168.0 264.1h0M171.2 267.7h0M174.4 271.4h0M177.6 274.8h0M184.0 280.9h0M187.2 283.4h0M196.8 287.7h0M200.0 285.5h0M203.2 283.5h0M206.5 281.7h0M209.7 280.2h0M212.9 279.0h0M216.1 278.1h0M219.3 277.6h0M222.6 277.5h0M225.8 277.7h0M229.0 278.4h0M232.2 279.4h0M241.9 284.2h0M245.1 286.3h0M248.3 288.6h0M251.6 290.9h0M276.3 290.3h0M280.9 287.5h0M285.5 284.1h0M290.1 280.4h0M294.6 276.4h0M299.2 272.2h0M303.8 267.9h0M308.4 263.6h0M322.1 252.4h0M331.3 247.0h0M340.4 244.1h0M345.0 243.7h0M136.0 231.4h0M139.2 232.3h0M142.4 233.3h0M145.6 234.5h0M148.8 235.8h0M152.0 237.2h0M155.2 238.6h0M158.4 240.1h0M161.6 241.6h0M164.8 243.0h0M168.0 244.2h0M171.2 245.4h0M174.4 246.4h0M177.6 247.2h0M180.8 247.7h0M184.0 248.1h0M187.2 248.2h0M190.4 248.0h0M193.6 247.6h0M200.0 247.1h0M203.2 247.6h0M206.5 248.4h0M212.9 251.1h0M216.1 252.9h0M225.8 259.3h0M229.0 261.6h0M232.2 263.9h0M235.5 266.1h0M238.7 268.2h0M241.9 270.1h0M245.1 271.7h0M248.3 273.1h0M251.6 274.1h0M258.0 275.1h0M262.6 273.1h0M267.2 270.6h0M271.7 267.6h0M276.3 264.2h0M294.6 248.7h0M299.2 244.9h0M312.9 235.1h0M317.5 232.8h0M326.7 229.8h0M335.8 229.3h0M340.4 230.0h0M345.0 231.4h0M136.0 197.7h0M142.4 203.4h0M145.6 207.2h0M148.8 211.6h0M152.0 216.5h0M155.2 221.6h0M158.4 226.8h0M161.6 232.1h0M164.8 237.3h0M168.0 242.1h0M171.2 246.6h0M174.4 250.5h0M177.6 253.8h0M180.8 256.4h0M184.0 258.2h0M187.2 259.1h0M190.4 259.2h0M193.6 258.4h0M206.5 257.6h0M209.7 258.7h0M212.9 260.2h0M229.0 271.3h0M232.2 273.8h0M238.7 278.7h0M241.9 280.9h0M245.1 282.8h0M254.8 286.7h0M258.0 287.3h0M262.6 287.7h0M267.2 287.0h0M271.7 285.0h0M280.9 277.7h0M285.5 272.5h0M294.6 259.9h0M299.2 252.7h0M303.8 245.4h0M312.9 230.5h0M322.1 217.0h0M326.7 211.2h0M331.3 206.2h0M335.8 202.3h0M340.4 199.4h0M345.0 197.7h0M136.0 275.3h0M142.4 273.9h0M148.8 272.7h0M152.0 272.3h0M161.6 271.9h0M164.8 272.1h0M168.0 272.4h0M171.2 272.7h0M174.4 273.3h0M177.6 273.9h0M180.8 274.6h0M184.0 275.3h0M187.2 276.2h0M190.4 277.0h0M193.6 277.8h0M196.8 278.6h0M200.0 279.5h0M206.5 281.2h0M212.9 282.8h0M216.1 283.5h0M219.3 284.1h0M222.6 284.6h0M225.8 285.0h0M229.0 285.3h0M232.2 285.4h0M235.5 285.3h0M238.7 285.1h0M241.9 284.8h0M245.1 284.4h0M248.3 283.8h0M251.6 283.2h0M258.0 281.6h0M262.6 281.3h0M267.2 280.8h0M271.7 280.3h0M276.3 279.8h0M280.9 279.2h0M285.5 278.6h0M290.1 278.0h0M294.6 277.4h0M299.2 276.9h0M303.8 276.4h0M312.9 275.5h0M317.5 275.2h0M326.7 274.9h0M331.3 274.8h0M340.4 275.1h0M345.0 275.3h0M139.2 286.8h0M145.6 285.1h0M155.2 282.9h0M158.4 282.3h0M161.6 281.9h0M164.8 281.5h0M168.0 281.3h0M171.2 281.3h0M174.4 281.3h0M177.6 281.5h0M180.8 281.8h0M184.0 282.3h0M187.2 282.9h0M193.6 284.3h0M203.2 287.0h0M206.5 286.8h0M209.7 285.8h0M216.1 281.7h0M222.6 275.1h0M225.8 271.0h0M229.0 266.6h0M232.2 262.0h0M235.5 257.3h0M238.7 252.6h0M241.9 248.1h0M245.1 243.8h0M248.3 240.0h0M251.6 236.6h0M254.8 233.9h0M258.0 231.8h0M262.6 234.4h0M271.7 241.6h0M276.3 246.0h0M280.9 250.7h0M285.5 255.7h0M290.1 260.8h0M303.8 275.4h0M312.9 283.2h0M139.2 241.4h0M142.4 243.9h0M145.6 246.9h0M148.8 250.4h0M152.0 254.2h0M155.2 258.3h0M158.4 262.5h0M161.6 266.8h0M174.4 281.9h0M177.6 284.6h0M180.8 286.8h0M203.2 286.5h0M206.5 284.8h0M209.7 282.5h0M212.9 279.6h0M219.3 272.3h0M225.8 263.8h0M229.0 259.3h0M232.2 254.9h0M235.5 250.7h0M238.7 246.7h0M241.9 243.1h0M245.1 240.1h0M248.3 237.5h0M251.6 235.6h0M254.8 234.4h0M258.0 233.9h0M267.2 240.0h0M276.3 245.8h0M280.9 248.3h0M285.5 250.5h0M294.6 253.8h0M299.2 254.7h0M303.8 255.2h0M308.4 255.2h0M312.9 254.6h0M317.5 253.6h0M322.1 252.1h0M326.7 250.2h0M331.3 247.9h0M340.4 242.5h0" stroke="#a8002f" stroke-width="3.7" stroke-linecap="round" fill="none"/>
<path d="M155.2 146.4h0M200.0 125.8h0M203.2 122.1h0M209.7 115.2h0M212.9 112.4h0M238.7 111.4h0M241.9 114.2h0M248.3 119.8h0M254.8 123.3h0M262.6 122.7h0M294.6 128.1h0M322.1 144.3h0M335.8 150.1h0M152.0 188.0h0M164.8 201.9h0M171.2 209.5h0M187.2 224.4h0M203.2 227.2h0M206.5 227.2h0M216.1 227.2h0M238.7 220.0h0M258.0 206.3h0M267.2 205.6h0M271.7 204.8h0M331.3 182.0h0M340.4 180.6h0M139.2 146.3h0M145.6 144.5h0M203.2 109.7h0M241.9 106.0h0M245.1 108.8h0M248.3 111.2h0M258.0 114.1h0M303.8 126.5h0M308.4 129.8h0M331.3 143.8h0M136.0 129.9h0M142.4 129.7h0M148.8 129.4h0M171.2 127.5h0M177.6 127.1h0M190.4 126.6h0M200.0 120.0h0M219.3 89.3h0M229.0 85.4h0M241.9 96.7h0M276.3 110.2h0M280.9 108.6h0M290.1 107.0h0M322.1 118.4h0M331.3 123.7h0M136.0 150.2h0M142.4 147.5h0M145.6 145.9h0M148.8 144.0h0M152.0 142.0h0M171.2 130.6h0M187.2 126.8h0M206.5 116.9h0M216.1 107.3h0M232.2 102.2h0M235.5 103.6h0M271.7 118.6h0M303.8 133.0h0M136.0 150.2h0M139.2 148.0h0M152.0 137.1h0M158.4 131.3h0M164.8 126.3h0M171.2 122.4h0M187.2 120.3h0M209.7 115.2h0M212.9 112.4h0M219.3 108.1h0M222.6 106.9h0M232.2 107.2h0M271.7 117.6h0M276.3 117.6h0M280.9 117.0h0M303.8 123.9h0M322.1 137.3h0M335.8 146.4h0M136.0 150.2h0M142.4 144.3h0M158.4 126.1h0M164.8 119.5h0M212.9 90.4h0M222.6 84.0h0M229.0 85.0h0M251.6 115.7h0M267.2 116.2h0M285.5 111.2h0M299.2 114.3h0M308.4 120.2h0M161.6 125.7h0M190.4 105.2h0M241.9 104.0h0M254.8 115.0h0M294.6 128.1h0M312.9 138.8h0M331.3 148.6h0M142.4 141.0h0M155.2 138.8h0M158.4 137.9h0M200.0 121.7h0M209.7 102.1h0M212.9 96.6h0M216.1 91.8h0M225.8 83.0h0M229.0 82.3h0M232.2 82.9h0M238.7 88.1h0M245.1 96.6h0M254.8 109.8h0M276.3 97.2h0M294.6 92.7h0M312.9 105.0h0M326.7 120.7h0M335.8 131.6h0M136.0 150.2h0M158.4 129.2h0M161.6 124.4h0M164.8 119.5h0M193.6 91.3h0M203.2 76.9h0M212.9 61.6h0M229.0 61.5h0M235.5 71.4h0M241.9 85.4h0M251.6 107.3h0M322.1 126.2h0M335.8 141.7h0M136.0 117.3h0M142.4 119.1h0M161.6 119.5h0M164.8 118.8h0M177.6 114.3h0M190.4 108.8h0M203.2 94.1h0M225.8 68.8h0M232.2 70.1h0M235.5 72.7h0M276.3 101.2h0M290.1 102.7h0M303.8 107.2h0M345.0 117.3h0M142.4 124.1h0M145.6 124.7h0M161.6 127.7h0M174.4 129.3h0M187.2 129.5h0M193.6 128.9h0M206.5 112.9h0M209.7 107.6h0M216.1 97.9h0M219.3 93.6h0M222.6 90.0h0M238.7 85.0h0M285.5 89.4h0M303.8 95.8h0M317.5 105.7h0M331.3 115.9h0M340.4 121.2h0M345.0 123.0h0M145.6 132.1h0M206.5 85.4h0M209.7 80.0h0M251.6 76.3h0M254.8 79.0h0M276.3 84.9h0M308.4 106.0h0M317.5 113.4h0M326.7 119.3h0M335.8 122.7h0M136.0 142.9h0M139.2 146.7h0M145.6 150.0h0M148.8 149.1h0M155.2 146.4h0M158.4 144.9h0M168.0 139.6h0M174.4 136.2h0M190.4 119.1h0M196.8 110.3h0M200.0 107.5h0M203.2 104.9h0M206.5 102.5h0M212.9 98.7h0M216.1 97.4h0M229.0 96.7h0M245.1 107.5h0M271.7 104.8h0M280.9 103.8h0M285.5 103.8h0M308.4 115.1h0M312.9 119.0h0M142.4 137.6h0M145.6 135.5h0M155.2 127.6h0M174.4 111.5h0M177.6 109.7h0M196.8 107.8h0M203.2 100.0h0M209.7 93.3h0M222.6 86.1h0M232.2 87.7h0M238.7 92.8h0M258.0 107.1h0M317.5 132.2h0M340.4 140.8h0M136.0 129.7h0M152.0 128.3h0M161.6 125.6h0M164.8 124.5h0M174.4 121.1h0M177.6 120.0h0M184.0 118.1h0M187.2 117.3h0M200.0 112.7h0M245.1 97.6h0M248.3 99.3h0M254.8 101.0h0M267.2 98.6h0M271.7 98.7h0M276.3 99.6h0M280.9 99.9h0M299.2 106.2h0M317.5 118.2h0M139.2 131.8h0M184.0 104.4h0M193.6 105.5h0M200.0 104.4h0M206.5 100.1h0M232.2 95.8h0M241.9 101.5h0M267.2 103.8h0M271.7 104.4h0M285.5 107.3h0M312.9 121.8h0M335.8 132.6h0M142.4 136.8h0M145.6 134.3h0M171.2 113.5h0M184.0 109.5h0M235.5 101.8h0M254.8 113.9h0M262.6 113.5h0M280.9 118.2h0M294.6 123.6h0M326.7 140.0h0M345.0 140.9h0M136.0 136.9h0M158.4 135.5h0M171.2 126.4h0M196.8 107.3h0M203.2 100.5h0M238.7 84.7h0M245.1 88.6h0M248.3 90.3h0M267.2 99.1h0M271.7 103.9h0M280.9 113.5h0M303.8 133.0h0M317.5 141.6h0M326.7 145.8h0M335.8 143.3h0M136.0 104.3h0M180.8 79.9h0M222.6 79.5h0M258.0 73.8h0M262.6 73.1h0M290.1 78.8h0M335.8 103.6h0M168.0 123.1h0M174.4 118.2h0M180.8 113.1h0M193.6 104.8h0M200.0 99.6h0M206.5 92.3h0M216.1 83.6h0M238.7 84.1h0M258.0 95.7h0M326.7 111.6h0M155.2 137.5h0M190.4 121.6h0M216.1 104.4h0M222.6 97.9h0M232.2 91.0h0M258.0 87.7h0M290.1 92.7h0M312.9 119.3h0M317.5 125.4h0M322.1 131.2h0M142.4 119.2h0M174.4 104.5h0M184.0 101.7h0M187.2 101.2h0M225.8 80.7h0M245.1 90.6h0M248.3 92.9h0M271.7 95.1h0M317.5 113.1h0M322.1 115.4h0M326.7 117.4h0M345.0 120.6h0M148.8 128.9h0M155.2 124.1h0M158.4 121.1h0M161.6 117.8h0M177.6 99.7h0M180.8 96.5h0M212.9 86.0h0M262.6 99.1h0M267.2 95.0h0M312.9 98.5h0M326.7 113.4h0M345.0 132.0h0M136.0 140.3h0M139.2 137.8h0M148.8 128.1h0M177.6 99.7h0M209.7 84.9h0M222.6 69.4h0M229.0 64.5h0M241.9 64.7h0M251.6 68.9h0M254.8 69.8h0M267.2 69.5h0M312.9 114.3h0M142.4 120.5h0M152.0 120.0h0M161.6 117.4h0M177.6 110.1h0M200.0 98.4h0M216.1 81.1h0M225.8 76.5h0M232.2 77.0h0M238.7 81.0h0M245.1 86.7h0M258.0 93.9h0M303.8 97.9h0M326.7 112.5h0M331.3 115.0h0M139.2 117.2h0M142.4 117.4h0M164.8 110.6h0M171.2 107.0h0M193.6 96.0h0M200.0 92.2h0M206.5 86.6h0M212.9 82.3h0M216.1 80.8h0M222.6 79.4h0M271.7 94.1h0M308.4 102.1h0M312.9 104.5h0M326.7 111.6h0M340.4 116.2h0M145.6 111.3h0M190.4 99.9h0M219.3 80.0h0M222.6 78.2h0M235.5 77.8h0M326.7 112.9h0M340.4 115.5h0M161.6 112.2h0M171.2 105.1h0M219.3 76.1h0M245.1 91.9h0M299.2 104.2h0M331.3 119.4h0M158.4 95.7h0M161.6 97.1h0M177.6 103.2h0M187.2 104.7h0M212.9 83.1h0M222.6 72.2h0M229.0 67.3h0M299.2 74.4h0M308.4 77.9h0M322.1 83.5h0M148.8 120.6h0M152.0 116.7h0M164.8 103.4h0M193.6 104.8h0M203.2 102.2h0M206.5 98.7h0M219.3 81.8h0M222.6 77.5h0M235.5 64.3h0M238.7 62.6h0M248.3 59.8h0M271.7 65.8h0M285.5 82.5h0M299.2 102.7h0M303.8 109.6h0M326.7 135.4h0M335.8 138.2h0M345.0 135.5h0M142.4 107.6h0M145.6 104.7h0M161.6 88.8h0M174.4 79.8h0M206.5 65.2h0M212.9 58.2h0M222.6 56.7h0M232.2 66.5h0M258.0 115.2h0M262.6 116.5h0M317.5 123.0h0M322.1 122.1h0M326.7 120.9h0M331.3 119.3h0M206.5 83.4h0M216.1 70.0h0M229.0 61.8h0M251.6 79.3h0M254.8 81.9h0M294.6 90.7h0M340.4 114.1h0M136.0 107.2h0M145.6 101.8h0M161.6 90.2h0M171.2 84.4h0M187.2 81.2h0M222.6 70.2h0M232.2 70.9h0M312.9 89.0h0M322.1 95.7h0M326.7 98.8h0M335.8 104.0h0M345.0 107.2h0M145.6 96.3h0M148.8 94.5h0M161.6 85.9h0M168.0 81.6h0M180.8 75.3h0M187.2 73.9h0M225.8 60.6h0M241.9 69.2h0M248.3 73.7h0M299.2 81.0h0M308.4 86.0h0M312.9 88.7h0M331.3 97.8h0M345.0 100.1h0M136.0 80.0h0M139.2 81.2h0M174.4 111.1h0M187.2 117.4h0M193.6 117.6h0M196.8 116.9h0M219.3 85.5h0M232.2 76.2h0M248.3 81.9h0M251.6 83.5h0M276.3 85.6h0M340.4 80.9h0M209.7 67.8h0M216.1 48.3h0M225.8 27.6h0M245.1 33.2h0M258.0 58.9h0M280.9 54.1h0M331.3 100.6h0M345.0 110.5h0M139.2 117.9h0M161.6 103.7h0M203.2 59.9h0M241.9 19.3h0M245.1 20.6h0M285.5 37.3h0M326.7 102.9h0M331.3 108.5h0M139.2 100.0h0M142.4 99.1h0M148.8 96.4h0M152.0 94.7h0M180.8 79.9h0M200.0 75.3h0M206.5 68.6h0M222.6 58.1h0M241.9 65.0h0M303.8 77.0h0M331.3 95.5h0M335.8 97.8h0M340.4 99.6h0M145.6 96.2h0M148.8 95.2h0M164.8 88.1h0M190.4 78.4h0M193.6 78.1h0M196.8 78.1h0M216.1 62.8h0M238.7 67.8h0M241.9 70.7h0M262.6 76.9h0M276.3 75.4h0M317.5 87.1h0M322.1 89.5h0M335.8 95.6h0M145.6 97.0h0M171.2 80.2h0M177.6 76.8h0M180.8 75.5h0M184.0 74.5h0M196.8 74.1h0M200.0 71.2h0M225.8 57.1h0M229.0 57.3h0M235.5 59.8h0M312.9 86.4h0M326.7 95.2h0M136.0 82.0h0M145.6 89.5h0M148.8 92.0h0M152.0 94.4h0M158.4 98.4h0M168.0 102.1h0M177.6 102.1h0M190.4 96.6h0M238.7 76.2h0M262.6 82.5h0M290.1 89.4h0M294.6 90.0h0M312.9 91.2h0M317.5 90.9h0M145.6 96.8h0M190.4 80.8h0M196.8 79.6h0M216.1 60.3h0M262.6 70.6h0M285.5 70.9h0M290.1 72.0h0M299.2 75.6h0M335.8 95.1h0M340.4 96.2h0M142.4 98.4h0M148.8 95.7h0M158.4 90.3h0M168.0 84.3h0M180.8 78.0h0M200.0 72.5h0M225.8 51.6h0M245.1 60.5h0M251.6 64.8h0M254.8 66.0h0M267.2 66.0h0M322.1 94.4h0M340.4 100.2h0M145.6 103.6h0M155.2 98.1h0M174.4 76.1h0M184.0 65.0h0M200.0 52.5h0M212.9 41.5h0M222.6 38.6h0M229.0 39.9h0M235.5 44.3h0M241.9 50.8h0M254.8 60.8h0M262.6 60.4h0M285.5 66.3h0M312.9 87.3h0M335.8 102.1h0M136.0 65.1h0M161.6 74.8h0M171.2 77.0h0M203.2 75.5h0M209.7 76.3h0M222.6 76.9h0M241.9 77.0h0M280.9 53.2h0M331.3 58.5h0M136.0 75.7h0M193.6 66.7h0M196.8 66.8h0M203.2 54.6h0M206.5 48.6h0M209.7 42.8h0M241.9 26.5h0M262.6 44.3h0M276.3 54.4h0M312.9 79.0h0M331.3 81.9h0M164.8 80.1h0M184.0 69.7h0M219.3 43.9h0M232.2 43.8h0M238.7 48.7h0M251.6 60.8h0M254.8 62.5h0M258.0 63.3h0M267.2 60.2h0M280.9 59.8h0M136.0 83.7h0M142.4 81.5h0M152.0 76.5h0M161.6 70.5h0M180.8 61.1h0M190.4 60.0h0M193.6 60.3h0M200.0 56.3h0M229.0 33.9h0M235.5 37.4h0M238.7 40.3h0M271.7 55.1h0M276.3 55.9h0M299.2 61.7h0M317.5 72.9h0M158.4 64.1h0M168.0 60.0h0M206.5 30.1h0M235.5 9.9h0M241.9 18.9h0M251.6 35.4h0M254.8 40.2h0M262.6 41.8h0M280.9 37.8h0M290.1 38.1h0M299.2 41.1h0M322.1 56.2h0M152.0 70.8h0M158.4 72.0h0M193.6 91.6h0M196.8 93.2h0M271.7 52.3h0M276.3 49.6h0M308.4 44.7h0M312.9 47.3h0M331.3 62.2h0M136.0 75.2h0M139.2 75.1h0M148.8 74.0h0M152.0 73.4h0M168.0 69.2h0M235.5 32.7h0M238.7 33.9h0M254.8 41.9h0M280.9 39.6h0M294.6 43.7h0M317.5 60.1h0M322.1 63.6h0M184.0 62.9h0M216.1 46.4h0M222.6 43.4h0M232.2 42.1h0M235.5 42.9h0M241.9 45.8h0M248.3 48.5h0M254.8 49.0h0M262.6 47.2h0M184.0 48.5h0M222.6 25.5h0M229.0 23.9h0M241.9 30.0h0M245.1 32.6h0M254.8 38.1h0M258.0 38.5h0M271.7 38.4h0M148.8 74.1h0M187.2 45.9h0M200.0 42.2h0M203.2 39.2h0M212.9 31.5h0M229.0 27.3h0M241.9 34.8h0M248.3 39.5h0M276.3 46.0h0M285.5 49.7h0M152.0 58.1h0M161.6 52.8h0M174.4 45.8h0M200.0 40.2h0M203.2 39.4h0M225.8 33.8h0M229.0 33.2h0M235.5 33.2h0M241.9 33.9h0M267.2 24.1h0M285.5 24.5h0M290.1 25.9h0M294.6 28.0h0M317.5 45.5h0M340.4 61.5h0M187.2 49.8h0M229.0 27.6h0M254.8 34.7h0M258.0 33.9h0M262.6 32.5h0M276.3 32.2h0M280.9 32.4h0M232.2 30.6h0M235.5 35.1h0M245.1 48.8h0M251.6 54.7h0M258.0 55.5h0M280.9 77.8h0M285.5 81.2h0M294.6 87.5h0M299.2 90.0h0M340.4 79.7h0M152.0 59.5h0M158.4 64.2h0M161.6 65.9h0M164.8 67.2h0M209.7 25.6h0M212.9 19.4h0M222.6 6.8h0M225.8 4.9h0M229.0 4.3h0M235.5 7.6h0M245.1 21.1h0M271.7 35.6h0M290.1 30.8h0M308.4 32.5h0M322.1 37.2h0M326.7 39.0h0M340.4 43.7h0M180.8 44.5h0M190.4 36.0h0M196.8 31.7h0M229.0 29.6h0M238.7 43.0h0M258.0 62.5h0M271.7 55.6h0M280.9 52.0h0M229.0 39.2h0M232.2 43.8h0M235.5 48.6h0M241.9 57.6h0M258.0 62.0h0M262.6 62.7h0M267.2 63.4h0M299.2 65.5h0M196.8 30.2h0M245.1 26.3h0M262.6 29.4h0M276.3 29.5h0M241.9 6.9h0M262.6 8.3h0M267.2 7.7h0M190.4 31.6h0M232.2 16.0h0M251.6 32.4h0M254.8 33.7h0M262.6 31.9h0M142.4 42.1h0M158.4 17.2h0M229.0 4.5h0M235.5 17.4h0M238.7 24.1h0M285.5 40.1h0M308.4 41.1h0M322.1 44.3h0M139.2 51.3h0M161.6 42.7h0M180.8 36.6h0M184.0 36.3h0M190.4 36.2h0M206.5 24.1h0M209.7 20.4h0M216.1 14.3h0M219.3 12.1h0M245.1 21.8h0M248.3 24.9h0M258.0 30.4h0M276.3 35.1h0M317.5 51.2h0M326.7 53.5h0M335.8 53.9h0M340.4 53.2h0M245.1 2.2h0M267.2 3.0h0M184.0 22.9h0M193.6 23.5h0M258.0 13.7h0M262.6 12.4h0M267.2 11.7h0M276.3 12.8h0M180.8 30.4h0M285.5 22.6h0M139.2 49.3h0M142.4 49.6h0M235.5 4.3h0M251.6 18.8h0M276.3 22.5h0M285.5 24.6h0M200.0 63.4h0M206.5 53.3h0M219.3 33.6h0M225.8 26.0h0M229.0 23.2h0M251.6 26.2h0M254.8 27.3h0M148.8 41.5h0M152.0 39.1h0M184.0 12.5h0M187.2 11.1h0M190.4 10.3h0M251.6 4.0h0M254.8 6.4h0M262.6 7.0h0M267.2 6.9h0M280.9 10.7h0M290.1 14.7h0M326.7 41.6h0M335.8 45.6h0M345.0 46.8h0M271.7 11.4h0M285.5 8.9h0M158.4 21.0h0M254.8 5.7h0M331.3 19.5h0M335.8 22.0h0M340.4 24.0h0M180.8 29.9h0M241.9 19.5h0M258.0 15.1h0M262.6 14.6h0M136.0 54.4h0M139.2 51.0h0M148.8 38.3h0M155.2 29.0h0M161.6 20.2h0M164.8 16.2h0M177.6 6.1h0M193.6 9.8h0M331.3 38.6h0M335.8 45.2h0M136.0 28.6h0M168.0 18.1h0M171.2 18.1h0M200.0 20.0h0M245.1 2.1h0M258.0 12.7h0M312.9 19.7h0M317.5 21.7h0M322.1 23.6h0M136.0 21.8h0M158.4 16.1h0M174.4 6.6h0M335.8 19.3h0M340.4 20.8h0M136.0 30.2h0M142.4 35.0h0M152.0 37.9h0M168.0 30.6h0M187.2 9.2h0M285.5 14.0h0M294.6 16.2h0M308.4 21.6h0M326.7 28.6h0M190.4 7.8h0M317.5 2.3h0M317.5 1.8h0M326.7 5.5h0M331.3 6.9h0M340.4 8.0h0M139.2 203.8h0M168.0 220.3h0M180.8 229.4h0M187.2 232.5h0M209.7 234.0h0M222.6 234.6h0M235.5 232.0h0M248.3 226.3h0M267.2 218.0h0M180.8 241.9h0M184.0 244.5h0M187.2 246.5h0M203.2 248.7h0M222.6 252.6h0M294.6 219.3h0M308.4 208.5h0M326.7 198.4h0M340.4 196.4h0M136.0 216.4h0M152.0 223.6h0M164.8 238.3h0M168.0 242.5h0M177.6 254.5h0M184.0 260.9h0M212.9 268.2h0M216.1 268.4h0M229.0 266.3h0M241.9 259.8h0M245.1 257.6h0M248.3 255.2h0M258.0 247.2h0M267.2 251.7h0M276.3 254.1h0M290.1 253.2h0M345.0 216.4h0M136.0 228.5h0M142.4 229.1h0M148.8 232.2h0M155.2 237.6h0M174.4 260.5h0M180.8 267.6h0M196.8 277.2h0M212.9 278.1h0M216.1 277.9h0M222.6 276.5h0M276.3 251.3h0M294.6 249.0h0M299.2 247.7h0M312.9 242.2h0M317.5 240.1h0M331.3 233.8h0M335.8 231.9h0M340.4 230.1h0M345.0 228.5h0M158.4 253.2h0M171.2 275.1h0M174.4 279.5h0M180.8 286.2h0M200.0 285.9h0M222.6 278.1h0M248.3 268.3h0M254.8 265.9h0M267.2 261.9h0M326.7 223.5h0M340.4 221.3h0M145.6 234.3h0M148.8 234.4h0M158.4 237.5h0M164.8 241.5h0M171.2 246.6h0M184.0 257.7h0M232.2 274.9h0M238.7 274.5h0M271.7 259.9h0M299.2 245.3h0M308.4 240.9h0M335.8 235.3h0M340.4 235.7h0M177.6 274.7h0M219.3 278.5h0M299.2 252.5h0M303.8 252.0h0M312.9 250.8h0M322.1 249.4h0M340.4 246.4h0M139.2 253.9h0M152.0 258.1h0M164.8 269.3h0M174.4 279.5h0M196.8 295.1h0M206.5 291.7h0M225.8 286.8h0M245.1 280.2h0M258.0 274.9h0M267.2 273.6h0M276.3 271.3h0M294.6 264.8h0M322.1 255.8h0M335.8 254.0h0M345.0 254.2h0M136.0 266.7h0M152.0 267.2h0M174.4 284.7h0M267.2 280.2h0M280.9 275.9h0M285.5 274.3h0M299.2 269.8h0M303.8 268.5h0M335.8 265.4h0M148.8 264.8h0M155.2 270.2h0M190.4 315.1h0M254.8 293.3h0M280.9 286.7h0M294.6 281.5h0M312.9 272.8h0M317.5 270.7h0M326.7 267.0h0M340.4 263.3h0M136.0 265.0h0M139.2 267.6h0M142.4 270.9h0M145.6 275.0h0M267.2 296.5h0M145.6 258.5h0M155.2 266.8h0M142.4 275.4h0M148.8 278.0h0M312.9 285.3h0M331.3 278.3h0M196.8 315.9h0M312.9 283.5h0M335.8 282.9h0M235.5 309.9h0M326.7 287.5h0M155.2 299.3h0M241.9 323.6h0M136.0 240.9h0M158.4 253.7h0M180.8 270.5h0M245.1 245.1h0M262.6 236.2h0M271.7 236.5h0M299.2 238.6h0M308.4 239.4h0M322.1 240.3h0M136.0 199.5h0M152.0 200.2h0M168.0 215.6h0M187.2 239.1h0M212.9 246.7h0M222.6 247.8h0M225.8 248.4h0M262.6 251.8h0M271.7 247.4h0M331.3 200.3h0M345.0 199.5h0M139.2 221.6h0M142.4 223.0h0M152.0 230.4h0M187.2 268.2h0M200.0 268.4h0M206.5 264.3h0M209.7 262.3h0M225.8 253.7h0M254.8 255.9h0M285.5 231.2h0M312.9 212.1h0M345.0 221.0h0M139.2 212.0h0M155.2 218.7h0M171.2 228.2h0M177.6 231.3h0M190.4 234.7h0M209.7 231.6h0M222.6 228.5h0M229.0 226.6h0M235.5 225.1h0M258.0 225.2h0M267.2 221.4h0M161.6 220.1h0M164.8 224.8h0M200.0 258.5h0M206.5 259.5h0M212.9 261.2h0M219.3 263.2h0M241.9 270.2h0M248.3 271.3h0M258.0 271.6h0M285.5 257.5h0M322.1 213.2h0M174.4 257.6h0M184.0 263.2h0M196.8 269.4h0M225.8 248.1h0M276.3 234.3h0M280.9 236.2h0M294.6 242.5h0M299.2 244.5h0M308.4 248.1h0M139.2 243.4h0M180.8 278.1h0M190.4 285.4h0M193.6 286.8h0M235.5 280.7h0M238.7 282.4h0M254.8 293.2h0M312.9 259.6h0M317.5 255.8h0M326.7 249.4h0M335.8 245.2h0M196.8 247.0h0M209.7 249.6h0M219.3 254.9h0M222.6 257.0h0M254.8 274.8h0M280.9 260.5h0M285.5 256.6h0M290.1 252.6h0M303.8 241.3h0M308.4 238.0h0M322.1 231.0h0M331.3 229.2h0M139.2 200.2h0M196.8 256.7h0M200.0 256.6h0M203.2 256.9h0M216.1 262.0h0M219.3 264.0h0M222.6 266.3h0M225.8 268.7h0M235.5 276.3h0M248.3 284.5h0M251.6 285.8h0M276.3 281.9h0M290.1 266.5h0M308.4 237.9h0M317.5 223.5h0M139.2 274.6h0M145.6 273.3h0M155.2 272.1h0M158.4 271.9h0M203.2 280.3h0M209.7 282.0h0M254.8 282.4h0M308.4 275.9h0M322.1 275.0h0M335.8 274.9h0M148.8 284.3h0M152.0 283.6h0M190.4 283.5h0M196.8 285.1h0M200.0 286.4h0M212.9 284.1h0M219.3 278.7h0M267.2 237.7h0M294.6 265.9h0M299.2 270.8h0M308.4 279.6h0M317.5 286.2h0M335.8 290.5h0M136.0 239.6h0M164.8 271.0h0M168.0 274.9h0M171.2 278.6h0M216.1 276.1h0M222.6 268.1h0M262.6 237.0h0M271.7 243.0h0M290.1 252.4h0M335.8 245.4h0M345.0 239.6h0" stroke="#921043" stroke-width="3.7" stroke-linecap="round" fill="none"/>
<path d="M139.2 68.7h0M142.4 69.0h0M148.8 69.1h0M152.0 68.9h0M158.4 68.3h0M171.2 65.9h0M174.4 65.2h0M294.6 51.1h0M299.2 52.9h0M331.3 66.8h0M335.8 67.8h0M340.4 68.3h0M345.0 68.3h0M155.2 59.7h0M177.6 49.4h0M294.6 45.9h0M303.8 51.4h0M326.7 65.5h0M331.3 67.4h0M335.8 68.7h0M136.0 61.1h0M145.6 61.2h0M161.6 58.0h0M171.2 54.8h0M177.6 52.6h0M290.1 34.1h0M299.2 38.0h0M308.4 43.5h0M142.4 73.0h0M145.6 71.2h0M148.8 68.7h0M152.0 65.6h0M177.6 33.5h0M216.1 17.0h0M222.6 20.7h0M145.6 65.3h0M155.2 64.1h0M177.6 47.6h0M203.2 25.5h0M209.7 22.0h0M290.1 48.8h0M303.8 48.1h0M308.4 48.9h0M331.3 56.9h0M340.4 60.4h0M148.8 45.2h0M155.2 37.5h0M168.0 22.8h0M184.0 13.4h0M187.2 13.3h0M212.9 21.2h0M216.1 24.0h0M345.0 57.2h0M209.7 19.4h0M229.0 15.1h0M290.1 31.0h0M294.6 32.5h0M299.2 34.4h0M303.8 36.6h0M312.9 41.7h0M168.0 39.8h0M200.0 29.0h0M299.2 18.0h0M303.8 21.2h0M308.4 24.7h0M145.6 45.2h0M148.8 43.3h0M152.0 41.4h0M161.6 35.9h0M229.0 14.5h0M290.1 27.1h0M294.6 27.8h0M299.2 29.0h0M317.5 37.6h0M326.7 42.8h0M161.6 35.1h0M171.2 28.1h0M174.4 25.8h0M177.6 23.6h0M190.4 17.2h0M290.1 7.7h0M322.1 32.6h0M152.0 35.8h0M158.4 32.3h0M177.6 23.9h0M180.8 23.3h0M299.2 19.7h0M308.4 25.4h0M209.7 6.0h0M212.9 3.2h0M216.1 1.0h0M206.5 7.2h0M171.2 48.1h0M177.6 52.7h0M299.2 43.6h0M335.8 51.8h0M148.8 47.8h0M164.8 36.9h0M168.0 35.0h0M177.6 30.7h0M206.5 27.4h0M222.6 20.8h0M225.8 19.8h0M290.1 23.8h0M322.1 47.7h0M326.7 50.4h0M335.8 53.9h0M209.7 5.4h0M345.0 28.6h0M345.0 21.8h0M345.0 30.2h0M312.9 9.0h0M312.9 0.8h0M180.8 1.1h0M136.0 9.1h0M145.6 3.8h0M142.4 4.9h0M322.1 4.2h0M331.3 9.6h0" stroke="#5a3070" stroke-width="3.7" stroke-linecap="round" fill="none"/>
<path d="M136.0 68.3h0M145.6 69.1h0M155.2 68.7h0M161.6 67.9h0M164.8 67.3h0M303.8 54.9h0M317.5 61.6h0M322.1 63.6h0M136.0 69.3h0M139.2 68.2h0M145.6 65.2h0M148.8 63.4h0M152.0 61.6h0M158.4 57.9h0M168.0 52.8h0M171.2 51.4h0M308.4 54.5h0M139.2 61.3h0M142.4 61.3h0M152.0 60.3h0M158.4 58.9h0M164.8 57.0h0M168.0 55.9h0M312.9 46.5h0M317.5 49.5h0M322.1 52.4h0M326.7 55.0h0M331.3 57.3h0M335.8 59.1h0M340.4 60.4h0M345.0 61.1h0M136.0 74.7h0M155.2 62.1h0M158.4 58.3h0M161.6 54.1h0M164.8 49.8h0M171.2 41.3h0M174.4 37.2h0M200.0 19.9h0M203.2 18.0h0M206.5 16.7h0M209.7 16.1h0M212.9 16.2h0M219.3 18.5h0M136.0 61.9h0M139.2 63.5h0M142.4 64.6h0M152.0 65.0h0M161.6 61.0h0M174.4 50.6h0M212.9 21.4h0M216.1 21.5h0M299.2 47.8h0M312.9 50.1h0M322.1 53.3h0M326.7 55.1h0M335.8 58.7h0M345.0 61.9h0M136.0 57.2h0M139.2 54.8h0M142.4 52.0h0M145.6 48.7h0M152.0 41.4h0M161.6 29.7h0M171.2 19.9h0M174.4 17.4h0M177.6 15.5h0M180.8 14.1h0M190.4 13.9h0M200.0 16.4h0M203.2 16.5h0M206.5 17.4h0M326.7 63.2h0M331.3 62.1h0M335.8 60.7h0M340.4 59.0h0M136.0 53.6h0M139.2 52.7h0M142.4 51.4h0M145.6 49.9h0M148.8 48.1h0M152.0 46.2h0M155.2 44.2h0M158.4 42.1h0M161.6 40.0h0M164.8 38.0h0M168.0 36.0h0M174.4 32.7h0M203.2 24.3h0M206.5 21.7h0M212.9 17.5h0M216.1 16.0h0M219.3 15.0h0M222.6 14.5h0M322.1 46.8h0M326.7 49.0h0M331.3 50.8h0M335.8 52.3h0M340.4 53.2h0M345.0 53.6h0M136.0 44.2h0M139.2 44.5h0M142.4 44.6h0M145.6 44.5h0M148.8 44.3h0M152.0 43.9h0M155.2 43.3h0M158.4 42.6h0M161.6 41.7h0M164.8 40.8h0M171.2 38.7h0M203.2 25.9h0M206.5 22.6h0M209.7 19.4h0M212.9 16.3h0M216.1 13.4h0M219.3 10.8h0M222.6 8.6h0M225.8 6.7h0M229.0 5.4h0M294.6 15.2h0M312.9 28.3h0M317.5 31.7h0M322.1 35.0h0M326.7 38.0h0M331.3 40.5h0M335.8 42.4h0M340.4 43.7h0M345.0 44.2h0M136.0 50.2h0M139.2 48.7h0M142.4 47.0h0M155.2 39.5h0M158.4 37.7h0M168.0 33.0h0M174.4 31.1h0M203.2 26.6h0M206.5 23.4h0M209.7 20.5h0M212.9 18.1h0M216.1 16.2h0M222.6 14.1h0M303.8 30.7h0M308.4 32.7h0M312.9 35.1h0M322.1 40.2h0M331.3 45.1h0M335.8 47.2h0M340.4 48.9h0M345.0 50.2h0M136.0 44.3h0M139.2 44.4h0M142.4 44.1h0M145.6 43.3h0M148.8 42.3h0M152.0 40.9h0M155.2 39.2h0M158.4 37.2h0M164.8 32.8h0M168.0 30.5h0M187.2 18.4h0M193.6 16.4h0M196.8 15.9h0M200.0 12.8h0M203.2 9.7h0M206.5 6.6h0M209.7 3.8h0M212.9 1.3h0M299.2 13.4h0M303.8 17.0h0M312.9 24.8h0M317.5 28.8h0M326.7 36.1h0M331.3 39.1h0M335.8 41.6h0M340.4 43.3h0M345.0 44.3h0M136.0 42.8h0M139.2 41.8h0M142.4 40.5h0M145.6 39.1h0M148.8 37.5h0M155.2 34.1h0M161.6 30.6h0M164.8 28.9h0M171.2 26.0h0M174.4 24.9h0M200.0 20.1h0M203.2 16.0h0M206.5 12.0h0M209.7 8.4h0M212.9 5.1h0M216.1 2.3h0M312.9 28.5h0M317.5 31.6h0M322.1 34.5h0M326.7 37.1h0M331.3 39.4h0M335.8 41.1h0M340.4 42.2h0M345.0 42.8h0M136.0 48.9h0M139.2 46.9h0M142.4 45.2h0M145.6 43.8h0M148.8 42.9h0M152.0 42.4h0M155.2 42.3h0M158.4 42.6h0M161.6 43.4h0M174.4 50.3h0M294.6 41.5h0M303.8 45.6h0M312.9 49.3h0M322.1 51.8h0M326.7 52.3h0M331.3 52.3h0M340.4 50.6h0M345.0 48.9h0M200.0 5.3h0M136.0 54.5h0M139.2 53.2h0M142.4 51.6h0M145.6 49.8h0M152.0 45.6h0M158.4 41.2h0M161.6 39.0h0M216.1 23.2h0M294.6 26.7h0M299.2 30.1h0M308.4 37.4h0M312.9 41.1h0M317.5 44.6h0M331.3 52.5h0M340.4 54.6h0M345.0 54.5h0M136.0 22.1h0M139.2 20.9h0M142.4 19.4h0M145.6 17.7h0M148.8 15.6h0M152.0 13.4h0M155.2 11.0h0M158.4 8.5h0M161.6 6.1h0M164.8 3.7h0M168.0 1.4h0M303.8 3.1h0M308.4 6.0h0M317.5 12.0h0M322.1 14.7h0M326.7 17.2h0M331.3 19.2h0M335.8 20.7h0M340.4 21.7h0M345.0 22.1h0M136.0 14.4h0M139.2 14.4h0M142.4 14.2h0M145.6 13.8h0M148.8 13.1h0M152.0 12.2h0M155.2 11.2h0M158.4 9.9h0M161.6 8.6h0M164.8 7.1h0M168.0 5.6h0M171.2 4.0h0M174.4 2.5h0M177.6 1.1h0M317.5 3.5h0M322.1 6.2h0M326.7 8.6h0M331.3 10.7h0M335.8 12.4h0M340.4 13.7h0M345.0 14.4h0M200.0 5.0h0M136.0 5.3h0M139.2 5.5h0M142.4 5.4h0M145.6 5.0h0M148.8 4.2h0M152.0 3.2h0M155.2 2.0h0M326.7 1.5h0M331.3 3.0h0M335.8 4.2h0M340.4 5.0h0M345.0 5.3h0M148.8 1.6h0M145.6 3.2h0M136.0 13.3h0M139.2 12.7h0M142.4 11.7h0M145.6 10.4h0M148.8 8.8h0M152.0 7.0h0M155.2 4.9h0M158.4 2.7h0M317.5 1.0h0M326.7 7.1h0M335.8 11.5h0M340.4 12.7h0M345.0 13.3h0" stroke="#0d4c98" stroke-width="3.7" stroke-linecap="round" fill="none"/>
<path d="M148.8 336.8h0M152.0 335.7h0M155.2 334.7h0M164.8 332.0h0M174.4 330.5h0M177.6 330.3h0M184.0 330.5h0M190.4 331.4h0M193.6 332.0h0M203.2 333.7h0M206.5 334.0h0M212.9 334.1h0M216.1 333.9h0M219.3 333.6h0M222.6 333.1h0M225.8 332.6h0M232.2 331.1h0M241.9 328.6h0M245.1 327.7h0M254.8 325.3h0M258.0 324.7h0M280.9 333.3h0M285.5 335.1h0M142.4 285.5h0M148.8 278.6h0M158.4 269.1h0M161.6 266.5h0M164.8 264.3h0M168.0 262.6h0M171.2 261.5h0M190.4 266.2h0M193.6 268.7h0M200.0 273.4h0M203.2 275.6h0M209.7 280.9h0M225.8 296.1h0M229.0 298.8h0M238.7 304.9h0M248.3 306.8h0M258.0 304.2h0M285.5 305.2h0M294.6 303.9h0M322.1 297.2h0M335.8 293.8h0M345.0 292.0h0M139.2 318.3h0M142.4 318.6h0M152.0 319.6h0M168.0 321.7h0M174.4 322.4h0M184.0 323.0h0M193.6 323.0h0M196.8 322.9h0M200.0 323.5h0M206.5 324.3h0M209.7 324.6h0M216.1 324.6h0M219.3 324.5h0M222.6 324.2h0M225.8 323.8h0M232.2 322.7h0M238.7 321.3h0M241.9 320.6h0M245.1 319.8h0M254.8 317.5h0M258.0 316.9h0M262.6 316.1h0M294.6 312.6h0M312.9 313.3h0M317.5 313.8h0M145.6 323.3h0M148.8 322.3h0M168.0 314.3h0M177.6 310.6h0M180.8 309.7h0M187.2 308.3h0M203.2 308.5h0M212.9 310.6h0M216.1 311.6h0M222.6 313.8h0M229.0 316.2h0M238.7 319.5h0M245.1 321.2h0M248.3 321.8h0M251.6 322.2h0M267.2 322.4h0M276.3 322.6h0M285.5 322.8h0M290.1 323.0h0M294.6 323.2h0M303.8 323.6h0M308.4 323.8h0M322.1 324.4h0M340.4 324.9h0M345.0 325.0h0M142.4 327.3h0M152.0 318.9h0M168.0 307.0h0M174.4 304.5h0M177.6 303.9h0M184.0 304.0h0M187.2 304.8h0M196.8 309.6h0M203.2 311.0h0M216.1 313.2h0M241.9 313.4h0M248.3 312.5h0M251.6 311.9h0M267.2 315.3h0M271.7 317.9h0M285.5 326.0h0M312.9 337.1h0M326.7 337.5h0M136.0 301.7h0M145.6 303.0h0M152.0 303.3h0M161.6 302.5h0M174.4 299.7h0M177.6 298.9h0M187.2 296.2h0M190.4 295.4h0M196.8 293.9h0M212.9 287.2h0M216.1 286.7h0M219.3 286.6h0M238.7 292.7h0M241.9 294.5h0M248.3 298.6h0M258.0 304.7h0M267.2 306.4h0M271.7 307.1h0M294.6 308.8h0M303.8 308.5h0M308.4 308.1h0M312.9 307.5h0M317.5 306.9h0M335.8 303.5h0M345.0 301.7h0M136.0 287.1h0M142.4 290.0h0M148.8 294.0h0M152.0 296.3h0M161.6 303.4h0M164.8 305.7h0M171.2 309.8h0M174.4 311.4h0M184.0 314.4h0M187.2 314.6h0M190.4 314.4h0M196.8 312.9h0M203.2 314.9h0M225.8 312.4h0M245.1 301.8h0M254.8 296.7h0M258.0 295.3h0M285.5 305.6h0M290.1 306.1h0M308.4 304.3h0M326.7 296.9h0M136.0 326.5h0M145.6 333.1h0M148.8 335.2h0M152.0 337.3h0M193.6 337.8h0M200.0 336.2h0M206.5 336.7h0M209.7 336.7h0M216.1 336.5h0M219.3 336.3h0M225.8 335.4h0M232.2 334.2h0M238.7 332.9h0M258.0 329.1h0M262.6 329.5h0M271.7 330.0h0M280.9 330.4h0M290.1 330.4h0M294.6 330.4h0M299.2 330.2h0M326.7 328.2h0M345.0 326.5h0M136.0 315.4h0M139.2 317.1h0M142.4 318.4h0M145.6 319.3h0M148.8 319.7h0M171.2 311.1h0M193.6 293.1h0M209.7 292.2h0M212.9 292.5h0M225.8 293.9h0M235.5 294.8h0M241.9 295.1h0M248.3 295.2h0M280.9 294.7h0M290.1 296.6h0M299.2 299.5h0M312.9 304.9h0M322.1 308.5h0M331.3 311.9h0M335.8 313.3h0M345.0 315.4h0" stroke="#a0103a" stroke-width="2.8" stroke-linecap="round" fill="none"/>
</g>
<rect x="135.8" y="12.6" width="209.2" height="314.2" fill="none" stroke="#000" stroke-width="2.6"/>
<path d="M196.8 12.6V326.8M258.0 12.6V326.8" stroke="#000" stroke-width="2.6"/>
<path d="M136.0 327.0h7.5M345.0 327.0h-7.5M136.0 287.7h3.6M345.0 287.7h-3.6M136.0 248.4h7.5M345.0 248.4h-7.5M136.0 209.1h3.6M345.0 209.1h-3.6M136.0 169.8h7.5M345.0 169.8h-7.5M136.0 130.5h3.6M345.0 130.5h-3.6M136.0 91.2h7.5M345.0 91.2h-7.5M136.0 51.9h3.6M345.0 51.9h-3.6M136.0 12.6h7.5M345.0 12.6h-7.5" stroke="#000" stroke-width="2.4"/>
<text x="126.6" y="19.9" font-size="26.5" text-anchor="end" fill="#000" >4</text>
<text x="126.6" y="98.5" font-size="26.5" text-anchor="end" fill="#000" >2</text>
<text x="126.6" y="177.1" font-size="26.5" text-anchor="end" fill="#000" >0</text>
<text x="126.6" y="255.7" font-size="26.5" text-anchor="end" fill="#000" >-2</text>
<text x="126.6" y="334.3" font-size="26.5" text-anchor="end" fill="#000" >-4</text>
<text x="137.5" y="351.0" font-size="26" text-anchor="middle" fill="#000" >Γ</text>
<text x="195.8" y="351.0" font-size="26" text-anchor="middle" fill="#000" >X</text>
<text x="258.0" y="351.0" font-size="26" text-anchor="middle" fill="#000" >M</text>
<text x="344.0" y="351.0" font-size="26" text-anchor="middle" fill="#000" >Γ</text>
<text transform="translate(91.4,171) rotate(-90)" font-size="43" text-anchor="middle">Energy (eV)</text>
<text x="62.0" y="26.9" font-size="38" text-anchor="start" fill="#000" >(a)</text>
<rect x="371.7" y="78.40" width="17.3" height="18.03" fill="#0c4a96"/>
<rect x="371.7" y="96.13" width="17.3" height="18.03" fill="#0c4a96"/>
<rect x="371.7" y="113.86" width="17.3" height="18.03" fill="#1a4a90"/>
<rect x="371.7" y="131.59" width="17.3" height="18.03" fill="#2a4688"/>
<rect x="371.7" y="149.32" width="17.3" height="18.03" fill="#3f3c7a"/>
<rect x="371.7" y="167.05" width="17.3" height="18.03" fill="#5a2e6a"/>
<rect x="371.7" y="184.78" width="17.3" height="18.03" fill="#6e2458"/>
<rect x="371.7" y="202.51" width="17.3" height="18.03" fill="#881545"/>
<rect x="371.7" y="220.24" width="17.3" height="18.03" fill="#a3002e"/>
<rect x="371.7" y="237.97" width="17.3" height="18.03" fill="#a3002e"/>
<text x="363" y="73.5" font-size="20.5">SiO<tspan font-size="17" dy="4">2</tspan></text>
<text x="382.5" y="279.5" font-size="20" text-anchor="middle" fill="#000" >Si</text>
</g>
<g id="pb">
<path d="M517.9 12.4C517.9 13.6 518.3 16.5 517.9 19.5C517.5 22.5 516.2 26.8 515.5 30.5C514.8 34.2 513.5 37.8 513.9 41.5C514.3 45.2 517.9 49.4 517.9 52.6C517.9 55.8 515.6 57.9 513.9 60.5C512.2 63.1 508.9 65.0 507.6 68.4C506.3 71.8 506.0 76.5 506.0 81.0C506.0 85.5 507.5 91.2 507.6 95.2C507.7 99.2 507.6 102.6 506.8 104.7C506.0 106.8 504.6 105.7 502.9 107.8C501.2 109.9 498.6 113.9 496.6 117.3C494.6 120.7 492.7 124.6 491.0 128.3C489.3 132.0 487.5 135.5 486.3 139.4C485.1 143.3 484.5 147.6 484.0 152.0C483.5 156.4 483.5 163.0 483.4 166.0C483.3 169.0 483.3 167.4 483.4 170.0C483.5 172.6 483.9 177.9 484.2 181.8C484.5 185.7 484.2 190.4 485.0 193.5C485.8 196.6 487.8 197.2 489.2 200.3C490.6 203.4 491.7 208.9 493.4 212.0C495.1 215.1 498.0 216.2 499.3 218.7C500.6 221.2 500.3 224.2 501.0 227.0C501.7 229.8 502.1 233.2 503.5 235.5C504.9 237.8 507.6 239.1 509.4 240.5C511.2 241.9 513.3 241.9 514.4 243.9C515.5 245.9 516.1 249.0 516.0 252.3C515.9 255.7 513.1 260.9 513.5 264.0C513.9 267.1 517.5 268.5 518.6 270.7C519.7 272.9 519.5 275.4 520.3 277.4C521.1 279.4 521.1 280.9 523.6 282.5C526.1 284.1 529.3 285.4 535.4 286.7C541.5 288.0 552.7 289.4 560.0 290.5C567.3 291.6 571.2 292.0 579.3 293.0C587.4 294.0 600.1 295.4 608.6 296.6C617.1 297.8 623.2 298.6 630.5 300.3C637.8 302.0 647.2 304.7 652.5 306.9C657.8 309.1 661.5 311.6 662.0 313.4C662.5 315.2 658.7 315.8 655.4 317.8C652.1 319.8 644.4 324.0 642.2 325.2" fill="none" stroke="#606060" stroke-width="2.7" stroke-linejoin="round"/>
<path d="M500.5 12.4C500.9 13.6 502.4 16.5 502.9 19.5C503.4 22.5 503.3 26.6 503.7 30.5C504.1 34.4 504.1 39.3 505.2 43.0C506.2 46.7 509.7 49.9 510.0 52.6C510.3 55.3 508.1 56.6 506.8 59.0C505.5 61.4 503.0 63.4 502.1 66.8C501.2 70.2 501.0 75.2 501.3 79.4C501.6 83.6 502.9 88.3 503.7 92.0C504.5 95.7 506.1 98.9 506.0 101.5C505.9 104.1 504.5 105.2 502.9 107.8C501.3 110.4 498.6 113.9 496.6 117.3C494.6 120.7 492.7 124.6 491.0 128.3C489.3 132.0 487.5 135.5 486.3 139.4C485.1 143.3 484.5 147.6 484.0 152.0C483.5 156.4 483.5 163.0 483.4 166.0C483.3 169.0 483.3 167.4 483.4 170.0C483.5 172.6 483.9 177.9 484.2 181.8C484.5 185.7 484.2 190.4 485.0 193.5C485.8 196.6 487.8 197.2 489.2 200.3C490.6 203.4 491.7 208.9 493.4 212.0C495.1 215.1 498.0 216.2 499.3 218.7C500.6 221.2 500.3 224.2 501.0 227.0C501.7 229.8 502.1 233.2 503.5 235.5C504.9 237.8 507.9 238.6 509.4 240.5C510.9 242.4 512.4 244.7 512.7 247.2C513.0 249.7 511.6 253.1 511.0 255.6C510.4 258.1 509.1 260.1 509.4 262.3C509.7 264.5 511.9 266.5 512.7 269.0C513.5 271.5 514.1 274.6 514.4 277.4C514.7 280.2 515.0 283.0 514.4 285.8C513.8 288.6 512.4 291.5 511.0 294.3C509.6 297.1 507.0 299.8 506.0 302.6C505.0 305.4 505.1 308.5 505.2 311.0C505.3 313.5 507.5 315.2 506.8 317.7C506.1 320.2 502.0 324.6 501.0 326.0" fill="none" stroke="#a8002f" stroke-width="2.7" stroke-linejoin="round"/>
<path d="M500.5 12.4C500.2 13.8 499.9 18.0 498.9 21.0C497.8 24.0 495.5 27.1 494.2 30.5C492.9 33.9 491.6 37.8 491.0 41.5C490.4 45.2 490.7 49.2 490.3 52.6C489.9 56.0 489.4 58.6 488.7 62.0C488.0 65.4 487.0 69.0 486.3 73.0C485.6 77.0 485.1 80.4 484.7 85.7C484.3 91.0 484.2 95.7 484.0 104.7C483.8 113.8 483.7 124.1 483.6 140.0C483.5 155.9 483.5 183.3 483.6 200.0C483.7 216.7 484.0 229.9 484.2 240.0C484.4 250.1 484.7 255.3 485.0 260.6C485.3 265.9 485.6 268.9 486.0 272.0C486.4 275.1 486.6 277.0 487.5 279.0C488.4 281.0 488.8 282.4 491.7 284.0C494.6 285.6 498.8 287.0 505.2 288.3C511.6 289.6 522.8 290.9 530.3 291.7C537.8 292.5 541.8 292.3 550.0 293.0C558.2 293.7 570.8 294.8 579.3 295.9C587.8 297.0 594.4 298.0 601.2 299.5C608.0 301.0 614.7 302.9 620.3 304.7C625.9 306.5 632.1 309.1 634.9 310.5C637.7 311.9 637.6 312.2 637.1 313.4C636.6 314.6 634.3 315.7 632.0 317.8C629.7 319.9 624.7 324.5 623.2 325.9" fill="none" stroke="#0d4c98" stroke-width="2.7" stroke-linejoin="round"/>
<rect x="482.7" y="12.6" width="208.8" height="313.9" fill="none" stroke="#000" stroke-width="2.6"/>
<path d="M482.7 327.0h7.5M691.5 327.0h-7.5M482.7 287.7h3.6M691.5 287.7h-3.6M482.7 248.4h7.5M691.5 248.4h-7.5M482.7 209.1h3.6M691.5 209.1h-3.6M482.7 169.8h7.5M691.5 169.8h-7.5M482.7 130.5h3.6M691.5 130.5h-3.6M482.7 91.2h7.5M691.5 91.2h-7.5M482.7 51.9h3.6M691.5 51.9h-3.6M482.7 12.6h7.5M691.5 12.6h-7.5M482.7 326.5v-7.5M482.7 12.6v7.5M517.5 326.5v-3.6M517.5 12.6v3.6M552.3 326.5v-7.5M552.3 12.6v7.5M587.1 326.5v-3.6M587.1 12.6v3.6M621.9 326.5v-7.5M621.9 12.6v7.5M656.7 326.5v-3.6M656.7 12.6v3.6M691.5 326.5v-7.5M691.5 12.6v7.5" stroke="#000" stroke-width="2.4"/>
<text x="474.5" y="19.9" font-size="26.5" text-anchor="end" fill="#000" >4</text>
<text x="474.5" y="98.5" font-size="26.5" text-anchor="end" fill="#000" >2</text>
<text x="474.5" y="177.1" font-size="26.5" text-anchor="end" fill="#000" >0</text>
<text x="474.5" y="255.7" font-size="26.5" text-anchor="end" fill="#000" >-2</text>
<text x="474.5" y="334.3" font-size="26.5" text-anchor="end" fill="#000" >-4</text>
<text x="482.7" y="353.3" font-size="26" text-anchor="middle" fill="#000" >0</text>
<text x="552.3" y="353.3" font-size="26" text-anchor="middle" fill="#000" >20</text>
<text x="621.9" y="353.3" font-size="26" text-anchor="middle" fill="#000" >40</text>
<text x="691.5" y="353.3" font-size="26" text-anchor="middle" fill="#000" >60</text>
<text x="587.0" y="385.5" font-size="35" text-anchor="middle" fill="#000" >DOS (a.u.)</text>
<text transform="translate(441,171) rotate(-90)" font-size="43" text-anchor="middle">Energy (eV)</text>
<text x="403.0" y="26.9" font-size="38" text-anchor="start" fill="#000" >(b)</text>
<line x1="595.8" y1="42.7" x2="628.2" y2="42.7" stroke="#606060" stroke-width="2.5" stroke-linecap="round"/>
<line x1="595.8" y1="66.8" x2="628.2" y2="66.8" stroke="#a8002f" stroke-width="2.5" stroke-linecap="round"/>
<line x1="595.8" y1="91" x2="628.2" y2="91" stroke="#0d4c98" stroke-width="2.5" stroke-linecap="round"/>
<text x="636.5" y="48.6" font-size="19.5" text-anchor="start" fill="#000" >Total</text>
<text x="638.0" y="72.7" font-size="19.5" text-anchor="start" fill="#000" >Si</text>
<text x="638" y="96.4" font-size="19.5">SiO<tspan font-size="14" dy="4.5">2</tspan></text>
</g>
<g id="pc">
<rect x="819.5" y="12.5" width="53" height="117.9" fill="#a3002d"/>
<rect x="819.5" y="154" width="53" height="173.3" fill="#a3002d"/>
<rect x="907" y="12.5" width="53" height="55.3" fill="#0c4892"/>
<rect x="907" y="253" width="53" height="74.30000000000001" fill="#0c4892"/>
<rect x="785" y="12.5" width="209.60000000000002" height="314.8" fill="none" stroke="#000" stroke-width="2.6"/>
<path d="M785 327.3h10.5M994.6 327.3h-10.5M785 292.4h5M994.6 292.4h-5M785 257.6h10.5M994.6 257.6h-10.5M785 222.8h5M994.6 222.8h-5M785 187.9h10.5M994.6 187.9h-10.5M785 153.1h5M994.6 153.1h-5M785 118.2h10.5M994.6 118.2h-10.5M785 83.3h5M994.6 83.3h-5M785 48.5h10.5M994.6 48.5h-10.5" stroke="#000" stroke-width="2.4"/>
<text x="780.0" y="57.7" font-size="28" text-anchor="end" fill="#000" >-2</text>
<text x="780.0" y="127.4" font-size="28" text-anchor="end" fill="#000" >-4</text>
<text x="780.0" y="197.1" font-size="28" text-anchor="end" fill="#000" >-6</text>
<text x="780.0" y="266.8" font-size="28" text-anchor="end" fill="#000" >-8</text>
<text x="780.0" y="336.5" font-size="28" text-anchor="end" fill="#000" >-10</text>
<text x="845.0" y="361.5" font-size="37" text-anchor="middle" fill="#000" >Si</text>
<text x="901" y="361.5" font-size="37">SiO<tspan font-size="26" dy="8">2</tspan></text>
<text transform="translate(741,171) rotate(-90)" font-size="43" text-anchor="middle">Energy (eV)</text>
<text x="721.0" y="26.9" font-size="38" text-anchor="start" fill="#000" >(c)</text>
</g>
<g id="pd">
<defs><radialGradient id="gsi" cx="0.5" cy="0.5" fx="0.45" fy="0.32" r="0.55"><stop offset="0" stop-color="#e8f0ff"/><stop offset="0.22" stop-color="#6d80f4"/><stop offset="0.6" stop-color="#3a4ad6"/><stop offset="1" stop-color="#2834b0"/></radialGradient><radialGradient id="go" cx="0.5" cy="0.5" fx="0.45" fy="0.32" r="0.55"><stop offset="0" stop-color="#ffd0d0"/><stop offset="0.25" stop-color="#f03a3a"/><stop offset="0.65" stop-color="#e01010"/><stop offset="1" stop-color="#b00000"/></radialGradient></defs>
<path d="M127.6 398.8L148.5 419.2M127.6 439.8L148.5 460.3M127.6 439.8L148.5 419.2M127.6 480.7L148.5 501.1M127.6 480.7L148.5 460.3M127.6 521.3L148.5 501.1M148.5 419.2L169.4 439.8M148.5 419.2L169.4 398.8M148.5 460.3L169.4 480.7M148.5 460.3L169.4 439.8M148.5 501.1L169.4 521.3M148.5 501.1L169.4 480.7M169.4 398.8L190.3 419.2M169.4 439.8L190.3 460.3M169.4 439.8L190.3 419.2M169.4 480.7L190.3 501.1M169.4 480.7L190.3 460.3M169.4 521.3L190.3 501.1M190.3 419.2L211.2 439.8M190.3 419.2L211.2 398.8M190.3 460.3L211.2 480.7M190.3 460.3L211.2 439.8M190.3 501.1L211.2 521.3M190.3 501.1L211.2 480.7M211.2 398.8L232.1 419.2M211.2 439.8L232.1 460.3M211.2 439.8L232.1 419.2M211.2 480.7L232.1 501.1M211.2 480.7L232.1 460.3M211.2 521.3L232.1 501.1M232.1 419.2L253.0 439.8M232.1 419.2L253.0 398.8M232.1 460.3L253.0 480.7M232.1 460.3L253.0 439.8M232.1 501.1L253.0 521.3M232.1 501.1L253.0 480.7M253.0 398.8L274.0 416.0M253.0 439.8L274.0 463.0M253.0 439.8L274.0 416.0M253.0 480.7L274.0 498.5M253.0 480.7L274.0 463.0M253.0 521.3L274.0 498.5M827.4 398.8L848.2 419.2M827.4 439.8L848.2 460.3M827.4 439.8L848.2 419.2M827.4 480.7L848.2 501.1M827.4 480.7L848.2 460.3M827.4 521.3L848.2 501.1M848.2 419.2L869.1 439.8M848.2 419.2L869.1 398.8M848.2 460.3L869.1 480.7M848.2 460.3L869.1 439.8M848.2 501.1L869.1 521.3M848.2 501.1L869.1 480.7M869.1 398.8L889.9 419.2M869.1 439.8L889.9 460.3M869.1 439.8L889.9 419.2M869.1 480.7L889.9 501.1M869.1 480.7L889.9 460.3M869.1 521.3L889.9 501.1M889.9 419.2L910.8 439.8M889.9 419.2L910.8 398.8M889.9 460.3L910.8 480.7M889.9 460.3L910.8 439.8M889.9 501.1L910.8 521.3M889.9 501.1L910.8 480.7M910.8 398.8L931.6 419.2M910.8 439.8L931.6 460.3M910.8 439.8L931.6 419.2M910.8 480.7L931.6 501.1M910.8 480.7L931.6 460.3M910.8 521.3L931.6 501.1M931.6 419.2L952.5 439.8M931.6 419.2L952.5 398.8M931.6 460.3L952.5 480.7M931.6 460.3L952.5 439.8M931.6 501.1L952.5 521.3M931.6 501.1L952.5 480.7M952.5 398.8L973.4 419.2M952.5 439.8L973.4 460.3M952.5 439.8L973.4 419.2M952.5 480.7L973.4 501.1M952.5 480.7L973.4 460.3M952.5 521.3L973.4 501.1M973.4 419.2L994.2 439.8M973.4 419.2L994.2 398.8M973.4 460.3L994.2 480.7M973.4 460.3L994.2 439.8M973.4 501.1L994.2 521.3M973.4 501.1L994.2 480.7M994.2 398.8L1015.0 419.2M994.2 439.8L1015.0 460.3M994.2 439.8L1015.0 419.2M994.2 480.7L1015.0 501.1M994.2 480.7L1015.0 460.3M994.2 521.3L1015.0 501.1M807.3 422.7L827.4 439.8M807.3 422.7L827.4 398.8M807.3 504.5L827.4 521.3M807.3 504.5L827.4 480.7M807.3 422.7L827.4 398.8M807.3 422.7L827.4 439.8M807.3 504.5L827.4 480.7M807.3 504.5L827.4 521.3" stroke="#3b4bd8" stroke-width="3" fill="none"/>
<path d="M340.7 419.0L337.7 408.8M340.7 419.0L350.7 416.6M340.7 419.0L331.4 421.9M340.7 419.0L343.0 429.5M340.7 460.0L343.0 450.0M340.7 460.0L331.4 457.6M340.7 460.0L350.7 463.5M340.7 460.0L337.7 470.5M340.7 501.0L337.7 491.0M340.7 501.0L331.4 503.3M340.7 501.0L350.7 498.0M340.7 501.0L343.0 510.9M407.1 419.0L410.1 408.8M407.1 419.0L397.1 416.6M407.1 419.0L416.5 421.9M407.1 419.0L404.8 429.5M407.1 460.0L404.8 450.0M407.1 460.0L416.5 457.6M407.1 460.0L397.1 463.5M407.1 460.0L410.1 470.5M407.1 501.0L410.1 491.0M407.1 501.0L416.5 503.3M407.1 501.0L397.1 498.0M407.1 501.0L404.8 510.9M473.6 419.0L470.6 408.8M473.6 419.0L483.6 416.6M473.6 419.0L464.2 421.9M473.6 419.0L476.0 429.5M473.6 460.0L476.0 450.0M473.6 460.0L464.2 457.6M473.6 460.0L483.6 463.5M473.6 460.0L470.6 470.5M473.6 501.0L470.6 491.0M473.6 501.0L464.2 503.3M473.6 501.0L483.6 498.0M473.6 501.0L476.0 510.9M540.0 419.0L543.0 408.8M540.0 419.0L530.0 416.6M540.0 419.0L549.4 421.9M540.0 419.0L537.7 429.5M540.0 460.0L537.7 450.0M540.0 460.0L549.4 457.6M540.0 460.0L530.0 463.5M540.0 460.0L543.0 470.5M540.0 501.0L543.0 491.0M540.0 501.0L549.4 503.3M540.0 501.0L530.0 498.0M540.0 501.0L537.7 510.9M606.5 419.0L603.5 408.8M606.5 419.0L616.5 416.6M606.5 419.0L597.1 421.9M606.5 419.0L608.9 429.5M606.5 460.0L608.9 450.0M606.5 460.0L597.1 457.6M606.5 460.0L616.5 463.5M606.5 460.0L603.5 470.5M606.5 501.0L603.5 491.0M606.5 501.0L597.1 503.3M606.5 501.0L616.5 498.0M606.5 501.0L608.9 510.9M673.0 419.0L676.0 408.8M673.0 419.0L663.0 416.6M673.0 419.0L682.3 421.9M673.0 419.0L670.6 429.5M673.0 460.0L670.6 450.0M673.0 460.0L682.3 457.6M673.0 460.0L663.0 463.5M673.0 460.0L676.0 470.5M673.0 501.0L676.0 491.0M673.0 501.0L682.3 503.3M673.0 501.0L663.0 498.0M673.0 501.0L670.6 510.9M739.4 419.0L736.4 408.8M739.4 419.0L749.4 416.6M739.4 419.0L730.1 421.9M739.4 419.0L741.8 429.5M739.4 460.0L741.8 450.0M739.4 460.0L730.1 457.6M739.4 460.0L749.4 463.5M739.4 460.0L736.4 470.5M739.4 501.0L736.4 491.0M739.4 501.0L730.1 503.3M739.4 501.0L749.4 498.0M739.4 501.0L741.8 510.9M307.9 440.0L314.9 432.4M307.9 440.0L314.9 447.6M373.9 481.0L367.3 474.0M373.9 481.0L367.3 488.0M373.9 481.0L380.5 474.0M373.9 481.0L380.5 488.0M440.3 440.0L433.1 432.4M440.3 440.0L433.1 447.6M440.3 440.0L447.6 432.4M440.3 440.0L447.6 447.6M506.8 481.0L500.2 474.0M506.8 481.0L500.2 488.0M506.8 481.0L513.4 474.0M506.8 481.0L513.4 488.0M573.2 440.0L566.0 432.4M573.2 440.0L566.0 447.6M573.2 440.0L580.5 432.4M573.2 440.0L580.5 447.6M639.7 481.0L633.1 474.0M639.7 481.0L633.1 488.0M639.7 481.0L646.3 474.0M639.7 481.0L646.3 488.0M706.1 440.0L698.9 432.4M706.1 440.0L698.9 447.6M706.1 440.0L713.4 432.4M706.1 440.0L713.4 447.6M274.0 416.0L277.5 407.3M274.0 416.0L284.0 421.5M274.0 463.0L284.0 458.0M274.0 498.5L284.0 503.2M274.0 463.0L277.5 471.5M274.0 498.5L277.5 489.2M307.9 440.0L300.9 433.5M307.9 440.0L300.9 446.5M771.0 481.0L764.6 473.4M771.0 481.0L778.7 487.5M807.3 422.7L796.8 417.9M807.3 504.5L796.8 499.2M807.3 504.5L803.8 513.2" stroke="#3b4bd8" stroke-width="2.6" fill="none"/>
<path d="M337.7 408.8L334.7 398.6M350.7 416.6L360.7 414.3M331.4 421.9L322.0 424.8M343.0 429.5L345.4 440.0M343.0 450.0L345.4 440.0M331.4 457.6L322.0 455.3M350.7 463.5L360.7 467.0M337.7 470.5L334.7 481.0M337.7 491.0L334.7 481.0M331.4 503.3L322.0 505.6M350.7 498.0L360.7 495.0M343.0 510.9L345.4 520.8M410.1 408.8L413.1 398.6M397.1 416.6L387.1 414.3M416.5 421.9L425.8 424.8M404.8 429.5L402.4 440.0M404.8 450.0L402.4 440.0M416.5 457.6L425.8 455.3M397.1 463.5L387.1 467.0M410.1 470.5L413.1 481.0M410.1 491.0L413.1 481.0M416.5 503.3L425.8 505.6M397.1 498.0L387.1 495.0M404.8 510.9L402.4 520.8M470.6 408.8L467.6 398.6M483.6 416.6L493.6 414.3M464.2 421.9L454.9 424.8M476.0 429.5L478.3 440.0M476.0 450.0L478.3 440.0M464.2 457.6L454.9 455.3M483.6 463.5L493.6 467.0M470.6 470.5L467.6 481.0M470.6 491.0L467.6 481.0M464.2 503.3L454.9 505.6M483.6 498.0L493.6 495.0M476.0 510.9L478.3 520.8M543.0 408.8L546.0 398.6M530.0 416.6L520.0 414.3M549.4 421.9L558.8 424.8M537.7 429.5L535.3 440.0M537.7 450.0L535.3 440.0M549.4 457.6L558.8 455.3M530.0 463.5L520.0 467.0M543.0 470.5L546.0 481.0M543.0 491.0L546.0 481.0M549.4 503.3L558.8 505.6M530.0 498.0L520.0 495.0M537.7 510.9L535.3 520.8M603.5 408.8L600.5 398.6M616.5 416.6L626.5 414.3M597.1 421.9L587.8 424.8M608.9 429.5L611.2 440.0M608.9 450.0L611.2 440.0M597.1 457.6L587.8 455.3M616.5 463.5L626.5 467.0M603.5 470.5L600.5 481.0M603.5 491.0L600.5 481.0M597.1 503.3L587.8 505.6M616.5 498.0L626.5 495.0M608.9 510.9L611.2 520.8M676.0 408.8L679.0 398.6M663.0 416.6L653.0 414.3M682.3 421.9L691.7 424.8M670.6 429.5L668.2 440.0M670.6 450.0L668.2 440.0M682.3 457.6L691.7 455.3M663.0 463.5L653.0 467.0M676.0 470.5L679.0 481.0M676.0 491.0L679.0 481.0M682.3 503.3L691.7 505.6M663.0 498.0L653.0 495.0M670.6 510.9L668.2 520.8M736.4 408.8L733.4 398.6M749.4 416.6L759.4 414.3M730.1 421.9L720.7 424.8M741.8 429.5L744.1 440.0M741.8 450.0L744.1 440.0M730.1 457.6L720.7 455.3M749.4 463.5L759.4 467.0M736.4 470.5L733.4 481.0M736.4 491.0L733.4 481.0M730.1 503.3L720.7 505.6M749.4 498.0L759.4 495.0M741.8 510.9L744.1 520.8M314.9 432.4L322.0 424.8M314.9 447.6L322.0 455.3M367.3 474.0L360.7 467.0M367.3 488.0L360.7 495.0M380.5 474.0L387.1 467.0M380.5 488.0L387.1 495.0M433.1 432.4L425.8 424.8M433.1 447.6L425.8 455.3M447.6 432.4L454.9 424.8M447.6 447.6L454.9 455.3M500.2 474.0L493.6 467.0M500.2 488.0L493.6 495.0M513.4 474.0L520.0 467.0M513.4 488.0L520.0 495.0M566.0 432.4L558.8 424.8M566.0 447.6L558.8 455.3M580.5 432.4L587.8 424.8M580.5 447.6L587.8 455.3M633.1 474.0L626.5 467.0M633.1 488.0L626.5 495.0M646.3 474.0L653.0 467.0M646.3 488.0L653.0 495.0M698.9 432.4L691.7 424.8M698.9 447.6L691.7 455.3M713.4 432.4L720.7 424.8M713.4 447.6L720.7 455.3M277.5 407.3L281.0 398.6M284.0 421.5L294.0 427.0M284.0 458.0L294.0 453.0M284.0 503.2L294.0 508.0M277.5 471.5L281.0 480.0M277.5 489.2L281.0 480.0M300.9 433.5L294.0 427.0M300.9 446.5L294.0 453.0M764.6 473.4L758.3 465.8M778.7 487.5L786.4 494.0M796.8 417.9L786.4 413.0M796.8 499.2L786.4 494.0M803.8 513.2L800.4 522.0" stroke="#e02020" stroke-width="2.6" fill="none"/>
<defs><radialGradient id="gy" cx="0.45" cy="0.4" r="0.6"><stop offset="0" stop-color="#f6f47a"/><stop offset="0.6" stop-color="#e2e040"/><stop offset="1" stop-color="#c4c436"/></radialGradient><radialGradient id="gc" cx="0.45" cy="0.4" r="0.6"><stop offset="0" stop-color="#7aeeee"/><stop offset="0.6" stop-color="#3fd0d4"/><stop offset="1" stop-color="#34a8b4"/></radialGradient></defs>
<g><clipPath id="cl1"><rect x="249.6" y="410.2" width="28" height="98.7"/></clipPath><g clip-path="url(#cl1)"><ellipse cx="263.5" cy="418.5" rx="13.5" ry="14.5" fill="url(#gc)" opacity="0.93"/><ellipse cx="262.5" cy="430.5" rx="14.5" ry="9.5" fill="url(#gy)" opacity="0.93"/><ellipse cx="258.5" cy="444.5" rx="7.5" ry="7.5" fill="url(#gc)" opacity="0.93"/><ellipse cx="262.5" cy="452.0" rx="14.5" ry="10.0" fill="url(#gy)" opacity="0.93"/><ellipse cx="260.0" cy="465.5" rx="10.0" ry="9.5" fill="url(#gc)" opacity="0.93"/><ellipse cx="262.5" cy="482.0" rx="14.5" ry="15.0" fill="url(#gy)" opacity="0.93"/><ellipse cx="263.5" cy="504.0" rx="13.5" ry="11.0" fill="url(#gc)" opacity="0.93"/><ellipse cx="255.5" cy="411.0" rx="6.5" ry="6.0" fill="url(#gy)" opacity="0.93"/></g><ellipse cx="293.3" cy="426.7" rx="8.5" ry="6.0" fill="url(#gc)" opacity="0.9"/><ellipse cx="293.3" cy="426.7" rx="5.0" ry="9.0" fill="url(#gy)" opacity="0.9"/><ellipse cx="293.3" cy="452.8" rx="8.5" ry="6.0" fill="url(#gc)" opacity="0.9"/><ellipse cx="293.3" cy="452.8" rx="5.0" ry="9.0" fill="url(#gy)" opacity="0.9"/><ellipse cx="293.3" cy="507.8" rx="8.5" ry="6.0" fill="url(#gc)" opacity="0.9"/><ellipse cx="293.3" cy="507.8" rx="5.0" ry="9.0" fill="url(#gy)" opacity="0.9"/><ellipse cx="281.0" cy="480.0" rx="8.0" ry="10.0" fill="url(#gc)" opacity="0.9"/><ellipse cx="282.5" cy="478.5" rx="7.5" ry="9.5" fill="url(#gy)" opacity="0.9"/><clipPath id="cl2"><rect x="766" y="410" width="56" height="99"/></clipPath><g clip-path="url(#cl2)"><ellipse cx="791.0" cy="410.5" rx="23.0" ry="6.5" fill="url(#gc)" opacity="0.93"/><ellipse cx="817.5" cy="459.5" rx="4.5" ry="55.5" fill="url(#gy)" opacity="0.93"/><ellipse cx="788.6" cy="415.5" rx="12.8" ry="10.5" fill="url(#gy)" opacity="0.93"/><ellipse cx="798.8" cy="432.0" rx="15.2" ry="11.0" fill="url(#gc)" opacity="0.93"/><ellipse cx="800.5" cy="446.0" rx="13.5" ry="9.0" fill="url(#gy)" opacity="0.93"/><ellipse cx="798.8" cy="460.0" rx="15.2" ry="18.0" fill="url(#gc)" opacity="0.93"/><ellipse cx="787.3" cy="468.0" rx="11.5" ry="13.0" fill="url(#gy)" opacity="0.93"/><ellipse cx="775.0" cy="480.5" rx="11.0" ry="17.5" fill="url(#gc)" opacity="0.93"/><ellipse cx="788.6" cy="494.5" rx="12.8" ry="13.5" fill="url(#gy)" opacity="0.93"/><ellipse cx="806.4" cy="499.0" rx="7.6" ry="13.0" fill="url(#gc)" opacity="0.93"/></g><ellipse cx="759.0" cy="414.0" rx="8.0" ry="6.0" fill="url(#gc)" opacity="0.92"/><ellipse cx="759.0" cy="414.0" rx="6.0" ry="8.5" fill="url(#gy)" opacity="0.92"/><ellipse cx="759.0" cy="466.7" rx="9.2" ry="6.9" fill="url(#gc)" opacity="0.92"/><ellipse cx="759.0" cy="466.7" rx="6.9" ry="9.8" fill="url(#gy)" opacity="0.92"/><ellipse cx="759.0" cy="497.0" rx="8.0" ry="6.0" fill="url(#gc)" opacity="0.92"/><ellipse cx="759.0" cy="497.0" rx="6.0" ry="8.5" fill="url(#gy)" opacity="0.92"/></g>
<circle cx="334.7" cy="398.6" r="3.9" fill="url(#go)"/>
<circle cx="360.7" cy="414.3" r="3.9" fill="url(#go)"/>
<circle cx="322.0" cy="424.8" r="3.9" fill="url(#go)"/>
<circle cx="345.4" cy="440.0" r="3.9" fill="url(#go)"/>
<circle cx="322.0" cy="455.3" r="3.9" fill="url(#go)"/>
<circle cx="360.7" cy="467.0" r="3.9" fill="url(#go)"/>
<circle cx="334.7" cy="481.0" r="3.9" fill="url(#go)"/>
<circle cx="322.0" cy="505.6" r="3.9" fill="url(#go)"/>
<circle cx="360.7" cy="495.0" r="3.9" fill="url(#go)"/>
<circle cx="345.4" cy="520.8" r="3.9" fill="url(#go)"/>
<circle cx="413.1" cy="398.6" r="3.9" fill="url(#go)"/>
<circle cx="387.1" cy="414.3" r="3.9" fill="url(#go)"/>
<circle cx="425.8" cy="424.8" r="3.9" fill="url(#go)"/>
<circle cx="402.4" cy="440.0" r="3.9" fill="url(#go)"/>
<circle cx="425.8" cy="455.3" r="3.9" fill="url(#go)"/>
<circle cx="387.1" cy="467.0" r="3.9" fill="url(#go)"/>
<circle cx="413.1" cy="481.0" r="3.9" fill="url(#go)"/>
<circle cx="425.8" cy="505.6" r="3.9" fill="url(#go)"/>
<circle cx="387.1" cy="495.0" r="3.9" fill="url(#go)"/>
<circle cx="402.4" cy="520.8" r="3.9" fill="url(#go)"/>
<circle cx="467.6" cy="398.6" r="3.9" fill="url(#go)"/>
<circle cx="493.6" cy="414.3" r="3.9" fill="url(#go)"/>
<circle cx="454.9" cy="424.8" r="3.9" fill="url(#go)"/>
<circle cx="478.3" cy="440.0" r="3.9" fill="url(#go)"/>
<circle cx="454.9" cy="455.3" r="3.9" fill="url(#go)"/>
<circle cx="493.6" cy="467.0" r="3.9" fill="url(#go)"/>
<circle cx="467.6" cy="481.0" r="3.9" fill="url(#go)"/>
<circle cx="454.9" cy="505.6" r="3.9" fill="url(#go)"/>
<circle cx="493.6" cy="495.0" r="3.9" fill="url(#go)"/>
<circle cx="478.3" cy="520.8" r="3.9" fill="url(#go)"/>
<circle cx="546.0" cy="398.6" r="3.9" fill="url(#go)"/>
<circle cx="520.0" cy="414.3" r="3.9" fill="url(#go)"/>
<circle cx="558.8" cy="424.8" r="3.9" fill="url(#go)"/>
<circle cx="535.3" cy="440.0" r="3.9" fill="url(#go)"/>
<circle cx="558.8" cy="455.3" r="3.9" fill="url(#go)"/>
<circle cx="520.0" cy="467.0" r="3.9" fill="url(#go)"/>
<circle cx="546.0" cy="481.0" r="3.9" fill="url(#go)"/>
<circle cx="558.8" cy="505.6" r="3.9" fill="url(#go)"/>
<circle cx="520.0" cy="495.0" r="3.9" fill="url(#go)"/>
<circle cx="535.3" cy="520.8" r="3.9" fill="url(#go)"/>
<circle cx="600.5" cy="398.6" r="3.9" fill="url(#go)"/>
<circle cx="626.5" cy="414.3" r="3.9" fill="url(#go)"/>
<circle cx="587.8" cy="424.8" r="3.9" fill="url(#go)"/>
<circle cx="611.2" cy="440.0" r="3.9" fill="url(#go)"/>
<circle cx="587.8" cy="455.3" r="3.9" fill="url(#go)"/>
<circle cx="626.5" cy="467.0" r="3.9" fill="url(#go)"/>
<circle cx="600.5" cy="481.0" r="3.9" fill="url(#go)"/>
<circle cx="587.8" cy="505.6" r="3.9" fill="url(#go)"/>
<circle cx="626.5" cy="495.0" r="3.9" fill="url(#go)"/>
<circle cx="611.2" cy="520.8" r="3.9" fill="url(#go)"/>
<circle cx="679.0" cy="398.6" r="3.9" fill="url(#go)"/>
<circle cx="653.0" cy="414.3" r="3.9" fill="url(#go)"/>
<circle cx="691.7" cy="424.8" r="3.9" fill="url(#go)"/>
<circle cx="668.2" cy="440.0" r="3.9" fill="url(#go)"/>
<circle cx="691.7" cy="455.3" r="3.9" fill="url(#go)"/>
<circle cx="653.0" cy="467.0" r="3.9" fill="url(#go)"/>
<circle cx="679.0" cy="481.0" r="3.9" fill="url(#go)"/>
<circle cx="691.7" cy="505.6" r="3.9" fill="url(#go)"/>
<circle cx="653.0" cy="495.0" r="3.9" fill="url(#go)"/>
<circle cx="668.2" cy="520.8" r="3.9" fill="url(#go)"/>
<circle cx="733.4" cy="398.6" r="3.9" fill="url(#go)"/>
<circle cx="759.4" cy="414.3" r="3.9" fill="url(#go)"/>
<circle cx="720.7" cy="424.8" r="3.9" fill="url(#go)"/>
<circle cx="744.1" cy="440.0" r="3.9" fill="url(#go)"/>
<circle cx="720.7" cy="455.3" r="3.9" fill="url(#go)"/>
<circle cx="759.4" cy="467.0" r="3.9" fill="url(#go)"/>
<circle cx="733.4" cy="481.0" r="3.9" fill="url(#go)"/>
<circle cx="720.7" cy="505.6" r="3.9" fill="url(#go)"/>
<circle cx="759.4" cy="495.0" r="3.9" fill="url(#go)"/>
<circle cx="744.1" cy="520.8" r="3.9" fill="url(#go)"/>
<circle cx="281.0" cy="398.6" r="3.9" fill="url(#go)"/>
<circle cx="294.0" cy="427.0" r="3.9" fill="url(#go)"/>
<circle cx="294.0" cy="453.0" r="3.9" fill="url(#go)"/>
<circle cx="281.0" cy="480.0" r="3.9" fill="url(#go)"/>
<circle cx="294.0" cy="508.0" r="3.9" fill="url(#go)"/>
<circle cx="758.3" cy="465.8" r="3.9" fill="url(#go)"/>
<circle cx="786.4" cy="413.0" r="3.9" fill="url(#go)"/>
<circle cx="786.4" cy="494.0" r="3.9" fill="url(#go)"/>
<circle cx="800.4" cy="522.0" r="3.9" fill="url(#go)"/>
<circle cx="127.6" cy="398.8" r="6.6" fill="url(#gsi)"/>
<circle cx="127.6" cy="439.8" r="6.6" fill="url(#gsi)"/>
<circle cx="127.6" cy="480.7" r="6.6" fill="url(#gsi)"/>
<circle cx="127.6" cy="521.3" r="6.6" fill="url(#gsi)"/>
<circle cx="148.5" cy="419.2" r="6.6" fill="url(#gsi)"/>
<circle cx="148.5" cy="460.3" r="6.6" fill="url(#gsi)"/>
<circle cx="148.5" cy="501.1" r="6.6" fill="url(#gsi)"/>
<circle cx="169.4" cy="398.8" r="6.6" fill="url(#gsi)"/>
<circle cx="169.4" cy="439.8" r="6.6" fill="url(#gsi)"/>
<circle cx="169.4" cy="480.7" r="6.6" fill="url(#gsi)"/>
<circle cx="169.4" cy="521.3" r="6.6" fill="url(#gsi)"/>
<circle cx="190.3" cy="419.2" r="6.6" fill="url(#gsi)"/>
<circle cx="190.3" cy="460.3" r="6.6" fill="url(#gsi)"/>
<circle cx="190.3" cy="501.1" r="6.6" fill="url(#gsi)"/>
<circle cx="211.2" cy="398.8" r="6.6" fill="url(#gsi)"/>
<circle cx="211.2" cy="439.8" r="6.6" fill="url(#gsi)"/>
<circle cx="211.2" cy="480.7" r="6.6" fill="url(#gsi)"/>
<circle cx="211.2" cy="521.3" r="6.6" fill="url(#gsi)"/>
<circle cx="232.1" cy="419.2" r="6.6" fill="url(#gsi)"/>
<circle cx="232.1" cy="460.3" r="6.6" fill="url(#gsi)"/>
<circle cx="232.1" cy="501.1" r="6.6" fill="url(#gsi)"/>
<circle cx="253.0" cy="398.8" r="6.6" fill="url(#gsi)"/>
<circle cx="253.0" cy="439.8" r="6.6" fill="url(#gsi)"/>
<circle cx="253.0" cy="480.7" r="6.6" fill="url(#gsi)"/>
<circle cx="253.0" cy="521.3" r="6.6" fill="url(#gsi)"/>
<circle cx="274.0" cy="416.0" r="6.6" fill="url(#gsi)"/>
<circle cx="274.0" cy="463.0" r="6.6" fill="url(#gsi)"/>
<circle cx="274.0" cy="498.5" r="6.6" fill="url(#gsi)"/>
<circle cx="827.4" cy="398.8" r="6.6" fill="url(#gsi)"/>
<circle cx="827.4" cy="439.8" r="6.6" fill="url(#gsi)"/>
<circle cx="827.4" cy="480.7" r="6.6" fill="url(#gsi)"/>
<circle cx="827.4" cy="521.3" r="6.6" fill="url(#gsi)"/>
<circle cx="848.2" cy="419.2" r="6.6" fill="url(#gsi)"/>
<circle cx="848.2" cy="460.3" r="6.6" fill="url(#gsi)"/>
<circle cx="848.2" cy="501.1" r="6.6" fill="url(#gsi)"/>
<circle cx="869.1" cy="398.8" r="6.6" fill="url(#gsi)"/>
<circle cx="869.1" cy="439.8" r="6.6" fill="url(#gsi)"/>
<circle cx="869.1" cy="480.7" r="6.6" fill="url(#gsi)"/>
<circle cx="869.1" cy="521.3" r="6.6" fill="url(#gsi)"/>
<circle cx="889.9" cy="419.2" r="6.6" fill="url(#gsi)"/>
<circle cx="889.9" cy="460.3" r="6.6" fill="url(#gsi)"/>
<circle cx="889.9" cy="501.1" r="6.6" fill="url(#gsi)"/>
<circle cx="910.8" cy="398.8" r="6.6" fill="url(#gsi)"/>
<circle cx="910.8" cy="439.8" r="6.6" fill="url(#gsi)"/>
<circle cx="910.8" cy="480.7" r="6.6" fill="url(#gsi)"/>
<circle cx="910.8" cy="521.3" r="6.6" fill="url(#gsi)"/>
<circle cx="931.6" cy="419.2" r="6.6" fill="url(#gsi)"/>
<circle cx="931.6" cy="460.3" r="6.6" fill="url(#gsi)"/>
<circle cx="931.6" cy="501.1" r="6.6" fill="url(#gsi)"/>
<circle cx="952.5" cy="398.8" r="6.6" fill="url(#gsi)"/>
<circle cx="952.5" cy="439.8" r="6.6" fill="url(#gsi)"/>
<circle cx="952.5" cy="480.7" r="6.6" fill="url(#gsi)"/>
<circle cx="952.5" cy="521.3" r="6.6" fill="url(#gsi)"/>
<circle cx="973.4" cy="419.2" r="6.6" fill="url(#gsi)"/>
<circle cx="973.4" cy="460.3" r="6.6" fill="url(#gsi)"/>
<circle cx="973.4" cy="501.1" r="6.6" fill="url(#gsi)"/>
<circle cx="994.2" cy="398.8" r="6.6" fill="url(#gsi)"/>
<circle cx="994.2" cy="439.8" r="6.6" fill="url(#gsi)"/>
<circle cx="994.2" cy="480.7" r="6.6" fill="url(#gsi)"/>
<circle cx="994.2" cy="521.3" r="6.6" fill="url(#gsi)"/>
<circle cx="1015.0" cy="419.2" r="6.6" fill="url(#gsi)"/>
<circle cx="1015.0" cy="460.3" r="6.6" fill="url(#gsi)"/>
<circle cx="1015.0" cy="501.1" r="6.6" fill="url(#gsi)"/>
<circle cx="807.3" cy="422.7" r="6.6" fill="url(#gsi)"/>
<circle cx="807.3" cy="504.5" r="6.6" fill="url(#gsi)"/>
<circle cx="340.7" cy="419.0" r="6.6" fill="url(#gsi)"/>
<circle cx="340.7" cy="460.0" r="6.6" fill="url(#gsi)"/>
<circle cx="340.7" cy="501.0" r="6.6" fill="url(#gsi)"/>
<circle cx="407.1" cy="419.0" r="6.6" fill="url(#gsi)"/>
<circle cx="407.1" cy="460.0" r="6.6" fill="url(#gsi)"/>
<circle cx="407.1" cy="501.0" r="6.6" fill="url(#gsi)"/>
<circle cx="473.6" cy="419.0" r="6.6" fill="url(#gsi)"/>
<circle cx="473.6" cy="460.0" r="6.6" fill="url(#gsi)"/>
<circle cx="473.6" cy="501.0" r="6.6" fill="url(#gsi)"/>
<circle cx="540.0" cy="419.0" r="6.6" fill="url(#gsi)"/>
<circle cx="540.0" cy="460.0" r="6.6" fill="url(#gsi)"/>
<circle cx="540.0" cy="501.0" r="6.6" fill="url(#gsi)"/>
<circle cx="606.5" cy="419.0" r="6.6" fill="url(#gsi)"/>
<circle cx="606.5" cy="460.0" r="6.6" fill="url(#gsi)"/>
<circle cx="606.5" cy="501.0" r="6.6" fill="url(#gsi)"/>
<circle cx="673.0" cy="419.0" r="6.6" fill="url(#gsi)"/>
<circle cx="673.0" cy="460.0" r="6.6" fill="url(#gsi)"/>
<circle cx="673.0" cy="501.0" r="6.6" fill="url(#gsi)"/>
<circle cx="739.4" cy="419.0" r="6.6" fill="url(#gsi)"/>
<circle cx="739.4" cy="460.0" r="6.6" fill="url(#gsi)"/>
<circle cx="739.4" cy="501.0" r="6.6" fill="url(#gsi)"/>
<circle cx="307.9" cy="440.0" r="6.6" fill="url(#gsi)"/>
<circle cx="373.9" cy="481.0" r="6.6" fill="url(#gsi)"/>
<circle cx="440.3" cy="440.0" r="6.6" fill="url(#gsi)"/>
<circle cx="506.8" cy="481.0" r="6.6" fill="url(#gsi)"/>
<circle cx="573.2" cy="440.0" r="6.6" fill="url(#gsi)"/>
<circle cx="639.7" cy="481.0" r="6.6" fill="url(#gsi)"/>
<circle cx="706.1" cy="440.0" r="6.6" fill="url(#gsi)"/>
<circle cx="771.0" cy="481.0" r="6.6" fill="url(#gsi)"/>
<rect x="130.5" y="419.1" width="867" height="81" fill="none" stroke="#000" stroke-width="1.6"/>
<text x="69.0" y="436.5" font-size="38" text-anchor="start" fill="#000" >(d)</text>
</g>
<g id="pe">
<path d="M132.0 908.4h5.5M997.0 908.4h-5.5M132.0 871.4h11.5M997.0 871.4h-11.5M132.0 834.4h5.5M997.0 834.4h-5.5M132.0 797.4h11.5M997.0 797.4h-11.5M132.0 760.3h5.5M997.0 760.3h-5.5M132.0 723.3h11.5M997.0 723.3h-11.5M132.0 686.3h5.5M997.0 686.3h-5.5M132.0 649.2h11.5M997.0 649.2h-11.5M132.0 612.2h5.5M997.0 612.2h-5.5M132.0 575.2h11.5M997.0 575.2h-11.5M132.0 538.1h5.5M997.0 538.1h-5.5M131.3 908.8v-11.5M131.3 537.6v11.5M206.4 908.8v-5.5M206.4 537.6v5.5M281.6 908.8v-11.5M281.6 537.6v11.5M356.8 908.8v-5.5M356.8 537.6v5.5M431.9 908.8v-11.5M431.9 537.6v11.5M507.1 908.8v-5.5M507.1 537.6v5.5M582.2 908.8v-11.5M582.2 537.6v11.5M657.3 908.8v-5.5M657.3 537.6v5.5M732.5 908.8v-11.5M732.5 537.6v11.5M807.7 908.8v-5.5M807.7 537.6v5.5M882.8 908.8v-11.5M882.8 537.6v11.5M958.0 908.8v-5.5M958.0 537.6v5.5" stroke="#000" stroke-width="4"/>
<rect x="132.0" y="537.6" width="865.0" height="371.19999999999993" fill="none" stroke="#000" stroke-width="4.1"/>
<path d="M130.0 723.4C131.9 723.2 138.4 722.2 141.7 722.4C144.9 722.6 145.6 724.5 149.5 724.4C153.4 724.3 161.5 722.2 165.1 721.9C168.7 721.6 169.1 722.9 171.0 722.8C172.9 722.7 173.9 721.2 176.8 721.1C179.7 721.0 185.2 723.0 188.5 722.4C191.8 721.8 194.0 717.9 196.3 717.6C198.6 717.3 200.1 718.5 202.2 720.5C204.3 722.5 207.1 729.5 209.0 729.3C210.9 729.1 212.1 723.6 213.9 719.5C215.7 715.4 218.2 706.2 219.8 704.9C221.4 703.6 222.4 706.4 223.7 711.7C225.0 717.1 226.0 726.1 227.6 737.0C229.2 747.9 231.6 773.8 233.4 777.1C235.2 780.4 236.5 765.6 238.3 756.6C240.1 747.6 242.7 728.3 244.1 723.4C245.5 718.5 245.8 724.9 247.0 727.3C248.2 729.7 249.7 740.3 251.0 738.0C252.3 735.7 253.6 723.9 254.9 713.7C256.2 703.5 257.2 685.1 258.8 676.6C260.4 668.1 263.0 669.6 264.6 662.9C266.2 656.2 267.4 639.9 268.5 636.6C269.6 633.4 270.5 634.8 271.5 643.4C272.5 652.0 273.3 670.4 274.4 688.3C275.5 706.2 277.0 744.4 278.3 750.7C279.6 757.0 280.9 726.9 282.2 726.3C283.5 725.6 284.8 737.0 286.1 746.8C287.4 756.6 288.9 789.8 290.0 784.9C291.1 780.0 291.9 734.4 292.9 717.6C293.9 700.9 294.9 688.3 295.9 684.4C296.9 680.5 297.8 688.2 298.8 694.1C299.8 700.0 299.8 712.7 301.7 719.5C303.6 726.3 307.7 734.0 310.5 735.1C313.3 736.2 316.2 727.4 318.3 726.3C320.4 725.2 321.2 729.3 323.2 728.3C325.1 727.3 327.9 721.7 330.0 720.5C332.1 719.3 333.9 720.9 336.0 721.1C338.1 721.3 340.3 721.4 342.5 721.8C344.7 722.1 347.3 723.4 349.3 723.2C351.3 723.1 352.4 721.4 354.4 721.0C356.3 720.7 358.8 720.9 360.9 721.2C363.1 721.5 365.3 722.9 367.2 722.9C369.2 722.9 370.8 721.5 372.6 721.1C374.4 720.8 376.0 720.4 377.9 720.9C379.8 721.3 382.4 723.3 384.2 723.6C385.9 724.0 387.1 722.8 388.6 722.8C390.1 722.8 391.6 723.9 393.1 723.6C394.6 723.4 396.1 721.3 397.7 721.5C399.2 721.7 400.6 724.5 402.5 724.7C404.4 724.8 406.8 722.8 409.0 722.4C411.1 722.0 413.5 721.9 415.4 722.2C417.2 722.6 418.5 724.1 419.9 724.4C421.4 724.7 422.2 724.5 424.0 724.0C425.9 723.4 428.7 721.1 430.9 721.1C433.2 721.1 435.7 723.7 437.5 723.9C439.3 724.2 440.1 722.8 441.6 722.6C443.1 722.3 444.7 722.4 446.4 722.3C448.1 722.3 450.0 722.5 451.5 722.4C453.1 722.3 454.1 721.7 455.6 721.9C457.1 722.1 458.6 723.1 460.4 723.4C462.3 723.7 464.5 723.6 466.5 723.8C468.5 724.0 470.5 724.7 472.4 724.4C474.4 724.1 476.5 722.2 478.1 722.1C479.7 721.9 480.6 723.8 482.2 723.7C483.9 723.6 486.1 721.3 487.9 721.5C489.8 721.6 491.6 724.5 493.5 724.6C495.3 724.7 497.2 722.4 499.3 722.0C501.3 721.7 504.0 722.5 505.7 722.4C507.4 722.2 507.9 721.3 509.7 721.1C511.6 720.9 514.4 721.2 516.6 721.2C518.8 721.1 521.0 720.8 523.0 720.9C524.9 721.0 526.5 721.9 528.2 721.9C530.0 722.0 531.6 720.8 533.3 721.2C535.0 721.5 536.7 723.8 538.5 723.8C540.3 723.9 542.1 721.3 544.1 721.3C546.1 721.4 548.5 724.1 550.5 724.3C552.4 724.4 554.3 722.8 555.8 722.2C557.4 721.7 558.4 721.2 559.9 721.1C561.4 720.9 563.0 720.9 565.0 721.3C567.0 721.6 570.0 723.1 571.9 723.4C573.9 723.7 575.3 723.0 576.9 723.1C578.4 723.3 579.7 724.4 581.4 724.5C583.0 724.5 585.2 723.9 586.9 723.6C588.6 723.3 589.6 722.9 591.4 722.7C593.2 722.5 595.8 722.4 597.6 722.3C599.3 722.3 600.0 722.6 601.8 722.7C603.5 722.7 606.0 722.6 608.2 722.6C610.5 722.7 612.9 723.3 615.2 723.0C617.4 722.8 619.7 721.0 621.8 720.9C623.9 720.9 625.9 722.3 627.7 722.8C629.5 723.4 631.2 724.4 632.8 724.4C634.3 724.4 635.5 722.7 637.1 722.7C638.6 722.8 640.1 724.8 642.0 724.6C643.9 724.4 646.5 722.2 648.3 721.6C650.1 721.0 651.2 720.4 652.7 720.9C654.2 721.4 655.4 724.0 657.2 724.5C659.1 725.0 661.9 724.3 663.9 724.0C665.8 723.7 667.2 722.7 669.1 722.7C670.9 722.7 673.2 724.2 674.8 724.0C676.4 723.8 677.2 722.0 678.8 721.5C680.4 721.1 682.5 721.5 684.6 721.4C686.6 721.3 689.1 720.9 691.4 721.0C693.7 721.0 696.4 721.4 698.3 721.7C700.2 721.9 701.1 722.0 702.9 722.5C704.6 723.0 706.9 724.4 708.8 724.7C710.7 725.0 712.3 724.9 714.2 724.4C716.1 723.9 717.4 722.6 720.0 721.7C722.6 720.8 727.1 718.2 730.0 718.8C732.9 719.4 735.1 724.8 737.2 725.4C739.4 726.0 741.0 722.9 742.9 722.5C744.8 722.1 746.9 724.9 748.6 723.1C750.3 721.3 751.2 719.1 752.9 711.7C754.6 704.3 756.9 678.8 758.6 678.8C760.3 678.8 761.5 704.3 762.9 711.7C764.3 719.1 765.1 713.3 767.2 723.1C769.4 732.9 773.6 767.4 775.8 770.3C777.9 773.2 778.4 775.2 780.1 740.3C781.8 705.4 784.1 580.1 785.8 561.0C787.5 541.9 789.1 590.7 790.1 625.8C791.1 660.9 790.4 759.9 791.5 771.8C792.6 783.7 795.3 705.5 796.7 697.4C798.1 689.3 798.6 701.9 800.1 723.1C801.6 744.3 803.6 821.8 805.8 824.7C807.9 827.6 810.9 762.9 813.0 740.3C815.1 717.6 817.0 693.6 818.7 688.8C820.4 684.0 821.1 697.6 823.0 711.7C824.9 725.8 828.1 768.4 830.2 773.2C832.4 778.0 833.8 751.3 835.9 740.3C838.0 729.3 840.1 709.8 843.0 707.4C845.9 705.0 849.4 724.2 853.0 726.0C856.6 727.8 860.9 718.9 864.5 718.0C868.1 717.1 870.0 719.8 874.5 720.8C879.0 721.8 888.0 723.4 891.7 724.0C895.5 724.6 894.9 724.3 897.0 724.2C899.1 724.0 902.2 723.2 904.4 722.9C906.7 722.7 908.3 722.9 910.5 722.7C912.8 722.6 915.1 722.1 917.9 722.1C920.7 722.1 924.6 722.5 927.3 722.5C929.9 722.5 931.7 721.9 933.8 722.1C935.9 722.3 937.5 723.4 939.9 723.6C942.3 723.8 945.4 723.0 948.0 723.1C950.6 723.1 953.1 724.1 955.7 724.1C958.2 724.1 960.5 723.0 963.2 722.9C965.9 722.9 968.9 723.9 971.9 724.0C975.0 724.2 978.7 723.9 981.4 723.9C984.1 723.9 985.8 724.3 988.1 724.1C990.4 723.8 993.9 722.8 995.0 722.5" fill="none" stroke="#595959" stroke-width="3.6" stroke-linejoin="round"/>
<rect x="130.0" y="797.3" width="134.7" height="113.6" fill="#b0143e" fill-opacity="0.5"/>
<rect x="264.7" y="797.3" width="539.7" height="113.6" fill="#185a9e" fill-opacity="0.5"/>
<rect x="804.4" y="797.3" width="194.60000000000002" height="113.6" fill="#b0143e" fill-opacity="0.5"/>
<path d="M264.7 537.6V908.8M804.4 537.6V908.8" stroke="#000" stroke-width="4.6" stroke-dasharray="5.2 4.8" stroke-dashoffset="0.5"/>
<line x1="132.0" y1="797.3" x2="997.0" y2="797.3" stroke="#000" stroke-width="2.2"/>
<text x="207" y="877.3" font-size="58" text-anchor="middle" fill="#fff">Si</text>
<text x="895.5" y="877.3" font-size="58" text-anchor="middle" fill="#fff">Si</text>
<text x="477.5" y="872" font-size="58.5" fill="#fff">SiO<tspan font-size="40" dy="15">2</tspan></text>
<text x="118.0" y="587.7" font-size="37" text-anchor="end" fill="#000" >0.4</text>
<text x="118.0" y="661.7" font-size="37" text-anchor="end" fill="#000" >0.2</text>
<text x="118.0" y="735.8" font-size="37" text-anchor="end" fill="#000" >0.0</text>
<text x="118.0" y="809.9" font-size="37" text-anchor="end" fill="#000" >-0.2</text>
<text x="118.0" y="883.9" font-size="37" text-anchor="end" fill="#000" >-0.4</text>
<text x="131.3" y="951.7" font-size="37" text-anchor="middle" fill="#000" >0</text>
<text x="281.6" y="951.7" font-size="37" text-anchor="middle" fill="#000" >10</text>
<text x="431.9" y="951.7" font-size="37" text-anchor="middle" fill="#000" >20</text>
<text x="582.2" y="951.7" font-size="37" text-anchor="middle" fill="#000" >30</text>
<text x="732.5" y="951.7" font-size="37" text-anchor="middle" fill="#000" >40</text>
<text x="882.8" y="951.7" font-size="37" text-anchor="middle" fill="#000" >50</text>
<text x="564.0" y="1002.5" font-size="49" text-anchor="middle" fill="#000" >z (Å)</text>
<text transform="translate(46,725) rotate(-90)" font-size="50" text-anchor="middle">Δρ(z) (10<tspan font-size="34" dy="-19">-3</tspan><tspan dy="19">ε/Å</tspan><tspan font-size="34" dy="-19">2</tspan><tspan dy="19">)</tspan></text>
</g>
</svg></body></html>
